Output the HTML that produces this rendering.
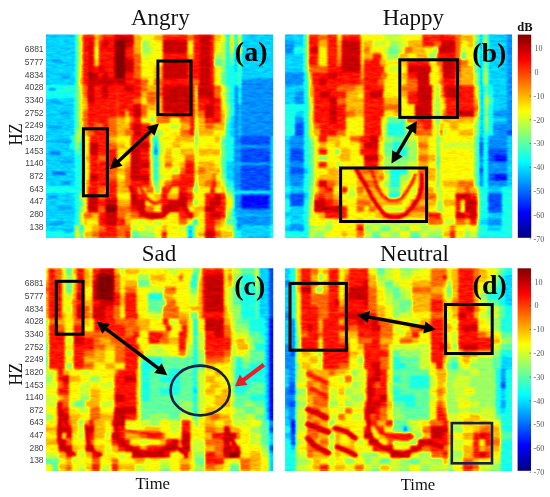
<!DOCTYPE html><html><head><meta charset="utf-8"><title>Spectrograms</title><style>
html,body{margin:0;padding:0;background:#fff;}
body{width:550px;height:497px;overflow:hidden;}
svg{display:block;}
.tt{font-family:"Liberation Serif",serif;font-size:23px;fill:#111;text-anchor:middle;}
.tm{font-family:"Liberation Serif",serif;font-size:16.6px;fill:#111;text-anchor:middle;}
.hz{font-family:"Liberation Serif",serif;font-size:19px;fill:#111;text-anchor:middle;}
.yl{font-family:"Liberation Sans",sans-serif;font-size:8.5px;fill:#444;text-anchor:end;}
.cl{font-family:"Liberation Serif",serif;font-size:8px;fill:#555;}
.db{font-family:"Liberation Serif",serif;font-size:12.5px;font-weight:bold;fill:#111;text-anchor:middle;}
.pl{font-family:"Liberation Serif",serif;font-size:28px;font-weight:bold;fill:#000;text-anchor:middle;}
</style></head><body><svg width="550" height="497" viewBox="0 0 550 497"><defs><filter id="jf" x="-2%" y="-2%" width="104%" height="104%" color-interpolation-filters="sRGB"><feGaussianBlur in="SourceGraphic" stdDeviation="1.0 0.8" result="b"/><feTurbulence type="fractalNoise" baseFrequency="0.14 0.42" numOctaves="2" seed="7" result="t"/><feColorMatrix in="t" type="matrix" values="1 0 0 0 0 1 0 0 0 0 1 0 0 0 0 0 0 0 0 1" result="n"/><feComposite in="b" in2="n" operator="arithmetic" k1="0" k2="1" k3="0.09" k4="-0.045" result="v"/><feComponentTransfer in="v"><feFuncR type="table" tableValues="0 0 0 0 0.5 1 1 1 0.5"/><feFuncG type="table" tableValues="0 0 0.5 1 1 1 0.5 0 0"/><feFuncB type="table" tableValues="0.5 1 1 1 0.5 0 0 0 0"/><feFuncA type="linear" slope="0" intercept="1"/></feComponentTransfer></filter><linearGradient id="jet" x1="0" y1="0" x2="0" y2="1"><stop offset="0.0000" stop-color="#800000"/><stop offset="0.0625" stop-color="#bf0000"/><stop offset="0.1250" stop-color="#ff0000"/><stop offset="0.1875" stop-color="#ff4000"/><stop offset="0.2500" stop-color="#ff8000"/><stop offset="0.3125" stop-color="#ffbf00"/><stop offset="0.3750" stop-color="#ffff00"/><stop offset="0.4375" stop-color="#bfff40"/><stop offset="0.5000" stop-color="#80ff80"/><stop offset="0.5625" stop-color="#40ffbf"/><stop offset="0.6250" stop-color="#00ffff"/><stop offset="0.6875" stop-color="#00bfff"/><stop offset="0.7500" stop-color="#0080ff"/><stop offset="0.8125" stop-color="#0040ff"/><stop offset="0.8750" stop-color="#0000ff"/><stop offset="0.9375" stop-color="#0000bf"/><stop offset="1.0000" stop-color="#000080"/></linearGradient></defs><rect width="550" height="497" fill="#fff"/><clipPath id="cpa"><rect x="46.0" y="34.5" width="227.2" height="203.5"/></clipPath><g clip-path="url(#cpa)"><g filter="url(#jf)"><rect x="44.0" y="34.2" width="32.2" height="6.96" fill="#555555"/><rect x="75.8" y="34.2" width="3.3" height="6.96" fill="#787878"/><rect x="78.7" y="34.2" width="4.1" height="6.96" fill="#a1a1a1"/><rect x="82.4" y="34.2" width="12.7" height="6.96" fill="#dbdbdb"/><rect x="94.7" y="34.2" width="4.1" height="6.96" fill="#b2b2b2"/><rect x="98.4" y="34.2" width="4.7" height="6.96" fill="#c6c6c6"/><rect x="102.7" y="34.2" width="12.1" height="6.96" fill="#dbdbdb"/><rect x="114.4" y="34.2" width="19.7" height="6.96" fill="#ededed"/><rect x="133.7" y="34.2" width="7.7" height="6.96" fill="#b2b2b2"/><rect x="141.0" y="34.2" width="13.4" height="6.96" fill="#a1a1a1"/><rect x="154.0" y="34.2" width="9.2" height="6.96" fill="#b2b2b2"/><rect x="162.8" y="34.2" width="25.1" height="6.96" fill="#dbdbdb"/><rect x="187.5" y="34.2" width="6.3" height="6.96" fill="#c6c6c6"/><rect x="193.4" y="34.2" width="6.2" height="6.96" fill="#dbdbdb"/><rect x="199.2" y="34.2" width="11.2" height="6.96" fill="#ededed"/><rect x="210.0" y="34.2" width="4.8" height="6.96" fill="#dbdbdb"/><rect x="214.4" y="34.2" width="7.3" height="6.96" fill="#b2b2b2"/><rect x="221.3" y="34.2" width="4.8" height="6.96" fill="#a1a1a1"/><rect x="225.7" y="34.2" width="4.8" height="6.96" fill="#666666"/><rect x="230.1" y="34.2" width="4.2" height="6.96" fill="#a1a1a1"/><rect x="233.9" y="34.2" width="4.8" height="6.96" fill="#666666"/><rect x="238.3" y="34.2" width="3.5" height="6.96" fill="#b2b2b2"/><rect x="241.4" y="34.2" width="34.2" height="6.96" fill="#555555"/><rect x="44.0" y="40.6" width="32.2" height="6.96" fill="#555555"/><rect x="75.8" y="40.6" width="3.3" height="6.96" fill="#787878"/><rect x="78.7" y="40.6" width="4.1" height="6.96" fill="#949494"/><rect x="82.4" y="40.6" width="6.2" height="6.96" fill="#dbdbdb"/><rect x="88.2" y="40.6" width="4.7" height="6.96" fill="#ededed"/><rect x="92.5" y="40.6" width="2.6" height="6.96" fill="#dbdbdb"/><rect x="94.7" y="40.6" width="4.1" height="6.96" fill="#a1a1a1"/><rect x="98.4" y="40.6" width="4.7" height="6.96" fill="#dbdbdb"/><rect x="102.7" y="40.6" width="6.2" height="6.96" fill="#ededed"/><rect x="108.5" y="40.6" width="6.3" height="6.96" fill="#dbdbdb"/><rect x="114.4" y="40.6" width="11.0" height="6.96" fill="#ffffff"/><rect x="125.0" y="40.6" width="9.1" height="6.96" fill="#ededed"/><rect x="133.7" y="40.6" width="7.7" height="6.96" fill="#b2b2b2"/><rect x="141.0" y="40.6" width="1.9" height="6.96" fill="#a1a1a1"/><rect x="142.5" y="40.6" width="7.6" height="6.96" fill="#878787"/><rect x="149.7" y="40.6" width="4.7" height="6.96" fill="#a1a1a1"/><rect x="154.0" y="40.6" width="9.2" height="6.96" fill="#a1a1a1"/><rect x="162.8" y="40.6" width="25.1" height="6.96" fill="#ededed"/><rect x="187.5" y="40.6" width="6.3" height="6.96" fill="#a1a1a1"/><rect x="193.4" y="40.6" width="6.2" height="6.96" fill="#dbdbdb"/><rect x="199.2" y="40.6" width="11.2" height="6.96" fill="#ededed"/><rect x="210.0" y="40.6" width="4.8" height="6.96" fill="#dbdbdb"/><rect x="214.4" y="40.6" width="7.3" height="6.96" fill="#a1a1a1"/><rect x="221.3" y="40.6" width="4.8" height="6.96" fill="#949494"/><rect x="225.7" y="40.6" width="4.8" height="6.96" fill="#666666"/><rect x="230.1" y="40.6" width="4.2" height="6.96" fill="#b2b2b2"/><rect x="233.9" y="40.6" width="4.8" height="6.96" fill="#666666"/><rect x="238.3" y="40.6" width="3.5" height="6.96" fill="#b2b2b2"/><rect x="241.4" y="40.6" width="34.2" height="6.96" fill="#555555"/><rect x="44.0" y="46.9" width="32.2" height="6.96" fill="#555555"/><rect x="75.8" y="46.9" width="3.3" height="6.96" fill="#787878"/><rect x="78.7" y="46.9" width="4.1" height="6.96" fill="#949494"/><rect x="82.4" y="46.9" width="6.2" height="6.96" fill="#dbdbdb"/><rect x="88.2" y="46.9" width="4.7" height="6.96" fill="#ededed"/><rect x="92.5" y="46.9" width="2.6" height="6.96" fill="#dbdbdb"/><rect x="94.7" y="46.9" width="4.1" height="6.96" fill="#949494"/><rect x="98.4" y="46.9" width="16.4" height="6.96" fill="#dbdbdb"/><rect x="114.4" y="46.9" width="11.0" height="6.96" fill="#ffffff"/><rect x="125.0" y="46.9" width="9.1" height="6.96" fill="#dbdbdb"/><rect x="133.7" y="46.9" width="7.7" height="6.96" fill="#b2b2b2"/><rect x="141.0" y="46.9" width="1.9" height="6.96" fill="#a1a1a1"/><rect x="142.5" y="46.9" width="7.6" height="6.96" fill="#878787"/><rect x="149.7" y="46.9" width="4.7" height="6.96" fill="#949494"/><rect x="154.0" y="46.9" width="9.2" height="6.96" fill="#a1a1a1"/><rect x="162.8" y="46.9" width="25.1" height="6.96" fill="#ededed"/><rect x="187.5" y="46.9" width="6.3" height="6.96" fill="#a1a1a1"/><rect x="193.4" y="46.9" width="6.2" height="6.96" fill="#dbdbdb"/><rect x="199.2" y="46.9" width="11.2" height="6.96" fill="#ededed"/><rect x="210.0" y="46.9" width="4.8" height="6.96" fill="#dbdbdb"/><rect x="214.4" y="46.9" width="7.3" height="6.96" fill="#a1a1a1"/><rect x="221.3" y="46.9" width="4.8" height="6.96" fill="#949494"/><rect x="225.7" y="46.9" width="4.8" height="6.96" fill="#666666"/><rect x="230.1" y="46.9" width="4.2" height="6.96" fill="#a1a1a1"/><rect x="233.9" y="46.9" width="4.8" height="6.96" fill="#555555"/><rect x="238.3" y="46.9" width="3.5" height="6.96" fill="#c6c6c6"/><rect x="241.4" y="46.9" width="34.2" height="6.96" fill="#555555"/><rect x="44.0" y="53.3" width="32.2" height="6.96" fill="#555555"/><rect x="75.8" y="53.3" width="3.3" height="6.96" fill="#787878"/><rect x="78.7" y="53.3" width="4.1" height="6.96" fill="#949494"/><rect x="82.4" y="53.3" width="6.2" height="6.96" fill="#dbdbdb"/><rect x="88.2" y="53.3" width="4.7" height="6.96" fill="#ededed"/><rect x="92.5" y="53.3" width="2.6" height="6.96" fill="#dbdbdb"/><rect x="94.7" y="53.3" width="4.1" height="6.96" fill="#949494"/><rect x="98.4" y="53.3" width="16.4" height="6.96" fill="#dbdbdb"/><rect x="114.4" y="53.3" width="11.0" height="6.96" fill="#ffffff"/><rect x="125.0" y="53.3" width="9.1" height="6.96" fill="#dbdbdb"/><rect x="133.7" y="53.3" width="7.7" height="6.96" fill="#c6c6c6"/><rect x="141.0" y="53.3" width="1.9" height="6.96" fill="#a1a1a1"/><rect x="142.5" y="53.3" width="7.6" height="6.96" fill="#949494"/><rect x="149.7" y="53.3" width="13.5" height="6.96" fill="#a1a1a1"/><rect x="162.8" y="53.3" width="25.1" height="6.96" fill="#dbdbdb"/><rect x="187.5" y="53.3" width="6.3" height="6.96" fill="#b2b2b2"/><rect x="193.4" y="53.3" width="6.2" height="6.96" fill="#dbdbdb"/><rect x="199.2" y="53.3" width="11.2" height="6.96" fill="#ededed"/><rect x="210.0" y="53.3" width="4.8" height="6.96" fill="#dbdbdb"/><rect x="214.4" y="53.3" width="7.3" height="6.96" fill="#878787"/><rect x="221.3" y="53.3" width="4.8" height="6.96" fill="#949494"/><rect x="225.7" y="53.3" width="4.8" height="6.96" fill="#666666"/><rect x="230.1" y="53.3" width="4.2" height="6.96" fill="#878787"/><rect x="233.9" y="53.3" width="4.8" height="6.96" fill="#555555"/><rect x="238.3" y="53.3" width="3.5" height="6.96" fill="#878787"/><rect x="241.4" y="53.3" width="34.2" height="6.96" fill="#555555"/><rect x="44.0" y="59.6" width="32.2" height="6.96" fill="#555555"/><rect x="75.8" y="59.6" width="3.3" height="6.96" fill="#787878"/><rect x="78.7" y="59.6" width="4.1" height="6.96" fill="#949494"/><rect x="82.4" y="59.6" width="6.2" height="6.96" fill="#dbdbdb"/><rect x="88.2" y="59.6" width="4.7" height="6.96" fill="#ededed"/><rect x="92.5" y="59.6" width="2.6" height="6.96" fill="#dbdbdb"/><rect x="94.7" y="59.6" width="4.1" height="6.96" fill="#a1a1a1"/><rect x="98.4" y="59.6" width="16.4" height="6.96" fill="#dbdbdb"/><rect x="114.4" y="59.6" width="11.0" height="6.96" fill="#ffffff"/><rect x="125.0" y="59.6" width="9.1" height="6.96" fill="#ededed"/><rect x="133.7" y="59.6" width="7.7" height="6.96" fill="#c6c6c6"/><rect x="141.0" y="59.6" width="22.2" height="6.96" fill="#a1a1a1"/><rect x="162.8" y="59.6" width="25.1" height="6.96" fill="#ededed"/><rect x="187.5" y="59.6" width="12.1" height="6.96" fill="#dbdbdb"/><rect x="199.2" y="59.6" width="11.2" height="6.96" fill="#ededed"/><rect x="210.0" y="59.6" width="4.8" height="6.96" fill="#dbdbdb"/><rect x="214.4" y="59.6" width="7.3" height="6.96" fill="#787878"/><rect x="221.3" y="59.6" width="4.8" height="6.96" fill="#878787"/><rect x="225.7" y="59.6" width="4.8" height="6.96" fill="#666666"/><rect x="230.1" y="59.6" width="4.2" height="6.96" fill="#787878"/><rect x="233.9" y="59.6" width="4.8" height="6.96" fill="#555555"/><rect x="238.3" y="59.6" width="3.5" height="6.96" fill="#878787"/><rect x="241.4" y="59.6" width="34.2" height="6.96" fill="#555555"/><rect x="44.0" y="66.0" width="32.2" height="6.96" fill="#555555"/><rect x="75.8" y="66.0" width="3.3" height="6.96" fill="#787878"/><rect x="78.7" y="66.0" width="4.1" height="6.96" fill="#a1a1a1"/><rect x="82.4" y="66.0" width="6.2" height="6.96" fill="#dbdbdb"/><rect x="88.2" y="66.0" width="4.7" height="6.96" fill="#ededed"/><rect x="92.5" y="66.0" width="6.3" height="6.96" fill="#dbdbdb"/><rect x="98.4" y="66.0" width="4.7" height="6.96" fill="#ededed"/><rect x="102.7" y="66.0" width="12.1" height="6.96" fill="#dbdbdb"/><rect x="114.4" y="66.0" width="11.0" height="6.96" fill="#ffffff"/><rect x="125.0" y="66.0" width="9.1" height="6.96" fill="#ededed"/><rect x="133.7" y="66.0" width="7.7" height="6.96" fill="#c6c6c6"/><rect x="141.0" y="66.0" width="13.4" height="6.96" fill="#a1a1a1"/><rect x="154.0" y="66.0" width="9.2" height="6.96" fill="#b2b2b2"/><rect x="162.8" y="66.0" width="25.1" height="6.96" fill="#ededed"/><rect x="187.5" y="66.0" width="12.1" height="6.96" fill="#dbdbdb"/><rect x="199.2" y="66.0" width="11.2" height="6.96" fill="#ededed"/><rect x="210.0" y="66.0" width="4.8" height="6.96" fill="#dbdbdb"/><rect x="214.4" y="66.0" width="7.3" height="6.96" fill="#a1a1a1"/><rect x="221.3" y="66.0" width="4.8" height="6.96" fill="#878787"/><rect x="225.7" y="66.0" width="8.6" height="6.96" fill="#666666"/><rect x="233.9" y="66.0" width="4.8" height="6.96" fill="#555555"/><rect x="238.3" y="66.0" width="3.5" height="6.96" fill="#787878"/><rect x="241.4" y="66.0" width="34.2" height="6.96" fill="#555555"/><rect x="44.0" y="72.4" width="32.2" height="6.96" fill="#555555"/><rect x="75.8" y="72.4" width="3.3" height="6.96" fill="#787878"/><rect x="78.7" y="72.4" width="4.1" height="6.96" fill="#a1a1a1"/><rect x="82.4" y="72.4" width="6.2" height="6.96" fill="#dbdbdb"/><rect x="88.2" y="72.4" width="4.7" height="6.96" fill="#ffffff"/><rect x="92.5" y="72.4" width="6.3" height="6.96" fill="#ededed"/><rect x="98.4" y="72.4" width="4.7" height="6.96" fill="#dbdbdb"/><rect x="102.7" y="72.4" width="6.2" height="6.96" fill="#ededed"/><rect x="108.5" y="72.4" width="6.3" height="6.96" fill="#dbdbdb"/><rect x="114.4" y="72.4" width="11.0" height="6.96" fill="#ffffff"/><rect x="125.0" y="72.4" width="9.1" height="6.96" fill="#dbdbdb"/><rect x="133.7" y="72.4" width="7.7" height="6.96" fill="#c6c6c6"/><rect x="141.0" y="72.4" width="13.4" height="6.96" fill="#a1a1a1"/><rect x="154.0" y="72.4" width="9.2" height="6.96" fill="#b2b2b2"/><rect x="162.8" y="72.4" width="25.1" height="6.96" fill="#ededed"/><rect x="187.5" y="72.4" width="12.1" height="6.96" fill="#dbdbdb"/><rect x="199.2" y="72.4" width="11.2" height="6.96" fill="#ededed"/><rect x="210.0" y="72.4" width="4.8" height="6.96" fill="#dbdbdb"/><rect x="214.4" y="72.4" width="7.3" height="6.96" fill="#a1a1a1"/><rect x="221.3" y="72.4" width="4.8" height="6.96" fill="#787878"/><rect x="225.7" y="72.4" width="8.6" height="6.96" fill="#666666"/><rect x="233.9" y="72.4" width="4.8" height="6.96" fill="#666666"/><rect x="238.3" y="72.4" width="3.5" height="6.96" fill="#787878"/><rect x="241.4" y="72.4" width="34.2" height="6.96" fill="#555555"/><rect x="44.0" y="78.7" width="32.2" height="6.96" fill="#555555"/><rect x="75.8" y="78.7" width="3.3" height="6.96" fill="#787878"/><rect x="78.7" y="78.7" width="4.1" height="6.96" fill="#b2b2b2"/><rect x="82.4" y="78.7" width="6.2" height="6.96" fill="#dbdbdb"/><rect x="88.2" y="78.7" width="26.6" height="6.96" fill="#ededed"/><rect x="114.4" y="78.7" width="11.0" height="6.96" fill="#ededed"/><rect x="125.0" y="78.7" width="9.1" height="6.96" fill="#dbdbdb"/><rect x="133.7" y="78.7" width="7.7" height="6.96" fill="#dbdbdb"/><rect x="141.0" y="78.7" width="7.4" height="6.96" fill="#c6c6c6"/><rect x="148.0" y="78.7" width="6.4" height="6.96" fill="#a1a1a1"/><rect x="154.0" y="78.7" width="9.2" height="6.96" fill="#c6c6c6"/><rect x="162.8" y="78.7" width="25.1" height="6.96" fill="#dbdbdb"/><rect x="187.5" y="78.7" width="6.3" height="6.96" fill="#dbdbdb"/><rect x="193.4" y="78.7" width="6.2" height="6.96" fill="#c6c6c6"/><rect x="199.2" y="78.7" width="11.2" height="6.96" fill="#ededed"/><rect x="210.0" y="78.7" width="4.8" height="6.96" fill="#dbdbdb"/><rect x="214.4" y="78.7" width="7.3" height="6.96" fill="#a1a1a1"/><rect x="221.3" y="78.7" width="4.8" height="6.96" fill="#787878"/><rect x="225.7" y="78.7" width="8.6" height="6.96" fill="#666666"/><rect x="233.9" y="78.7" width="4.8" height="6.96" fill="#666666"/><rect x="238.3" y="78.7" width="3.5" height="6.96" fill="#787878"/><rect x="241.4" y="78.7" width="34.2" height="6.96" fill="#444444"/><rect x="44.0" y="85.1" width="31.4" height="6.96" fill="#666666"/><rect x="75.0" y="85.1" width="4.9" height="6.96" fill="#787878"/><rect x="79.5" y="85.1" width="3.9" height="6.96" fill="#a1a1a1"/><rect x="83.0" y="85.1" width="4.9" height="6.96" fill="#c6c6c6"/><rect x="87.5" y="85.1" width="6.9" height="6.96" fill="#ededed"/><rect x="94.0" y="85.1" width="9.1" height="6.96" fill="#dbdbdb"/><rect x="102.7" y="85.1" width="6.2" height="6.96" fill="#ededed"/><rect x="108.5" y="85.1" width="16.9" height="6.96" fill="#dbdbdb"/><rect x="125.0" y="85.1" width="9.1" height="6.96" fill="#ededed"/><rect x="133.7" y="85.1" width="7.7" height="6.96" fill="#dbdbdb"/><rect x="141.0" y="85.1" width="6.2" height="6.96" fill="#c6c6c6"/><rect x="146.8" y="85.1" width="9.9" height="6.96" fill="#b2b2b2"/><rect x="156.3" y="85.1" width="6.9" height="6.96" fill="#c6c6c6"/><rect x="162.8" y="85.1" width="27.3" height="6.96" fill="#ededed"/><rect x="189.7" y="85.1" width="5.5" height="6.96" fill="#dbdbdb"/><rect x="194.8" y="85.1" width="3.3" height="6.96" fill="#a1a1a1"/><rect x="197.7" y="85.1" width="16.5" height="6.96" fill="#ededed"/><rect x="213.8" y="85.1" width="7.9" height="6.96" fill="#c6c6c6"/><rect x="221.3" y="85.1" width="4.8" height="6.96" fill="#a1a1a1"/><rect x="225.7" y="85.1" width="4.8" height="6.96" fill="#787878"/><rect x="230.1" y="85.1" width="4.8" height="6.96" fill="#666666"/><rect x="234.5" y="85.1" width="4.2" height="6.96" fill="#444444"/><rect x="238.3" y="85.1" width="3.5" height="6.96" fill="#666666"/><rect x="241.4" y="85.1" width="34.2" height="6.96" fill="#444444"/><rect x="44.0" y="91.4" width="31.4" height="6.96" fill="#666666"/><rect x="75.0" y="91.4" width="4.9" height="6.96" fill="#787878"/><rect x="79.5" y="91.4" width="3.9" height="6.96" fill="#a1a1a1"/><rect x="83.0" y="91.4" width="4.9" height="6.96" fill="#c6c6c6"/><rect x="87.5" y="91.4" width="6.9" height="6.96" fill="#ededed"/><rect x="94.0" y="91.4" width="9.1" height="6.96" fill="#dbdbdb"/><rect x="102.7" y="91.4" width="6.2" height="6.96" fill="#ededed"/><rect x="108.5" y="91.4" width="9.2" height="6.96" fill="#dbdbdb"/><rect x="117.3" y="91.4" width="8.1" height="6.96" fill="#dbdbdb"/><rect x="125.0" y="91.4" width="16.4" height="6.96" fill="#dbdbdb"/><rect x="141.0" y="91.4" width="6.2" height="6.96" fill="#b2b2b2"/><rect x="146.8" y="91.4" width="16.4" height="6.96" fill="#c6c6c6"/><rect x="162.8" y="91.4" width="27.3" height="6.96" fill="#ededed"/><rect x="189.7" y="91.4" width="5.5" height="6.96" fill="#dbdbdb"/><rect x="194.8" y="91.4" width="3.3" height="6.96" fill="#949494"/><rect x="197.7" y="91.4" width="16.5" height="6.96" fill="#ededed"/><rect x="213.8" y="91.4" width="7.9" height="6.96" fill="#c6c6c6"/><rect x="221.3" y="91.4" width="4.8" height="6.96" fill="#949494"/><rect x="225.7" y="91.4" width="4.8" height="6.96" fill="#787878"/><rect x="230.1" y="91.4" width="4.8" height="6.96" fill="#666666"/><rect x="234.5" y="91.4" width="4.2" height="6.96" fill="#444444"/><rect x="238.3" y="91.4" width="3.5" height="6.96" fill="#666666"/><rect x="241.4" y="91.4" width="34.2" height="6.96" fill="#444444"/><rect x="44.0" y="97.8" width="31.4" height="6.96" fill="#555555"/><rect x="75.0" y="97.8" width="4.9" height="6.96" fill="#787878"/><rect x="79.5" y="97.8" width="3.9" height="6.96" fill="#a1a1a1"/><rect x="83.0" y="97.8" width="4.9" height="6.96" fill="#b2b2b2"/><rect x="87.5" y="97.8" width="6.9" height="6.96" fill="#ededed"/><rect x="94.0" y="97.8" width="23.7" height="6.96" fill="#dbdbdb"/><rect x="117.3" y="97.8" width="8.1" height="6.96" fill="#dbdbdb"/><rect x="125.0" y="97.8" width="9.1" height="6.96" fill="#dbdbdb"/><rect x="133.7" y="97.8" width="7.7" height="6.96" fill="#c6c6c6"/><rect x="141.0" y="97.8" width="6.2" height="6.96" fill="#a1a1a1"/><rect x="146.8" y="97.8" width="9.6" height="6.96" fill="#c6c6c6"/><rect x="156.0" y="97.8" width="7.2" height="6.96" fill="#b2b2b2"/><rect x="162.8" y="97.8" width="27.3" height="6.96" fill="#ededed"/><rect x="189.7" y="97.8" width="5.5" height="6.96" fill="#dbdbdb"/><rect x="194.8" y="97.8" width="3.3" height="6.96" fill="#a1a1a1"/><rect x="197.7" y="97.8" width="12.7" height="6.96" fill="#dbdbdb"/><rect x="210.0" y="97.8" width="4.2" height="6.96" fill="#ededed"/><rect x="213.8" y="97.8" width="7.9" height="6.96" fill="#dbdbdb"/><rect x="221.3" y="97.8" width="4.8" height="6.96" fill="#a1a1a1"/><rect x="225.7" y="97.8" width="4.8" height="6.96" fill="#787878"/><rect x="230.1" y="97.8" width="4.8" height="6.96" fill="#666666"/><rect x="234.5" y="97.8" width="4.2" height="6.96" fill="#444444"/><rect x="238.3" y="97.8" width="3.5" height="6.96" fill="#666666"/><rect x="241.4" y="97.8" width="34.2" height="6.96" fill="#444444"/><rect x="44.0" y="104.2" width="31.4" height="6.96" fill="#555555"/><rect x="75.0" y="104.2" width="4.9" height="6.96" fill="#787878"/><rect x="79.5" y="104.2" width="3.9" height="6.96" fill="#a1a1a1"/><rect x="83.0" y="104.2" width="4.9" height="6.96" fill="#b2b2b2"/><rect x="87.5" y="104.2" width="21.4" height="6.96" fill="#dbdbdb"/><rect x="108.5" y="104.2" width="9.2" height="6.96" fill="#dbdbdb"/><rect x="117.3" y="104.2" width="8.1" height="6.96" fill="#dbdbdb"/><rect x="125.0" y="104.2" width="9.1" height="6.96" fill="#dbdbdb"/><rect x="133.7" y="104.2" width="7.7" height="6.96" fill="#ededed"/><rect x="141.0" y="104.2" width="6.2" height="6.96" fill="#c6c6c6"/><rect x="146.8" y="104.2" width="16.4" height="6.96" fill="#b2b2b2"/><rect x="162.8" y="104.2" width="27.3" height="6.96" fill="#ededed"/><rect x="189.7" y="104.2" width="5.5" height="6.96" fill="#dbdbdb"/><rect x="194.8" y="104.2" width="3.3" height="6.96" fill="#a1a1a1"/><rect x="197.7" y="104.2" width="7.7" height="6.96" fill="#dbdbdb"/><rect x="205.0" y="104.2" width="9.2" height="6.96" fill="#ededed"/><rect x="213.8" y="104.2" width="7.9" height="6.96" fill="#dbdbdb"/><rect x="221.3" y="104.2" width="4.8" height="6.96" fill="#a1a1a1"/><rect x="225.7" y="104.2" width="4.8" height="6.96" fill="#878787"/><rect x="230.1" y="104.2" width="4.8" height="6.96" fill="#666666"/><rect x="234.5" y="104.2" width="4.2" height="6.96" fill="#444444"/><rect x="238.3" y="104.2" width="3.5" height="6.96" fill="#555555"/><rect x="241.4" y="104.2" width="34.2" height="6.96" fill="#444444"/><rect x="44.0" y="110.5" width="31.4" height="6.96" fill="#555555"/><rect x="75.0" y="110.5" width="4.9" height="6.96" fill="#787878"/><rect x="79.5" y="110.5" width="3.9" height="6.96" fill="#a1a1a1"/><rect x="83.0" y="110.5" width="4.9" height="6.96" fill="#c6c6c6"/><rect x="87.5" y="110.5" width="21.4" height="6.96" fill="#dbdbdb"/><rect x="108.5" y="110.5" width="9.2" height="6.96" fill="#dbdbdb"/><rect x="117.3" y="110.5" width="8.1" height="6.96" fill="#dbdbdb"/><rect x="125.0" y="110.5" width="4.4" height="6.96" fill="#b2b2b2"/><rect x="129.0" y="110.5" width="5.1" height="6.96" fill="#dbdbdb"/><rect x="133.7" y="110.5" width="7.7" height="6.96" fill="#ededed"/><rect x="141.0" y="110.5" width="6.2" height="6.96" fill="#c6c6c6"/><rect x="146.8" y="110.5" width="9.6" height="6.96" fill="#a1a1a1"/><rect x="156.0" y="110.5" width="7.2" height="6.96" fill="#b2b2b2"/><rect x="162.8" y="110.5" width="9.6" height="6.96" fill="#dbdbdb"/><rect x="172.0" y="110.5" width="13.4" height="6.96" fill="#ededed"/><rect x="185.0" y="110.5" width="10.2" height="6.96" fill="#dbdbdb"/><rect x="194.8" y="110.5" width="3.3" height="6.96" fill="#a1a1a1"/><rect x="197.7" y="110.5" width="7.7" height="6.96" fill="#c6c6c6"/><rect x="205.0" y="110.5" width="9.2" height="6.96" fill="#ededed"/><rect x="213.8" y="110.5" width="7.9" height="6.96" fill="#dbdbdb"/><rect x="221.3" y="110.5" width="4.8" height="6.96" fill="#b2b2b2"/><rect x="225.7" y="110.5" width="4.8" height="6.96" fill="#878787"/><rect x="230.1" y="110.5" width="4.8" height="6.96" fill="#666666"/><rect x="234.5" y="110.5" width="4.2" height="6.96" fill="#444444"/><rect x="238.3" y="110.5" width="3.5" height="6.96" fill="#555555"/><rect x="241.4" y="110.5" width="34.2" height="6.96" fill="#444444"/><rect x="44.0" y="116.9" width="31.4" height="6.96" fill="#555555"/><rect x="75.0" y="116.9" width="4.9" height="6.96" fill="#787878"/><rect x="79.5" y="116.9" width="3.9" height="6.96" fill="#a1a1a1"/><rect x="83.0" y="116.9" width="4.9" height="6.96" fill="#c6c6c6"/><rect x="87.5" y="116.9" width="21.4" height="6.96" fill="#dbdbdb"/><rect x="108.5" y="116.9" width="9.2" height="6.96" fill="#c6c6c6"/><rect x="117.3" y="116.9" width="8.1" height="6.96" fill="#b2b2b2"/><rect x="125.0" y="116.9" width="5.4" height="6.96" fill="#a1a1a1"/><rect x="130.0" y="116.9" width="4.1" height="6.96" fill="#c6c6c6"/><rect x="133.7" y="116.9" width="7.7" height="6.96" fill="#dbdbdb"/><rect x="141.0" y="116.9" width="9.4" height="6.96" fill="#a1a1a1"/><rect x="150.0" y="116.9" width="6.4" height="6.96" fill="#878787"/><rect x="156.0" y="116.9" width="7.2" height="6.96" fill="#c6c6c6"/><rect x="162.8" y="116.9" width="7.6" height="6.96" fill="#c6c6c6"/><rect x="170.0" y="116.9" width="10.4" height="6.96" fill="#a1a1a1"/><rect x="180.0" y="116.9" width="10.4" height="6.96" fill="#c6c6c6"/><rect x="190.0" y="116.9" width="5.2" height="6.96" fill="#dbdbdb"/><rect x="194.8" y="116.9" width="3.3" height="6.96" fill="#878787"/><rect x="197.7" y="116.9" width="7.7" height="6.96" fill="#b2b2b2"/><rect x="205.0" y="116.9" width="16.7" height="6.96" fill="#dbdbdb"/><rect x="221.3" y="116.9" width="4.8" height="6.96" fill="#b2b2b2"/><rect x="225.7" y="116.9" width="4.8" height="6.96" fill="#787878"/><rect x="230.1" y="116.9" width="4.8" height="6.96" fill="#555555"/><rect x="234.5" y="116.9" width="4.2" height="6.96" fill="#444444"/><rect x="238.3" y="116.9" width="3.5" height="6.96" fill="#555555"/><rect x="241.4" y="116.9" width="34.2" height="6.96" fill="#444444"/><rect x="44.0" y="123.2" width="31.4" height="6.96" fill="#555555"/><rect x="75.0" y="123.2" width="4.9" height="6.96" fill="#787878"/><rect x="79.5" y="123.2" width="3.9" height="6.96" fill="#949494"/><rect x="83.0" y="123.2" width="4.9" height="6.96" fill="#c6c6c6"/><rect x="87.5" y="123.2" width="6.9" height="6.96" fill="#dbdbdb"/><rect x="94.0" y="123.2" width="9.1" height="6.96" fill="#c6c6c6"/><rect x="102.7" y="123.2" width="6.2" height="6.96" fill="#dbdbdb"/><rect x="108.5" y="123.2" width="9.2" height="6.96" fill="#c6c6c6"/><rect x="117.3" y="123.2" width="8.1" height="6.96" fill="#b2b2b2"/><rect x="125.0" y="123.2" width="5.4" height="6.96" fill="#b2b2b2"/><rect x="130.0" y="123.2" width="4.1" height="6.96" fill="#dbdbdb"/><rect x="133.7" y="123.2" width="7.7" height="6.96" fill="#ededed"/><rect x="141.0" y="123.2" width="9.4" height="6.96" fill="#dbdbdb"/><rect x="150.0" y="123.2" width="6.4" height="6.96" fill="#b2b2b2"/><rect x="156.0" y="123.2" width="7.2" height="6.96" fill="#a1a1a1"/><rect x="162.8" y="123.2" width="7.6" height="6.96" fill="#a1a1a1"/><rect x="170.0" y="123.2" width="10.4" height="6.96" fill="#949494"/><rect x="180.0" y="123.2" width="10.4" height="6.96" fill="#b2b2b2"/><rect x="190.0" y="123.2" width="5.2" height="6.96" fill="#dbdbdb"/><rect x="194.8" y="123.2" width="3.3" height="6.96" fill="#878787"/><rect x="197.7" y="123.2" width="7.7" height="6.96" fill="#b2b2b2"/><rect x="205.0" y="123.2" width="9.2" height="6.96" fill="#c6c6c6"/><rect x="213.8" y="123.2" width="12.3" height="6.96" fill="#b2b2b2"/><rect x="225.7" y="123.2" width="4.8" height="6.96" fill="#666666"/><rect x="230.1" y="123.2" width="4.8" height="6.96" fill="#555555"/><rect x="234.5" y="123.2" width="4.2" height="6.96" fill="#444444"/><rect x="238.3" y="123.2" width="3.5" height="6.96" fill="#555555"/><rect x="241.4" y="123.2" width="34.2" height="6.96" fill="#444444"/><rect x="44.0" y="129.6" width="31.4" height="6.96" fill="#555555"/><rect x="75.0" y="129.6" width="4.9" height="6.96" fill="#878787"/><rect x="79.5" y="129.6" width="3.9" height="6.96" fill="#949494"/><rect x="83.0" y="129.6" width="4.9" height="6.96" fill="#b2b2b2"/><rect x="87.5" y="129.6" width="6.9" height="6.96" fill="#c6c6c6"/><rect x="94.0" y="129.6" width="14.9" height="6.96" fill="#dbdbdb"/><rect x="108.5" y="129.6" width="9.2" height="6.96" fill="#c6c6c6"/><rect x="117.3" y="129.6" width="8.1" height="6.96" fill="#b2b2b2"/><rect x="125.0" y="129.6" width="9.1" height="6.96" fill="#c6c6c6"/><rect x="133.7" y="129.6" width="7.7" height="6.96" fill="#ededed"/><rect x="141.0" y="129.6" width="9.4" height="6.96" fill="#dbdbdb"/><rect x="150.0" y="129.6" width="6.4" height="6.96" fill="#b2b2b2"/><rect x="156.0" y="129.6" width="7.2" height="6.96" fill="#878787"/><rect x="162.8" y="129.6" width="17.6" height="6.96" fill="#a1a1a1"/><rect x="180.0" y="129.6" width="10.4" height="6.96" fill="#c6c6c6"/><rect x="190.0" y="129.6" width="5.2" height="6.96" fill="#dbdbdb"/><rect x="194.8" y="129.6" width="3.3" height="6.96" fill="#787878"/><rect x="197.7" y="129.6" width="7.7" height="6.96" fill="#b2b2b2"/><rect x="205.0" y="129.6" width="9.2" height="6.96" fill="#b2b2b2"/><rect x="213.8" y="129.6" width="12.3" height="6.96" fill="#a1a1a1"/><rect x="225.7" y="129.6" width="4.8" height="6.96" fill="#666666"/><rect x="230.1" y="129.6" width="4.8" height="6.96" fill="#555555"/><rect x="234.5" y="129.6" width="4.2" height="6.96" fill="#444444"/><rect x="238.3" y="129.6" width="3.5" height="6.96" fill="#555555"/><rect x="241.4" y="129.6" width="34.2" height="6.96" fill="#444444"/><rect x="44.0" y="135.9" width="26.4" height="6.96" fill="#555555"/><rect x="70.0" y="135.9" width="5.4" height="6.96" fill="#666666"/><rect x="75.0" y="135.9" width="4.9" height="6.96" fill="#949494"/><rect x="79.5" y="135.9" width="5.4" height="6.96" fill="#787878"/><rect x="84.5" y="135.9" width="5.5" height="6.96" fill="#a1a1a1"/><rect x="89.6" y="135.9" width="9.2" height="6.96" fill="#dbdbdb"/><rect x="98.4" y="135.9" width="10.5" height="6.96" fill="#dbdbdb"/><rect x="108.5" y="135.9" width="8.9" height="6.96" fill="#b2b2b2"/><rect x="117.0" y="135.9" width="14.2" height="6.96" fill="#a1a1a1"/><rect x="130.8" y="135.9" width="19.3" height="6.96" fill="#dbdbdb"/><rect x="149.7" y="135.9" width="4.1" height="6.96" fill="#949494"/><rect x="153.4" y="135.9" width="5.5" height="6.96" fill="#666666"/><rect x="158.5" y="135.9" width="16.9" height="6.96" fill="#a1a1a1"/><rect x="175.0" y="135.9" width="20.2" height="6.96" fill="#b2b2b2"/><rect x="194.8" y="135.9" width="3.3" height="6.96" fill="#787878"/><rect x="197.7" y="135.9" width="17.7" height="6.96" fill="#a1a1a1"/><rect x="215.0" y="135.9" width="6.7" height="6.96" fill="#b2b2b2"/><rect x="221.3" y="135.9" width="4.8" height="6.96" fill="#787878"/><rect x="225.7" y="135.9" width="8.6" height="6.96" fill="#666666"/><rect x="233.9" y="135.9" width="7.9" height="6.96" fill="#444444"/><rect x="241.4" y="135.9" width="29.2" height="6.96" fill="#333333"/><rect x="270.2" y="135.9" width="5.4" height="6.96" fill="#555555"/><rect x="44.0" y="142.3" width="26.4" height="6.96" fill="#555555"/><rect x="70.0" y="142.3" width="5.4" height="6.96" fill="#666666"/><rect x="75.0" y="142.3" width="4.9" height="6.96" fill="#878787"/><rect x="79.5" y="142.3" width="5.4" height="6.96" fill="#666666"/><rect x="84.5" y="142.3" width="5.5" height="6.96" fill="#a1a1a1"/><rect x="89.6" y="142.3" width="9.2" height="6.96" fill="#ededed"/><rect x="98.4" y="142.3" width="10.5" height="6.96" fill="#dbdbdb"/><rect x="108.5" y="142.3" width="8.9" height="6.96" fill="#c6c6c6"/><rect x="117.0" y="142.3" width="8.4" height="6.96" fill="#b2b2b2"/><rect x="125.0" y="142.3" width="6.2" height="6.96" fill="#a1a1a1"/><rect x="130.8" y="142.3" width="6.6" height="6.96" fill="#dbdbdb"/><rect x="137.0" y="142.3" width="13.1" height="6.96" fill="#ededed"/><rect x="149.7" y="142.3" width="4.1" height="6.96" fill="#a1a1a1"/><rect x="153.4" y="142.3" width="5.5" height="6.96" fill="#555555"/><rect x="158.5" y="142.3" width="6.2" height="6.96" fill="#949494"/><rect x="164.3" y="142.3" width="8.1" height="6.96" fill="#a1a1a1"/><rect x="172.0" y="142.3" width="8.4" height="6.96" fill="#b2b2b2"/><rect x="180.0" y="142.3" width="15.2" height="6.96" fill="#a1a1a1"/><rect x="194.8" y="142.3" width="3.3" height="6.96" fill="#878787"/><rect x="197.7" y="142.3" width="24.0" height="6.96" fill="#a1a1a1"/><rect x="221.3" y="142.3" width="4.8" height="6.96" fill="#787878"/><rect x="225.7" y="142.3" width="8.6" height="6.96" fill="#666666"/><rect x="233.9" y="142.3" width="7.9" height="6.96" fill="#444444"/><rect x="241.4" y="142.3" width="29.2" height="6.96" fill="#333333"/><rect x="270.2" y="142.3" width="5.4" height="6.96" fill="#555555"/><rect x="44.0" y="148.7" width="26.4" height="6.96" fill="#555555"/><rect x="70.0" y="148.7" width="5.4" height="6.96" fill="#555555"/><rect x="75.0" y="148.7" width="4.9" height="6.96" fill="#787878"/><rect x="79.5" y="148.7" width="5.4" height="6.96" fill="#666666"/><rect x="84.5" y="148.7" width="5.5" height="6.96" fill="#a1a1a1"/><rect x="89.6" y="148.7" width="9.2" height="6.96" fill="#ededed"/><rect x="98.4" y="148.7" width="10.5" height="6.96" fill="#dbdbdb"/><rect x="108.5" y="148.7" width="8.9" height="6.96" fill="#dbdbdb"/><rect x="117.0" y="148.7" width="8.4" height="6.96" fill="#a1a1a1"/><rect x="125.0" y="148.7" width="6.2" height="6.96" fill="#b2b2b2"/><rect x="130.8" y="148.7" width="9.6" height="6.96" fill="#ededed"/><rect x="140.0" y="148.7" width="10.1" height="6.96" fill="#dbdbdb"/><rect x="149.7" y="148.7" width="4.1" height="6.96" fill="#949494"/><rect x="153.4" y="148.7" width="5.5" height="6.96" fill="#444444"/><rect x="158.5" y="148.7" width="6.2" height="6.96" fill="#949494"/><rect x="164.3" y="148.7" width="8.1" height="6.96" fill="#b2b2b2"/><rect x="172.0" y="148.7" width="8.4" height="6.96" fill="#949494"/><rect x="180.0" y="148.7" width="15.2" height="6.96" fill="#b2b2b2"/><rect x="194.8" y="148.7" width="3.3" height="6.96" fill="#878787"/><rect x="197.7" y="148.7" width="24.0" height="6.96" fill="#b2b2b2"/><rect x="221.3" y="148.7" width="4.8" height="6.96" fill="#787878"/><rect x="225.7" y="148.7" width="8.6" height="6.96" fill="#666666"/><rect x="233.9" y="148.7" width="7.9" height="6.96" fill="#444444"/><rect x="241.4" y="148.7" width="29.2" height="6.96" fill="#333333"/><rect x="270.2" y="148.7" width="5.4" height="6.96" fill="#555555"/><rect x="44.0" y="155.0" width="26.4" height="6.96" fill="#555555"/><rect x="70.0" y="155.0" width="5.4" height="6.96" fill="#555555"/><rect x="75.0" y="155.0" width="9.9" height="6.96" fill="#666666"/><rect x="84.5" y="155.0" width="5.5" height="6.96" fill="#b2b2b2"/><rect x="89.6" y="155.0" width="9.2" height="6.96" fill="#dbdbdb"/><rect x="98.4" y="155.0" width="10.5" height="6.96" fill="#c6c6c6"/><rect x="108.5" y="155.0" width="8.9" height="6.96" fill="#dbdbdb"/><rect x="117.0" y="155.0" width="14.2" height="6.96" fill="#a1a1a1"/><rect x="130.8" y="155.0" width="9.6" height="6.96" fill="#ededed"/><rect x="140.0" y="155.0" width="10.1" height="6.96" fill="#dbdbdb"/><rect x="149.7" y="155.0" width="4.1" height="6.96" fill="#949494"/><rect x="153.4" y="155.0" width="5.5" height="6.96" fill="#666666"/><rect x="158.5" y="155.0" width="6.2" height="6.96" fill="#a1a1a1"/><rect x="164.3" y="155.0" width="8.1" height="6.96" fill="#b2b2b2"/><rect x="172.0" y="155.0" width="13.4" height="6.96" fill="#a1a1a1"/><rect x="185.0" y="155.0" width="10.2" height="6.96" fill="#c6c6c6"/><rect x="194.8" y="155.0" width="3.3" height="6.96" fill="#949494"/><rect x="197.7" y="155.0" width="24.0" height="6.96" fill="#a1a1a1"/><rect x="221.3" y="155.0" width="4.8" height="6.96" fill="#787878"/><rect x="225.7" y="155.0" width="8.6" height="6.96" fill="#666666"/><rect x="233.9" y="155.0" width="7.9" height="6.96" fill="#444444"/><rect x="241.4" y="155.0" width="29.2" height="6.96" fill="#333333"/><rect x="270.2" y="155.0" width="5.4" height="6.96" fill="#555555"/><rect x="44.0" y="161.4" width="26.4" height="6.96" fill="#555555"/><rect x="70.0" y="161.4" width="5.4" height="6.96" fill="#555555"/><rect x="75.0" y="161.4" width="9.9" height="6.96" fill="#666666"/><rect x="84.5" y="161.4" width="5.5" height="6.96" fill="#a1a1a1"/><rect x="89.6" y="161.4" width="9.2" height="6.96" fill="#dbdbdb"/><rect x="98.4" y="161.4" width="10.5" height="6.96" fill="#dbdbdb"/><rect x="108.5" y="161.4" width="8.9" height="6.96" fill="#dbdbdb"/><rect x="117.0" y="161.4" width="8.4" height="6.96" fill="#a1a1a1"/><rect x="125.0" y="161.4" width="6.2" height="6.96" fill="#b2b2b2"/><rect x="130.8" y="161.4" width="19.3" height="6.96" fill="#ededed"/><rect x="149.7" y="161.4" width="4.1" height="6.96" fill="#a1a1a1"/><rect x="153.4" y="161.4" width="5.5" height="6.96" fill="#666666"/><rect x="158.5" y="161.4" width="6.2" height="6.96" fill="#949494"/><rect x="164.3" y="161.4" width="8.1" height="6.96" fill="#c6c6c6"/><rect x="172.0" y="161.4" width="8.4" height="6.96" fill="#a1a1a1"/><rect x="180.0" y="161.4" width="5.4" height="6.96" fill="#b2b2b2"/><rect x="185.0" y="161.4" width="10.2" height="6.96" fill="#dbdbdb"/><rect x="194.8" y="161.4" width="3.3" height="6.96" fill="#949494"/><rect x="197.7" y="161.4" width="17.7" height="6.96" fill="#b2b2b2"/><rect x="215.0" y="161.4" width="6.7" height="6.96" fill="#a1a1a1"/><rect x="221.3" y="161.4" width="4.8" height="6.96" fill="#787878"/><rect x="225.7" y="161.4" width="8.6" height="6.96" fill="#555555"/><rect x="233.9" y="161.4" width="7.9" height="6.96" fill="#444444"/><rect x="241.4" y="161.4" width="29.2" height="6.96" fill="#333333"/><rect x="270.2" y="161.4" width="5.4" height="6.96" fill="#555555"/><rect x="44.0" y="167.7" width="26.4" height="6.96" fill="#555555"/><rect x="70.0" y="167.7" width="5.4" height="6.96" fill="#555555"/><rect x="75.0" y="167.7" width="9.9" height="6.96" fill="#666666"/><rect x="84.5" y="167.7" width="5.5" height="6.96" fill="#a1a1a1"/><rect x="89.6" y="167.7" width="9.2" height="6.96" fill="#dbdbdb"/><rect x="98.4" y="167.7" width="10.5" height="6.96" fill="#dbdbdb"/><rect x="108.5" y="167.7" width="8.9" height="6.96" fill="#c6c6c6"/><rect x="117.0" y="167.7" width="8.4" height="6.96" fill="#b2b2b2"/><rect x="125.0" y="167.7" width="6.2" height="6.96" fill="#c6c6c6"/><rect x="130.8" y="167.7" width="9.6" height="6.96" fill="#ededed"/><rect x="140.0" y="167.7" width="10.1" height="6.96" fill="#dbdbdb"/><rect x="149.7" y="167.7" width="4.1" height="6.96" fill="#a1a1a1"/><rect x="153.4" y="167.7" width="5.5" height="6.96" fill="#666666"/><rect x="158.5" y="167.7" width="13.9" height="6.96" fill="#a1a1a1"/><rect x="172.0" y="167.7" width="8.4" height="6.96" fill="#949494"/><rect x="180.0" y="167.7" width="5.4" height="6.96" fill="#c6c6c6"/><rect x="185.0" y="167.7" width="10.2" height="6.96" fill="#dbdbdb"/><rect x="194.8" y="167.7" width="3.3" height="6.96" fill="#a1a1a1"/><rect x="197.7" y="167.7" width="7.7" height="6.96" fill="#c6c6c6"/><rect x="205.0" y="167.7" width="16.7" height="6.96" fill="#b2b2b2"/><rect x="221.3" y="167.7" width="4.8" height="6.96" fill="#787878"/><rect x="225.7" y="167.7" width="8.6" height="6.96" fill="#555555"/><rect x="233.9" y="167.7" width="7.9" height="6.96" fill="#444444"/><rect x="241.4" y="167.7" width="29.2" height="6.96" fill="#333333"/><rect x="270.2" y="167.7" width="5.4" height="6.96" fill="#555555"/><rect x="44.0" y="174.1" width="26.4" height="6.96" fill="#555555"/><rect x="70.0" y="174.1" width="5.4" height="6.96" fill="#555555"/><rect x="75.0" y="174.1" width="9.9" height="6.96" fill="#666666"/><rect x="84.5" y="174.1" width="5.5" height="6.96" fill="#a1a1a1"/><rect x="89.6" y="174.1" width="9.2" height="6.96" fill="#ededed"/><rect x="98.4" y="174.1" width="10.5" height="6.96" fill="#dbdbdb"/><rect x="108.5" y="174.1" width="8.9" height="6.96" fill="#c6c6c6"/><rect x="117.0" y="174.1" width="8.4" height="6.96" fill="#a1a1a1"/><rect x="125.0" y="174.1" width="6.2" height="6.96" fill="#c6c6c6"/><rect x="130.8" y="174.1" width="19.3" height="6.96" fill="#ededed"/><rect x="149.7" y="174.1" width="4.1" height="6.96" fill="#a1a1a1"/><rect x="153.4" y="174.1" width="5.5" height="6.96" fill="#666666"/><rect x="158.5" y="174.1" width="6.2" height="6.96" fill="#949494"/><rect x="164.3" y="174.1" width="8.1" height="6.96" fill="#a1a1a1"/><rect x="172.0" y="174.1" width="8.4" height="6.96" fill="#c6c6c6"/><rect x="180.0" y="174.1" width="15.2" height="6.96" fill="#dbdbdb"/><rect x="194.8" y="174.1" width="3.3" height="6.96" fill="#949494"/><rect x="197.7" y="174.1" width="14.7" height="6.96" fill="#b2b2b2"/><rect x="212.0" y="174.1" width="4.4" height="6.96" fill="#c6c6c6"/><rect x="216.0" y="174.1" width="5.7" height="6.96" fill="#a1a1a1"/><rect x="221.3" y="174.1" width="4.8" height="6.96" fill="#878787"/><rect x="225.7" y="174.1" width="8.6" height="6.96" fill="#555555"/><rect x="233.9" y="174.1" width="7.9" height="6.96" fill="#444444"/><rect x="241.4" y="174.1" width="29.2" height="6.96" fill="#333333"/><rect x="270.2" y="174.1" width="5.4" height="6.96" fill="#555555"/><rect x="44.0" y="180.5" width="26.4" height="6.96" fill="#555555"/><rect x="70.0" y="180.5" width="5.4" height="6.96" fill="#555555"/><rect x="75.0" y="180.5" width="9.9" height="6.96" fill="#666666"/><rect x="84.5" y="180.5" width="5.5" height="6.96" fill="#b2b2b2"/><rect x="89.6" y="180.5" width="9.2" height="6.96" fill="#dbdbdb"/><rect x="98.4" y="180.5" width="10.5" height="6.96" fill="#dbdbdb"/><rect x="108.5" y="180.5" width="8.9" height="6.96" fill="#dbdbdb"/><rect x="117.0" y="180.5" width="8.4" height="6.96" fill="#b2b2b2"/><rect x="125.0" y="180.5" width="6.2" height="6.96" fill="#c6c6c6"/><rect x="130.8" y="180.5" width="19.3" height="6.96" fill="#dbdbdb"/><rect x="149.7" y="180.5" width="4.1" height="6.96" fill="#b2b2b2"/><rect x="153.4" y="180.5" width="5.5" height="6.96" fill="#787878"/><rect x="158.5" y="180.5" width="6.2" height="6.96" fill="#a1a1a1"/><rect x="164.3" y="180.5" width="8.1" height="6.96" fill="#c6c6c6"/><rect x="172.0" y="180.5" width="23.2" height="6.96" fill="#dbdbdb"/><rect x="194.8" y="180.5" width="3.3" height="6.96" fill="#787878"/><rect x="197.7" y="180.5" width="7.7" height="6.96" fill="#b2b2b2"/><rect x="205.0" y="180.5" width="7.4" height="6.96" fill="#c6c6c6"/><rect x="212.0" y="180.5" width="4.4" height="6.96" fill="#dbdbdb"/><rect x="216.0" y="180.5" width="5.7" height="6.96" fill="#b2b2b2"/><rect x="221.3" y="180.5" width="4.8" height="6.96" fill="#949494"/><rect x="225.7" y="180.5" width="8.6" height="6.96" fill="#666666"/><rect x="233.9" y="180.5" width="7.9" height="6.96" fill="#444444"/><rect x="241.4" y="180.5" width="29.2" height="6.96" fill="#333333"/><rect x="270.2" y="180.5" width="5.4" height="6.96" fill="#555555"/><rect x="44.0" y="186.8" width="40.2" height="6.96" fill="#666666"/><rect x="83.8" y="186.8" width="4.1" height="6.96" fill="#a1a1a1"/><rect x="87.5" y="186.8" width="11.3" height="6.96" fill="#dbdbdb"/><rect x="98.4" y="186.8" width="7.6" height="6.96" fill="#c6c6c6"/><rect x="105.6" y="186.8" width="3.3" height="6.96" fill="#b2b2b2"/><rect x="108.5" y="186.8" width="9.2" height="6.96" fill="#dbdbdb"/><rect x="117.3" y="186.8" width="8.1" height="6.96" fill="#b2b2b2"/><rect x="125.0" y="186.8" width="6.2" height="6.96" fill="#b2b2b2"/><rect x="130.8" y="186.8" width="7.7" height="6.96" fill="#dbdbdb"/><rect x="138.1" y="186.8" width="7.7" height="6.96" fill="#a1a1a1"/><rect x="145.4" y="186.8" width="9.1" height="6.96" fill="#c6c6c6"/><rect x="154.1" y="186.8" width="7.7" height="6.96" fill="#878787"/><rect x="161.4" y="186.8" width="6.2" height="6.96" fill="#dbdbdb"/><rect x="167.2" y="186.8" width="12.0" height="6.96" fill="#a1a1a1"/><rect x="178.8" y="186.8" width="9.1" height="6.96" fill="#dbdbdb"/><rect x="187.5" y="186.8" width="6.3" height="6.96" fill="#c6c6c6"/><rect x="193.4" y="186.8" width="4.7" height="6.96" fill="#878787"/><rect x="197.7" y="186.8" width="7.7" height="6.96" fill="#a1a1a1"/><rect x="205.0" y="186.8" width="5.4" height="6.96" fill="#a1a1a1"/><rect x="210.0" y="186.8" width="5.4" height="6.96" fill="#dbdbdb"/><rect x="215.0" y="186.8" width="6.7" height="6.96" fill="#a1a1a1"/><rect x="221.3" y="186.8" width="4.8" height="6.96" fill="#b2b2b2"/><rect x="225.7" y="186.8" width="8.6" height="6.96" fill="#787878"/><rect x="233.9" y="186.8" width="7.9" height="6.96" fill="#444444"/><rect x="241.4" y="186.8" width="29.2" height="6.96" fill="#333333"/><rect x="270.2" y="186.8" width="5.4" height="6.96" fill="#555555"/><rect x="44.0" y="193.2" width="31.4" height="6.96" fill="#555555"/><rect x="75.0" y="193.2" width="4.9" height="6.96" fill="#666666"/><rect x="79.5" y="193.2" width="4.7" height="6.96" fill="#949494"/><rect x="83.8" y="193.2" width="4.1" height="6.96" fill="#a1a1a1"/><rect x="87.5" y="193.2" width="11.3" height="6.96" fill="#ededed"/><rect x="98.4" y="193.2" width="7.6" height="6.96" fill="#c6c6c6"/><rect x="105.6" y="193.2" width="12.1" height="6.96" fill="#dbdbdb"/><rect x="117.3" y="193.2" width="13.9" height="6.96" fill="#a1a1a1"/><rect x="130.8" y="193.2" width="7.7" height="6.96" fill="#ededed"/><rect x="138.1" y="193.2" width="7.7" height="6.96" fill="#dbdbdb"/><rect x="145.4" y="193.2" width="9.1" height="6.96" fill="#a1a1a1"/><rect x="154.1" y="193.2" width="7.7" height="6.96" fill="#b2b2b2"/><rect x="161.4" y="193.2" width="6.2" height="6.96" fill="#ededed"/><rect x="167.2" y="193.2" width="12.0" height="6.96" fill="#b2b2b2"/><rect x="178.8" y="193.2" width="9.1" height="6.96" fill="#ededed"/><rect x="187.5" y="193.2" width="6.3" height="6.96" fill="#dbdbdb"/><rect x="193.4" y="193.2" width="12.0" height="6.96" fill="#a1a1a1"/><rect x="205.0" y="193.2" width="10.4" height="6.96" fill="#dbdbdb"/><rect x="215.0" y="193.2" width="6.7" height="6.96" fill="#ededed"/><rect x="221.3" y="193.2" width="4.8" height="6.96" fill="#dbdbdb"/><rect x="225.7" y="193.2" width="8.6" height="6.96" fill="#949494"/><rect x="233.9" y="193.2" width="7.9" height="6.96" fill="#444444"/><rect x="241.4" y="193.2" width="29.2" height="6.96" fill="#333333"/><rect x="270.2" y="193.2" width="5.4" height="6.96" fill="#555555"/><rect x="44.0" y="199.5" width="31.4" height="6.96" fill="#555555"/><rect x="75.0" y="199.5" width="4.9" height="6.96" fill="#666666"/><rect x="79.5" y="199.5" width="4.7" height="6.96" fill="#787878"/><rect x="83.8" y="199.5" width="4.1" height="6.96" fill="#a1a1a1"/><rect x="87.5" y="199.5" width="11.3" height="6.96" fill="#ededed"/><rect x="98.4" y="199.5" width="7.6" height="6.96" fill="#dbdbdb"/><rect x="105.6" y="199.5" width="12.1" height="6.96" fill="#ededed"/><rect x="117.3" y="199.5" width="13.9" height="6.96" fill="#b2b2b2"/><rect x="130.8" y="199.5" width="15.0" height="6.96" fill="#ededed"/><rect x="145.4" y="199.5" width="16.4" height="6.96" fill="#a1a1a1"/><rect x="161.4" y="199.5" width="6.2" height="6.96" fill="#dbdbdb"/><rect x="167.2" y="199.5" width="20.7" height="6.96" fill="#ededed"/><rect x="187.5" y="199.5" width="6.3" height="6.96" fill="#c6c6c6"/><rect x="193.4" y="199.5" width="4.7" height="6.96" fill="#878787"/><rect x="197.7" y="199.5" width="7.7" height="6.96" fill="#a1a1a1"/><rect x="205.0" y="199.5" width="5.4" height="6.96" fill="#dbdbdb"/><rect x="210.0" y="199.5" width="11.7" height="6.96" fill="#ededed"/><rect x="221.3" y="199.5" width="4.8" height="6.96" fill="#dbdbdb"/><rect x="225.7" y="199.5" width="8.6" height="6.96" fill="#a1a1a1"/><rect x="233.9" y="199.5" width="7.9" height="6.96" fill="#444444"/><rect x="241.4" y="199.5" width="19.0" height="6.96" fill="#222222"/><rect x="260.0" y="199.5" width="10.6" height="6.96" fill="#333333"/><rect x="270.2" y="199.5" width="5.4" height="6.96" fill="#555555"/><rect x="44.0" y="205.9" width="31.4" height="6.96" fill="#555555"/><rect x="75.0" y="205.9" width="4.9" height="6.96" fill="#666666"/><rect x="79.5" y="205.9" width="4.7" height="6.96" fill="#878787"/><rect x="83.8" y="205.9" width="4.1" height="6.96" fill="#a1a1a1"/><rect x="87.5" y="205.9" width="11.3" height="6.96" fill="#ededed"/><rect x="98.4" y="205.9" width="7.6" height="6.96" fill="#c6c6c6"/><rect x="105.6" y="205.9" width="12.1" height="6.96" fill="#ffffff"/><rect x="117.3" y="205.9" width="13.9" height="6.96" fill="#c6c6c6"/><rect x="130.8" y="205.9" width="7.7" height="6.96" fill="#dbdbdb"/><rect x="138.1" y="205.9" width="7.7" height="6.96" fill="#ededed"/><rect x="145.4" y="205.9" width="9.1" height="6.96" fill="#c6c6c6"/><rect x="154.1" y="205.9" width="7.7" height="6.96" fill="#a1a1a1"/><rect x="161.4" y="205.9" width="17.8" height="6.96" fill="#ededed"/><rect x="178.8" y="205.9" width="9.1" height="6.96" fill="#dbdbdb"/><rect x="187.5" y="205.9" width="6.3" height="6.96" fill="#a1a1a1"/><rect x="193.4" y="205.9" width="12.0" height="6.96" fill="#b2b2b2"/><rect x="205.0" y="205.9" width="10.4" height="6.96" fill="#ededed"/><rect x="215.0" y="205.9" width="11.1" height="6.96" fill="#dbdbdb"/><rect x="225.7" y="205.9" width="8.6" height="6.96" fill="#949494"/><rect x="233.9" y="205.9" width="7.9" height="6.96" fill="#444444"/><rect x="241.4" y="205.9" width="29.2" height="6.96" fill="#333333"/><rect x="270.2" y="205.9" width="5.4" height="6.96" fill="#555555"/><rect x="44.0" y="212.3" width="31.4" height="6.96" fill="#555555"/><rect x="75.0" y="212.3" width="4.9" height="6.96" fill="#666666"/><rect x="79.5" y="212.3" width="4.7" height="6.96" fill="#949494"/><rect x="83.8" y="212.3" width="8.6" height="6.96" fill="#c6c6c6"/><rect x="92.0" y="212.3" width="6.8" height="6.96" fill="#b2b2b2"/><rect x="98.4" y="212.3" width="7.6" height="6.96" fill="#dbdbdb"/><rect x="105.6" y="212.3" width="12.1" height="6.96" fill="#ededed"/><rect x="117.3" y="212.3" width="8.1" height="6.96" fill="#c6c6c6"/><rect x="125.0" y="212.3" width="6.2" height="6.96" fill="#b2b2b2"/><rect x="130.8" y="212.3" width="7.7" height="6.96" fill="#c6c6c6"/><rect x="138.1" y="212.3" width="7.7" height="6.96" fill="#dbdbdb"/><rect x="145.4" y="212.3" width="16.4" height="6.96" fill="#ededed"/><rect x="161.4" y="212.3" width="6.2" height="6.96" fill="#c6c6c6"/><rect x="167.2" y="212.3" width="12.0" height="6.96" fill="#a1a1a1"/><rect x="178.8" y="212.3" width="9.1" height="6.96" fill="#dbdbdb"/><rect x="187.5" y="212.3" width="6.3" height="6.96" fill="#ededed"/><rect x="193.4" y="212.3" width="4.7" height="6.96" fill="#b2b2b2"/><rect x="197.7" y="212.3" width="7.7" height="6.96" fill="#a1a1a1"/><rect x="205.0" y="212.3" width="5.4" height="6.96" fill="#dbdbdb"/><rect x="210.0" y="212.3" width="11.7" height="6.96" fill="#ededed"/><rect x="221.3" y="212.3" width="4.8" height="6.96" fill="#dbdbdb"/><rect x="225.7" y="212.3" width="8.6" height="6.96" fill="#878787"/><rect x="233.9" y="212.3" width="7.9" height="6.96" fill="#555555"/><rect x="241.4" y="212.3" width="29.2" height="6.96" fill="#444444"/><rect x="270.2" y="212.3" width="5.4" height="6.96" fill="#555555"/><rect x="44.0" y="218.6" width="31.4" height="6.96" fill="#555555"/><rect x="75.0" y="218.6" width="4.9" height="6.96" fill="#666666"/><rect x="79.5" y="218.6" width="4.7" height="6.96" fill="#949494"/><rect x="83.8" y="218.6" width="4.1" height="6.96" fill="#b2b2b2"/><rect x="87.5" y="218.6" width="11.3" height="6.96" fill="#a1a1a1"/><rect x="98.4" y="218.6" width="7.6" height="6.96" fill="#dbdbdb"/><rect x="105.6" y="218.6" width="12.1" height="6.96" fill="#ededed"/><rect x="117.3" y="218.6" width="8.1" height="6.96" fill="#dbdbdb"/><rect x="125.0" y="218.6" width="6.2" height="6.96" fill="#b2b2b2"/><rect x="130.8" y="218.6" width="7.7" height="6.96" fill="#a1a1a1"/><rect x="138.1" y="218.6" width="7.7" height="6.96" fill="#949494"/><rect x="145.4" y="218.6" width="9.1" height="6.96" fill="#a1a1a1"/><rect x="154.1" y="218.6" width="7.7" height="6.96" fill="#949494"/><rect x="161.4" y="218.6" width="17.8" height="6.96" fill="#a1a1a1"/><rect x="178.8" y="218.6" width="9.1" height="6.96" fill="#c6c6c6"/><rect x="187.5" y="218.6" width="6.3" height="6.96" fill="#a1a1a1"/><rect x="193.4" y="218.6" width="4.7" height="6.96" fill="#666666"/><rect x="197.7" y="218.6" width="7.7" height="6.96" fill="#a1a1a1"/><rect x="205.0" y="218.6" width="10.4" height="6.96" fill="#dbdbdb"/><rect x="215.0" y="218.6" width="6.7" height="6.96" fill="#c6c6c6"/><rect x="221.3" y="218.6" width="4.8" height="6.96" fill="#b2b2b2"/><rect x="225.7" y="218.6" width="8.6" height="6.96" fill="#787878"/><rect x="233.9" y="218.6" width="7.9" height="6.96" fill="#666666"/><rect x="241.4" y="218.6" width="29.2" height="6.96" fill="#444444"/><rect x="270.2" y="218.6" width="5.4" height="6.96" fill="#555555"/><rect x="44.0" y="225.0" width="31.4" height="6.96" fill="#555555"/><rect x="75.0" y="225.0" width="4.9" height="6.96" fill="#949494"/><rect x="79.5" y="225.0" width="4.7" height="6.96" fill="#666666"/><rect x="83.8" y="225.0" width="8.6" height="6.96" fill="#a1a1a1"/><rect x="92.0" y="225.0" width="6.8" height="6.96" fill="#b2b2b2"/><rect x="98.4" y="225.0" width="7.6" height="6.96" fill="#c6c6c6"/><rect x="105.6" y="225.0" width="12.1" height="6.96" fill="#dbdbdb"/><rect x="117.3" y="225.0" width="13.9" height="6.96" fill="#c6c6c6"/><rect x="130.8" y="225.0" width="7.7" height="6.96" fill="#949494"/><rect x="138.1" y="225.0" width="7.7" height="6.96" fill="#a1a1a1"/><rect x="145.4" y="225.0" width="9.1" height="6.96" fill="#949494"/><rect x="154.1" y="225.0" width="7.7" height="6.96" fill="#a1a1a1"/><rect x="161.4" y="225.0" width="6.2" height="6.96" fill="#b2b2b2"/><rect x="167.2" y="225.0" width="12.0" height="6.96" fill="#a1a1a1"/><rect x="178.8" y="225.0" width="9.1" height="6.96" fill="#949494"/><rect x="187.5" y="225.0" width="6.3" height="6.96" fill="#555555"/><rect x="193.4" y="225.0" width="4.7" height="6.96" fill="#949494"/><rect x="197.7" y="225.0" width="7.7" height="6.96" fill="#a1a1a1"/><rect x="205.0" y="225.0" width="10.4" height="6.96" fill="#dbdbdb"/><rect x="215.0" y="225.0" width="6.7" height="6.96" fill="#b2b2b2"/><rect x="221.3" y="225.0" width="4.8" height="6.96" fill="#a1a1a1"/><rect x="225.7" y="225.0" width="8.6" height="6.96" fill="#949494"/><rect x="233.9" y="225.0" width="7.9" height="6.96" fill="#666666"/><rect x="241.4" y="225.0" width="29.2" height="6.96" fill="#555555"/><rect x="270.2" y="225.0" width="5.4" height="6.96" fill="#666666"/><rect x="44.0" y="231.3" width="31.4" height="6.96" fill="#666666"/><rect x="75.0" y="231.3" width="4.9" height="6.96" fill="#a1a1a1"/><rect x="79.5" y="231.3" width="4.7" height="6.96" fill="#787878"/><rect x="83.8" y="231.3" width="8.6" height="6.96" fill="#b2b2b2"/><rect x="92.0" y="231.3" width="6.8" height="6.96" fill="#c6c6c6"/><rect x="98.4" y="231.3" width="19.3" height="6.96" fill="#dbdbdb"/><rect x="117.3" y="231.3" width="8.1" height="6.96" fill="#c6c6c6"/><rect x="125.0" y="231.3" width="6.2" height="6.96" fill="#dbdbdb"/><rect x="130.8" y="231.3" width="7.7" height="6.96" fill="#787878"/><rect x="138.1" y="231.3" width="16.4" height="6.96" fill="#878787"/><rect x="154.1" y="231.3" width="7.7" height="6.96" fill="#a1a1a1"/><rect x="161.4" y="231.3" width="6.2" height="6.96" fill="#dbdbdb"/><rect x="167.2" y="231.3" width="20.7" height="6.96" fill="#a1a1a1"/><rect x="187.5" y="231.3" width="6.3" height="6.96" fill="#555555"/><rect x="193.4" y="231.3" width="4.7" height="6.96" fill="#949494"/><rect x="197.7" y="231.3" width="7.7" height="6.96" fill="#b2b2b2"/><rect x="205.0" y="231.3" width="10.4" height="6.96" fill="#ededed"/><rect x="215.0" y="231.3" width="6.7" height="6.96" fill="#c6c6c6"/><rect x="221.3" y="231.3" width="4.8" height="6.96" fill="#b2b2b2"/><rect x="225.7" y="231.3" width="8.6" height="6.96" fill="#b2b2b2"/><rect x="233.9" y="231.3" width="7.9" height="6.96" fill="#666666"/><rect x="241.4" y="231.3" width="29.2" height="6.96" fill="#555555"/><rect x="270.2" y="231.3" width="5.4" height="6.96" fill="#666666"/><rect x="48" y="126" width="14.0" height="2.5" fill="#444444"/><rect x="56" y="140" width="16.0" height="2.5" fill="#444444"/><rect x="50" y="152" width="10.0" height="2.5" fill="#333333"/><rect x="62" y="160" width="12.0" height="2.5" fill="#444444"/><rect x="52" y="172" width="14.0" height="2.5" fill="#333333"/><rect x="60" y="182" width="10.0" height="2.5" fill="#444444"/><rect x="48" y="196" width="10.0" height="2.5" fill="#444444"/><rect x="58" y="207" width="14.0" height="2.5" fill="#444444"/><rect x="50" y="222" width="14.0" height="2.5" fill="#444444"/><rect x="64" y="230" width="10.0" height="2.5" fill="#444444"/><rect x="50" y="100" width="10.0" height="2.5" fill="#444444"/><rect x="60" y="112" width="10.0" height="2.5" fill="#444444"/><rect x="52" y="60" width="10.0" height="2.5" fill="#444444"/><rect x="62" y="76" width="8.0" height="2.5" fill="#444444"/><rect x="48" y="88" width="8.0" height="2.5" fill="#444444"/><rect x="236.8" y="136" width="4.2" height="94.0" fill="#444444"/><rect x="231.6" y="145.5" width="38.4" height="2.0" fill="#555555"/><rect x="231.6" y="163" width="38.4" height="2.0" fill="#555555"/><rect x="231.6" y="190.8" width="38.4" height="3.0" fill="#666666"/><rect x="231.6" y="209.5" width="38.4" height="2.0" fill="#555555"/><rect x="231.6" y="214" width="38.4" height="2.0" fill="#555555"/><rect x="242" y="195" width="26.0" height="13.5" fill="#222222"/><path d="M130.7,187.1 L135.5,201.3 L142.6,213.1 L152.0,217.8 L161.5,216.6 L168.6,210.7 L170.9,203.6 L175.7,202.5 L182.7,206.0 L187.5,210.7" fill="none" stroke="#ededed" stroke-width="4" stroke-linecap="round" stroke-linejoin="round"/><path d="M137.8,181.0 L141.4,189.5 L147.3,198.9 L154.4,203.6 L161.5,201.3 L166.2,194.2 L170.9,186.0" fill="none" stroke="#dbdbdb" stroke-width="3.5" stroke-linecap="round" stroke-linejoin="round"/></g></g><clipPath id="cpb"><rect x="285.1" y="34.5" width="226.9" height="203.5"/></clipPath><g clip-path="url(#cpb)"><g filter="url(#jf)"><rect x="283.1" y="34.2" width="21.2" height="6.96" fill="#555555"/><rect x="303.9" y="34.2" width="4.8" height="6.96" fill="#787878"/><rect x="308.3" y="34.2" width="10.6" height="6.96" fill="#dbdbdb"/><rect x="318.5" y="34.2" width="9.1" height="6.96" fill="#c6c6c6"/><rect x="327.2" y="34.2" width="10.6" height="6.96" fill="#dbdbdb"/><rect x="337.4" y="34.2" width="4.7" height="6.96" fill="#a1a1a1"/><rect x="341.7" y="34.2" width="19.3" height="6.96" fill="#dbdbdb"/><rect x="360.6" y="34.2" width="24.2" height="6.96" fill="#a1a1a1"/><rect x="384.4" y="34.2" width="17.8" height="6.96" fill="#949494"/><rect x="401.8" y="34.2" width="20.8" height="6.96" fill="#a1a1a1"/><rect x="422.2" y="34.2" width="19.3" height="6.96" fill="#dbdbdb"/><rect x="441.1" y="34.2" width="2.3" height="6.96" fill="#ededed"/><rect x="443.0" y="34.2" width="12.9" height="6.96" fill="#dbdbdb"/><rect x="455.5" y="34.2" width="5.5" height="6.96" fill="#c6c6c6"/><rect x="460.6" y="34.2" width="14.2" height="6.96" fill="#b2b2b2"/><rect x="474.4" y="34.2" width="5.4" height="6.96" fill="#878787"/><rect x="479.4" y="34.2" width="4.2" height="6.96" fill="#555555"/><rect x="483.2" y="34.2" width="5.4" height="6.96" fill="#878787"/><rect x="488.2" y="34.2" width="19.2" height="6.96" fill="#555555"/><rect x="507.0" y="34.2" width="7.4" height="6.96" fill="#444444"/><rect x="283.1" y="40.6" width="11.3" height="6.96" fill="#444444"/><rect x="294.0" y="40.6" width="10.3" height="6.96" fill="#555555"/><rect x="303.9" y="40.6" width="4.8" height="6.96" fill="#787878"/><rect x="308.3" y="40.6" width="10.6" height="6.96" fill="#dbdbdb"/><rect x="318.5" y="40.6" width="9.1" height="6.96" fill="#b2b2b2"/><rect x="327.2" y="40.6" width="10.6" height="6.96" fill="#dbdbdb"/><rect x="337.4" y="40.6" width="4.7" height="6.96" fill="#b2b2b2"/><rect x="341.7" y="40.6" width="19.3" height="6.96" fill="#ededed"/><rect x="360.6" y="40.6" width="3.8" height="6.96" fill="#a1a1a1"/><rect x="364.0" y="40.6" width="9.1" height="6.96" fill="#b2b2b2"/><rect x="372.7" y="40.6" width="12.1" height="6.96" fill="#949494"/><rect x="384.4" y="40.6" width="6.2" height="6.96" fill="#a1a1a1"/><rect x="390.2" y="40.6" width="9.1" height="6.96" fill="#878787"/><rect x="398.9" y="40.6" width="9.1" height="6.96" fill="#949494"/><rect x="407.6" y="40.6" width="15.0" height="6.96" fill="#b2b2b2"/><rect x="422.2" y="40.6" width="12.0" height="6.96" fill="#dbdbdb"/><rect x="433.8" y="40.6" width="7.7" height="6.96" fill="#c6c6c6"/><rect x="441.1" y="40.6" width="14.8" height="6.96" fill="#ededed"/><rect x="455.5" y="40.6" width="5.5" height="6.96" fill="#c6c6c6"/><rect x="460.6" y="40.6" width="7.8" height="6.96" fill="#a1a1a1"/><rect x="468.0" y="40.6" width="6.8" height="6.96" fill="#b2b2b2"/><rect x="474.4" y="40.6" width="5.4" height="6.96" fill="#787878"/><rect x="479.4" y="40.6" width="4.2" height="6.96" fill="#555555"/><rect x="483.2" y="40.6" width="5.4" height="6.96" fill="#949494"/><rect x="488.2" y="40.6" width="19.2" height="6.96" fill="#555555"/><rect x="507.0" y="40.6" width="7.4" height="6.96" fill="#444444"/><rect x="283.1" y="46.9" width="11.3" height="6.96" fill="#444444"/><rect x="294.0" y="46.9" width="10.3" height="6.96" fill="#666666"/><rect x="303.9" y="46.9" width="4.8" height="6.96" fill="#787878"/><rect x="308.3" y="46.9" width="4.1" height="6.96" fill="#dbdbdb"/><rect x="312.0" y="46.9" width="6.9" height="6.96" fill="#ededed"/><rect x="318.5" y="46.9" width="9.1" height="6.96" fill="#a1a1a1"/><rect x="327.2" y="46.9" width="10.6" height="6.96" fill="#dbdbdb"/><rect x="337.4" y="46.9" width="4.7" height="6.96" fill="#b2b2b2"/><rect x="341.7" y="46.9" width="19.3" height="6.96" fill="#ededed"/><rect x="360.6" y="46.9" width="3.8" height="6.96" fill="#a1a1a1"/><rect x="364.0" y="46.9" width="6.2" height="6.96" fill="#c6c6c6"/><rect x="369.8" y="46.9" width="15.0" height="6.96" fill="#a1a1a1"/><rect x="384.4" y="46.9" width="4.7" height="6.96" fill="#949494"/><rect x="388.7" y="46.9" width="10.6" height="6.96" fill="#787878"/><rect x="398.9" y="46.9" width="6.2" height="6.96" fill="#949494"/><rect x="404.7" y="46.9" width="7.7" height="6.96" fill="#c6c6c6"/><rect x="412.0" y="46.9" width="13.5" height="6.96" fill="#b2b2b2"/><rect x="425.1" y="46.9" width="9.1" height="6.96" fill="#a1a1a1"/><rect x="433.8" y="46.9" width="4.8" height="6.96" fill="#878787"/><rect x="438.2" y="46.9" width="17.7" height="6.96" fill="#ededed"/><rect x="455.5" y="46.9" width="5.5" height="6.96" fill="#c6c6c6"/><rect x="460.6" y="46.9" width="7.8" height="6.96" fill="#949494"/><rect x="468.0" y="46.9" width="6.8" height="6.96" fill="#a1a1a1"/><rect x="474.4" y="46.9" width="5.4" height="6.96" fill="#787878"/><rect x="479.4" y="46.9" width="4.2" height="6.96" fill="#555555"/><rect x="483.2" y="46.9" width="5.4" height="6.96" fill="#878787"/><rect x="488.2" y="46.9" width="19.2" height="6.96" fill="#555555"/><rect x="507.0" y="46.9" width="7.4" height="6.96" fill="#444444"/><rect x="283.1" y="53.3" width="21.2" height="6.96" fill="#555555"/><rect x="303.9" y="53.3" width="4.8" height="6.96" fill="#787878"/><rect x="308.3" y="53.3" width="10.6" height="6.96" fill="#dbdbdb"/><rect x="318.5" y="53.3" width="9.1" height="6.96" fill="#a1a1a1"/><rect x="327.2" y="53.3" width="10.6" height="6.96" fill="#dbdbdb"/><rect x="337.4" y="53.3" width="4.7" height="6.96" fill="#b2b2b2"/><rect x="341.7" y="53.3" width="19.3" height="6.96" fill="#ededed"/><rect x="360.6" y="53.3" width="3.8" height="6.96" fill="#a1a1a1"/><rect x="364.0" y="53.3" width="9.1" height="6.96" fill="#b2b2b2"/><rect x="372.7" y="53.3" width="9.2" height="6.96" fill="#dbdbdb"/><rect x="381.5" y="53.3" width="6.2" height="6.96" fill="#a1a1a1"/><rect x="387.3" y="53.3" width="12.0" height="6.96" fill="#878787"/><rect x="398.9" y="53.3" width="9.1" height="6.96" fill="#b2b2b2"/><rect x="407.6" y="53.3" width="9.2" height="6.96" fill="#a1a1a1"/><rect x="416.4" y="53.3" width="12.0" height="6.96" fill="#b2b2b2"/><rect x="428.0" y="53.3" width="9.1" height="6.96" fill="#878787"/><rect x="436.7" y="53.3" width="19.2" height="6.96" fill="#dbdbdb"/><rect x="455.5" y="53.3" width="5.5" height="6.96" fill="#c6c6c6"/><rect x="460.6" y="53.3" width="5.8" height="6.96" fill="#787878"/><rect x="466.0" y="53.3" width="8.8" height="6.96" fill="#a1a1a1"/><rect x="474.4" y="53.3" width="5.4" height="6.96" fill="#787878"/><rect x="479.4" y="53.3" width="4.2" height="6.96" fill="#555555"/><rect x="483.2" y="53.3" width="5.4" height="6.96" fill="#787878"/><rect x="488.2" y="53.3" width="19.2" height="6.96" fill="#555555"/><rect x="507.0" y="53.3" width="7.4" height="6.96" fill="#444444"/><rect x="283.1" y="59.6" width="21.2" height="6.96" fill="#555555"/><rect x="303.9" y="59.6" width="4.8" height="6.96" fill="#787878"/><rect x="308.3" y="59.6" width="10.6" height="6.96" fill="#dbdbdb"/><rect x="318.5" y="59.6" width="9.1" height="6.96" fill="#a1a1a1"/><rect x="327.2" y="59.6" width="10.6" height="6.96" fill="#dbdbdb"/><rect x="337.4" y="59.6" width="4.7" height="6.96" fill="#c6c6c6"/><rect x="341.7" y="59.6" width="19.3" height="6.96" fill="#ededed"/><rect x="360.6" y="59.6" width="3.8" height="6.96" fill="#a1a1a1"/><rect x="364.0" y="59.6" width="16.4" height="6.96" fill="#dbdbdb"/><rect x="380.0" y="59.6" width="6.2" height="6.96" fill="#b2b2b2"/><rect x="385.8" y="59.6" width="15.7" height="6.96" fill="#a1a1a1"/><rect x="401.1" y="59.6" width="6.9" height="6.96" fill="#b2b2b2"/><rect x="407.6" y="59.6" width="22.3" height="6.96" fill="#dbdbdb"/><rect x="429.5" y="59.6" width="7.6" height="6.96" fill="#a1a1a1"/><rect x="436.7" y="59.6" width="6.7" height="6.96" fill="#c6c6c6"/><rect x="443.0" y="59.6" width="12.9" height="6.96" fill="#ededed"/><rect x="455.5" y="59.6" width="5.5" height="6.96" fill="#dbdbdb"/><rect x="460.6" y="59.6" width="7.8" height="6.96" fill="#c6c6c6"/><rect x="468.0" y="59.6" width="6.8" height="6.96" fill="#a1a1a1"/><rect x="474.4" y="59.6" width="5.4" height="6.96" fill="#787878"/><rect x="479.4" y="59.6" width="4.2" height="6.96" fill="#555555"/><rect x="483.2" y="59.6" width="5.4" height="6.96" fill="#787878"/><rect x="488.2" y="59.6" width="19.2" height="6.96" fill="#555555"/><rect x="507.0" y="59.6" width="7.4" height="6.96" fill="#444444"/><rect x="283.1" y="66.0" width="21.2" height="6.96" fill="#555555"/><rect x="303.9" y="66.0" width="4.8" height="6.96" fill="#787878"/><rect x="308.3" y="66.0" width="10.6" height="6.96" fill="#c6c6c6"/><rect x="318.5" y="66.0" width="9.1" height="6.96" fill="#c6c6c6"/><rect x="327.2" y="66.0" width="14.9" height="6.96" fill="#dbdbdb"/><rect x="341.7" y="66.0" width="19.3" height="6.96" fill="#ededed"/><rect x="360.6" y="66.0" width="3.8" height="6.96" fill="#b2b2b2"/><rect x="364.0" y="66.0" width="20.8" height="6.96" fill="#dbdbdb"/><rect x="384.4" y="66.0" width="6.2" height="6.96" fill="#a1a1a1"/><rect x="390.2" y="66.0" width="11.3" height="6.96" fill="#949494"/><rect x="401.1" y="66.0" width="6.9" height="6.96" fill="#a1a1a1"/><rect x="407.6" y="66.0" width="23.7" height="6.96" fill="#ededed"/><rect x="430.9" y="66.0" width="9.1" height="6.96" fill="#a1a1a1"/><rect x="439.6" y="66.0" width="3.8" height="6.96" fill="#c6c6c6"/><rect x="443.0" y="66.0" width="12.9" height="6.96" fill="#ededed"/><rect x="455.5" y="66.0" width="5.5" height="6.96" fill="#dbdbdb"/><rect x="460.6" y="66.0" width="14.2" height="6.96" fill="#b2b2b2"/><rect x="474.4" y="66.0" width="5.4" height="6.96" fill="#787878"/><rect x="479.4" y="66.0" width="4.2" height="6.96" fill="#555555"/><rect x="483.2" y="66.0" width="5.4" height="6.96" fill="#878787"/><rect x="488.2" y="66.0" width="19.2" height="6.96" fill="#555555"/><rect x="507.0" y="66.0" width="7.4" height="6.96" fill="#444444"/><rect x="283.1" y="72.4" width="21.2" height="6.96" fill="#444444"/><rect x="303.9" y="72.4" width="4.8" height="6.96" fill="#666666"/><rect x="308.3" y="72.4" width="4.1" height="6.96" fill="#b2b2b2"/><rect x="312.0" y="72.4" width="15.6" height="6.96" fill="#dbdbdb"/><rect x="327.2" y="72.4" width="10.6" height="6.96" fill="#ededed"/><rect x="337.4" y="72.4" width="23.6" height="6.96" fill="#dbdbdb"/><rect x="360.6" y="72.4" width="3.8" height="6.96" fill="#b2b2b2"/><rect x="364.0" y="72.4" width="17.9" height="6.96" fill="#dbdbdb"/><rect x="381.5" y="72.4" width="6.2" height="6.96" fill="#c6c6c6"/><rect x="387.3" y="72.4" width="14.2" height="6.96" fill="#a1a1a1"/><rect x="401.1" y="72.4" width="6.9" height="6.96" fill="#b2b2b2"/><rect x="407.6" y="72.4" width="9.2" height="6.96" fill="#dbdbdb"/><rect x="416.4" y="72.4" width="13.5" height="6.96" fill="#ededed"/><rect x="429.5" y="72.4" width="10.5" height="6.96" fill="#a1a1a1"/><rect x="439.6" y="72.4" width="3.8" height="6.96" fill="#b2b2b2"/><rect x="443.0" y="72.4" width="12.9" height="6.96" fill="#ededed"/><rect x="455.5" y="72.4" width="5.5" height="6.96" fill="#c6c6c6"/><rect x="460.6" y="72.4" width="14.2" height="6.96" fill="#b2b2b2"/><rect x="474.4" y="72.4" width="5.4" height="6.96" fill="#878787"/><rect x="479.4" y="72.4" width="4.2" height="6.96" fill="#555555"/><rect x="483.2" y="72.4" width="5.4" height="6.96" fill="#949494"/><rect x="488.2" y="72.4" width="19.2" height="6.96" fill="#555555"/><rect x="507.0" y="72.4" width="7.4" height="6.96" fill="#444444"/><rect x="283.1" y="78.7" width="21.2" height="6.96" fill="#444444"/><rect x="303.9" y="78.7" width="4.8" height="6.96" fill="#666666"/><rect x="308.3" y="78.7" width="4.1" height="6.96" fill="#a1a1a1"/><rect x="312.0" y="78.7" width="6.9" height="6.96" fill="#dbdbdb"/><rect x="318.5" y="78.7" width="9.1" height="6.96" fill="#ededed"/><rect x="327.2" y="78.7" width="33.8" height="6.96" fill="#dbdbdb"/><rect x="360.6" y="78.7" width="3.8" height="6.96" fill="#c6c6c6"/><rect x="364.0" y="78.7" width="14.9" height="6.96" fill="#dbdbdb"/><rect x="378.5" y="78.7" width="6.3" height="6.96" fill="#c6c6c6"/><rect x="384.4" y="78.7" width="22.2" height="6.96" fill="#a1a1a1"/><rect x="406.2" y="78.7" width="12.0" height="6.96" fill="#c6c6c6"/><rect x="417.8" y="78.7" width="12.1" height="6.96" fill="#ededed"/><rect x="429.5" y="78.7" width="10.5" height="6.96" fill="#a1a1a1"/><rect x="439.6" y="78.7" width="3.8" height="6.96" fill="#c6c6c6"/><rect x="443.0" y="78.7" width="12.9" height="6.96" fill="#dbdbdb"/><rect x="455.5" y="78.7" width="5.5" height="6.96" fill="#c6c6c6"/><rect x="460.6" y="78.7" width="14.2" height="6.96" fill="#b2b2b2"/><rect x="474.4" y="78.7" width="5.4" height="6.96" fill="#878787"/><rect x="479.4" y="78.7" width="4.2" height="6.96" fill="#555555"/><rect x="483.2" y="78.7" width="5.4" height="6.96" fill="#949494"/><rect x="488.2" y="78.7" width="19.2" height="6.96" fill="#555555"/><rect x="507.0" y="78.7" width="7.4" height="6.96" fill="#444444"/><rect x="283.1" y="85.1" width="21.2" height="6.96" fill="#555555"/><rect x="303.9" y="85.1" width="5.5" height="6.96" fill="#666666"/><rect x="309.0" y="85.1" width="4.8" height="6.96" fill="#b2b2b2"/><rect x="313.4" y="85.1" width="24.4" height="6.96" fill="#dbdbdb"/><rect x="337.4" y="85.1" width="18.0" height="6.96" fill="#c6c6c6"/><rect x="355.0" y="85.1" width="9.4" height="6.96" fill="#b2b2b2"/><rect x="364.0" y="85.1" width="20.8" height="6.96" fill="#dbdbdb"/><rect x="384.4" y="85.1" width="17.1" height="6.96" fill="#a1a1a1"/><rect x="401.1" y="85.1" width="17.1" height="6.96" fill="#c6c6c6"/><rect x="417.8" y="85.1" width="15.0" height="6.96" fill="#ededed"/><rect x="432.4" y="85.1" width="4.7" height="6.96" fill="#a1a1a1"/><rect x="436.7" y="85.1" width="3.3" height="6.96" fill="#878787"/><rect x="439.6" y="85.1" width="3.8" height="6.96" fill="#b2b2b2"/><rect x="443.0" y="85.1" width="2.9" height="6.96" fill="#dbdbdb"/><rect x="445.5" y="85.1" width="11.1" height="6.96" fill="#ededed"/><rect x="456.2" y="85.1" width="18.6" height="6.96" fill="#dbdbdb"/><rect x="474.4" y="85.1" width="5.4" height="6.96" fill="#a1a1a1"/><rect x="479.4" y="85.1" width="5.4" height="6.96" fill="#555555"/><rect x="484.4" y="85.1" width="4.2" height="6.96" fill="#787878"/><rect x="488.2" y="85.1" width="5.4" height="6.96" fill="#666666"/><rect x="493.2" y="85.1" width="14.2" height="6.96" fill="#555555"/><rect x="507.0" y="85.1" width="7.4" height="6.96" fill="#444444"/><rect x="283.1" y="91.4" width="12.3" height="6.96" fill="#555555"/><rect x="295.0" y="91.4" width="9.3" height="6.96" fill="#444444"/><rect x="303.9" y="91.4" width="5.5" height="6.96" fill="#666666"/><rect x="309.0" y="91.4" width="4.8" height="6.96" fill="#b2b2b2"/><rect x="313.4" y="91.4" width="7.0" height="6.96" fill="#dbdbdb"/><rect x="320.0" y="91.4" width="10.4" height="6.96" fill="#ededed"/><rect x="330.0" y="91.4" width="16.5" height="6.96" fill="#dbdbdb"/><rect x="346.1" y="91.4" width="12.3" height="6.96" fill="#b2b2b2"/><rect x="358.0" y="91.4" width="6.4" height="6.96" fill="#a1a1a1"/><rect x="364.0" y="91.4" width="6.4" height="6.96" fill="#dbdbdb"/><rect x="370.0" y="91.4" width="13.3" height="6.96" fill="#ededed"/><rect x="382.9" y="91.4" width="18.6" height="6.96" fill="#a1a1a1"/><rect x="401.1" y="91.4" width="6.9" height="6.96" fill="#b2b2b2"/><rect x="407.6" y="91.4" width="10.6" height="6.96" fill="#dbdbdb"/><rect x="417.8" y="91.4" width="15.0" height="6.96" fill="#ededed"/><rect x="432.4" y="91.4" width="4.7" height="6.96" fill="#a1a1a1"/><rect x="436.7" y="91.4" width="3.3" height="6.96" fill="#878787"/><rect x="439.6" y="91.4" width="3.8" height="6.96" fill="#b2b2b2"/><rect x="443.0" y="91.4" width="2.9" height="6.96" fill="#dbdbdb"/><rect x="445.5" y="91.4" width="13.6" height="6.96" fill="#ededed"/><rect x="458.7" y="91.4" width="16.1" height="6.96" fill="#dbdbdb"/><rect x="474.4" y="91.4" width="5.4" height="6.96" fill="#a1a1a1"/><rect x="479.4" y="91.4" width="5.4" height="6.96" fill="#555555"/><rect x="484.4" y="91.4" width="4.2" height="6.96" fill="#878787"/><rect x="488.2" y="91.4" width="5.4" height="6.96" fill="#666666"/><rect x="493.2" y="91.4" width="14.2" height="6.96" fill="#555555"/><rect x="507.0" y="91.4" width="7.4" height="6.96" fill="#444444"/><rect x="283.1" y="97.8" width="12.3" height="6.96" fill="#555555"/><rect x="295.0" y="97.8" width="9.3" height="6.96" fill="#444444"/><rect x="303.9" y="97.8" width="5.5" height="6.96" fill="#666666"/><rect x="309.0" y="97.8" width="4.8" height="6.96" fill="#a1a1a1"/><rect x="313.4" y="97.8" width="17.0" height="6.96" fill="#dbdbdb"/><rect x="330.0" y="97.8" width="7.8" height="6.96" fill="#ededed"/><rect x="337.4" y="97.8" width="9.1" height="6.96" fill="#c6c6c6"/><rect x="346.1" y="97.8" width="18.3" height="6.96" fill="#b2b2b2"/><rect x="364.0" y="97.8" width="20.8" height="6.96" fill="#dbdbdb"/><rect x="384.4" y="97.8" width="17.1" height="6.96" fill="#b2b2b2"/><rect x="401.1" y="97.8" width="6.9" height="6.96" fill="#a1a1a1"/><rect x="407.6" y="97.8" width="10.6" height="6.96" fill="#dbdbdb"/><rect x="417.8" y="97.8" width="15.0" height="6.96" fill="#ededed"/><rect x="432.4" y="97.8" width="4.7" height="6.96" fill="#949494"/><rect x="436.7" y="97.8" width="3.3" height="6.96" fill="#878787"/><rect x="439.6" y="97.8" width="3.8" height="6.96" fill="#a1a1a1"/><rect x="443.0" y="97.8" width="2.9" height="6.96" fill="#b2b2b2"/><rect x="445.5" y="97.8" width="29.3" height="6.96" fill="#dbdbdb"/><rect x="474.4" y="97.8" width="5.4" height="6.96" fill="#b2b2b2"/><rect x="479.4" y="97.8" width="5.4" height="6.96" fill="#555555"/><rect x="484.4" y="97.8" width="4.2" height="6.96" fill="#a1a1a1"/><rect x="488.2" y="97.8" width="5.4" height="6.96" fill="#787878"/><rect x="493.2" y="97.8" width="14.2" height="6.96" fill="#555555"/><rect x="507.0" y="97.8" width="7.4" height="6.96" fill="#444444"/><rect x="283.1" y="104.2" width="26.3" height="6.96" fill="#666666"/><rect x="309.0" y="104.2" width="4.8" height="6.96" fill="#949494"/><rect x="313.4" y="104.2" width="17.0" height="6.96" fill="#dbdbdb"/><rect x="330.0" y="104.2" width="7.8" height="6.96" fill="#ededed"/><rect x="337.4" y="104.2" width="9.1" height="6.96" fill="#dbdbdb"/><rect x="346.1" y="104.2" width="18.3" height="6.96" fill="#b2b2b2"/><rect x="364.0" y="104.2" width="20.8" height="6.96" fill="#dbdbdb"/><rect x="384.4" y="104.2" width="17.1" height="6.96" fill="#c6c6c6"/><rect x="401.1" y="104.2" width="14.2" height="6.96" fill="#a1a1a1"/><rect x="414.9" y="104.2" width="17.9" height="6.96" fill="#ededed"/><rect x="432.4" y="104.2" width="4.7" height="6.96" fill="#949494"/><rect x="436.7" y="104.2" width="3.3" height="6.96" fill="#878787"/><rect x="439.6" y="104.2" width="6.3" height="6.96" fill="#a1a1a1"/><rect x="445.5" y="104.2" width="29.3" height="6.96" fill="#dbdbdb"/><rect x="474.4" y="104.2" width="5.4" height="6.96" fill="#c6c6c6"/><rect x="479.4" y="104.2" width="5.4" height="6.96" fill="#555555"/><rect x="484.4" y="104.2" width="4.2" height="6.96" fill="#949494"/><rect x="488.2" y="104.2" width="5.4" height="6.96" fill="#666666"/><rect x="493.2" y="104.2" width="14.2" height="6.96" fill="#555555"/><rect x="507.0" y="104.2" width="7.4" height="6.96" fill="#444444"/><rect x="283.1" y="110.5" width="12.3" height="6.96" fill="#666666"/><rect x="295.0" y="110.5" width="9.3" height="6.96" fill="#555555"/><rect x="303.9" y="110.5" width="5.5" height="6.96" fill="#666666"/><rect x="309.0" y="110.5" width="4.8" height="6.96" fill="#a1a1a1"/><rect x="313.4" y="110.5" width="17.0" height="6.96" fill="#dbdbdb"/><rect x="330.0" y="110.5" width="7.8" height="6.96" fill="#ededed"/><rect x="337.4" y="110.5" width="9.1" height="6.96" fill="#dbdbdb"/><rect x="346.1" y="110.5" width="9.3" height="6.96" fill="#c6c6c6"/><rect x="355.0" y="110.5" width="9.4" height="6.96" fill="#b2b2b2"/><rect x="364.0" y="110.5" width="20.8" height="6.96" fill="#dbdbdb"/><rect x="384.4" y="110.5" width="9.1" height="6.96" fill="#a1a1a1"/><rect x="393.1" y="110.5" width="8.4" height="6.96" fill="#b2b2b2"/><rect x="401.1" y="110.5" width="14.2" height="6.96" fill="#a1a1a1"/><rect x="414.9" y="110.5" width="17.9" height="6.96" fill="#ededed"/><rect x="432.4" y="110.5" width="4.7" height="6.96" fill="#949494"/><rect x="436.7" y="110.5" width="3.3" height="6.96" fill="#787878"/><rect x="439.6" y="110.5" width="3.8" height="6.96" fill="#a1a1a1"/><rect x="443.0" y="110.5" width="2.9" height="6.96" fill="#c6c6c6"/><rect x="445.5" y="110.5" width="13.6" height="6.96" fill="#dbdbdb"/><rect x="458.7" y="110.5" width="16.1" height="6.96" fill="#ededed"/><rect x="474.4" y="110.5" width="5.4" height="6.96" fill="#b2b2b2"/><rect x="479.4" y="110.5" width="5.4" height="6.96" fill="#555555"/><rect x="484.4" y="110.5" width="4.2" height="6.96" fill="#878787"/><rect x="488.2" y="110.5" width="5.4" height="6.96" fill="#666666"/><rect x="493.2" y="110.5" width="14.2" height="6.96" fill="#444444"/><rect x="507.0" y="110.5" width="7.4" height="6.96" fill="#444444"/><rect x="283.1" y="116.9" width="12.3" height="6.96" fill="#666666"/><rect x="295.0" y="116.9" width="9.3" height="6.96" fill="#444444"/><rect x="303.9" y="116.9" width="5.5" height="6.96" fill="#666666"/><rect x="309.0" y="116.9" width="4.8" height="6.96" fill="#a1a1a1"/><rect x="313.4" y="116.9" width="17.0" height="6.96" fill="#dbdbdb"/><rect x="330.0" y="116.9" width="7.8" height="6.96" fill="#ededed"/><rect x="337.4" y="116.9" width="9.1" height="6.96" fill="#dbdbdb"/><rect x="346.1" y="116.9" width="18.3" height="6.96" fill="#a1a1a1"/><rect x="364.0" y="116.9" width="17.9" height="6.96" fill="#dbdbdb"/><rect x="381.5" y="116.9" width="6.2" height="6.96" fill="#a1a1a1"/><rect x="387.3" y="116.9" width="19.3" height="6.96" fill="#787878"/><rect x="406.2" y="116.9" width="10.6" height="6.96" fill="#c6c6c6"/><rect x="416.4" y="116.9" width="16.4" height="6.96" fill="#dbdbdb"/><rect x="432.4" y="116.9" width="4.7" height="6.96" fill="#949494"/><rect x="436.7" y="116.9" width="3.3" height="6.96" fill="#787878"/><rect x="439.6" y="116.9" width="3.8" height="6.96" fill="#a1a1a1"/><rect x="443.0" y="116.9" width="31.8" height="6.96" fill="#b2b2b2"/><rect x="474.4" y="116.9" width="5.4" height="6.96" fill="#949494"/><rect x="479.4" y="116.9" width="5.4" height="6.96" fill="#555555"/><rect x="484.4" y="116.9" width="4.2" height="6.96" fill="#949494"/><rect x="488.2" y="116.9" width="5.4" height="6.96" fill="#666666"/><rect x="493.2" y="116.9" width="14.2" height="6.96" fill="#555555"/><rect x="507.0" y="116.9" width="7.4" height="6.96" fill="#444444"/><rect x="283.1" y="123.2" width="12.3" height="6.96" fill="#666666"/><rect x="295.0" y="123.2" width="9.3" height="6.96" fill="#333333"/><rect x="303.9" y="123.2" width="5.5" height="6.96" fill="#666666"/><rect x="309.0" y="123.2" width="4.8" height="6.96" fill="#949494"/><rect x="313.4" y="123.2" width="7.0" height="6.96" fill="#c6c6c6"/><rect x="320.0" y="123.2" width="26.5" height="6.96" fill="#dbdbdb"/><rect x="346.1" y="123.2" width="18.3" height="6.96" fill="#a1a1a1"/><rect x="364.0" y="123.2" width="17.9" height="6.96" fill="#dbdbdb"/><rect x="381.5" y="123.2" width="6.2" height="6.96" fill="#949494"/><rect x="387.3" y="123.2" width="17.8" height="6.96" fill="#666666"/><rect x="404.7" y="123.2" width="9.2" height="6.96" fill="#878787"/><rect x="413.5" y="123.2" width="9.1" height="6.96" fill="#c6c6c6"/><rect x="422.2" y="123.2" width="10.6" height="6.96" fill="#dbdbdb"/><rect x="432.4" y="123.2" width="4.7" height="6.96" fill="#a1a1a1"/><rect x="436.7" y="123.2" width="3.3" height="6.96" fill="#878787"/><rect x="439.6" y="123.2" width="3.8" height="6.96" fill="#b2b2b2"/><rect x="443.0" y="123.2" width="7.4" height="6.96" fill="#a1a1a1"/><rect x="450.0" y="123.2" width="9.1" height="6.96" fill="#b2b2b2"/><rect x="458.7" y="123.2" width="16.1" height="6.96" fill="#a1a1a1"/><rect x="474.4" y="123.2" width="5.4" height="6.96" fill="#878787"/><rect x="479.4" y="123.2" width="5.4" height="6.96" fill="#555555"/><rect x="484.4" y="123.2" width="4.2" height="6.96" fill="#878787"/><rect x="488.2" y="123.2" width="5.4" height="6.96" fill="#666666"/><rect x="493.2" y="123.2" width="14.2" height="6.96" fill="#444444"/><rect x="507.0" y="123.2" width="7.4" height="6.96" fill="#444444"/><rect x="283.1" y="129.6" width="12.3" height="6.96" fill="#666666"/><rect x="295.0" y="129.6" width="9.3" height="6.96" fill="#333333"/><rect x="303.9" y="129.6" width="5.5" height="6.96" fill="#666666"/><rect x="309.0" y="129.6" width="4.8" height="6.96" fill="#a1a1a1"/><rect x="313.4" y="129.6" width="7.0" height="6.96" fill="#b2b2b2"/><rect x="320.0" y="129.6" width="17.8" height="6.96" fill="#dbdbdb"/><rect x="337.4" y="129.6" width="9.1" height="6.96" fill="#c6c6c6"/><rect x="346.1" y="129.6" width="18.3" height="6.96" fill="#a1a1a1"/><rect x="364.0" y="129.6" width="17.9" height="6.96" fill="#dbdbdb"/><rect x="381.5" y="129.6" width="6.2" height="6.96" fill="#949494"/><rect x="387.3" y="129.6" width="17.8" height="6.96" fill="#666666"/><rect x="404.7" y="129.6" width="9.2" height="6.96" fill="#878787"/><rect x="413.5" y="129.6" width="19.3" height="6.96" fill="#c6c6c6"/><rect x="432.4" y="129.6" width="4.7" height="6.96" fill="#a1a1a1"/><rect x="436.7" y="129.6" width="3.3" height="6.96" fill="#878787"/><rect x="439.6" y="129.6" width="3.8" height="6.96" fill="#c6c6c6"/><rect x="443.0" y="129.6" width="3.4" height="6.96" fill="#878787"/><rect x="446.0" y="129.6" width="13.1" height="6.96" fill="#a1a1a1"/><rect x="458.7" y="129.6" width="16.1" height="6.96" fill="#b2b2b2"/><rect x="474.4" y="129.6" width="5.4" height="6.96" fill="#878787"/><rect x="479.4" y="129.6" width="5.4" height="6.96" fill="#555555"/><rect x="484.4" y="129.6" width="4.2" height="6.96" fill="#787878"/><rect x="488.2" y="129.6" width="5.4" height="6.96" fill="#666666"/><rect x="493.2" y="129.6" width="14.2" height="6.96" fill="#444444"/><rect x="507.0" y="129.6" width="7.4" height="6.96" fill="#333333"/><rect x="283.1" y="135.9" width="7.3" height="6.96" fill="#555555"/><rect x="290.0" y="135.9" width="14.3" height="6.96" fill="#444444"/><rect x="303.9" y="135.9" width="5.5" height="6.96" fill="#666666"/><rect x="309.0" y="135.9" width="5.4" height="6.96" fill="#878787"/><rect x="314.0" y="135.9" width="4.9" height="6.96" fill="#a1a1a1"/><rect x="318.5" y="135.9" width="9.1" height="6.96" fill="#dbdbdb"/><rect x="327.2" y="135.9" width="13.2" height="6.96" fill="#b2b2b2"/><rect x="340.0" y="135.9" width="10.4" height="6.96" fill="#a1a1a1"/><rect x="350.0" y="135.9" width="10.4" height="6.96" fill="#c6c6c6"/><rect x="360.0" y="135.9" width="10.4" height="6.96" fill="#dbdbdb"/><rect x="370.0" y="135.9" width="8.9" height="6.96" fill="#ededed"/><rect x="378.5" y="135.9" width="6.3" height="6.96" fill="#b2b2b2"/><rect x="384.4" y="135.9" width="9.0" height="6.96" fill="#878787"/><rect x="393.0" y="135.9" width="15.0" height="6.96" fill="#787878"/><rect x="407.6" y="135.9" width="10.6" height="6.96" fill="#949494"/><rect x="417.8" y="135.9" width="10.6" height="6.96" fill="#b2b2b2"/><rect x="428.0" y="135.9" width="9.1" height="6.96" fill="#a1a1a1"/><rect x="436.7" y="135.9" width="3.3" height="6.96" fill="#787878"/><rect x="439.6" y="135.9" width="3.8" height="6.96" fill="#949494"/><rect x="443.0" y="135.9" width="31.8" height="6.96" fill="#a1a1a1"/><rect x="474.4" y="135.9" width="5.4" height="6.96" fill="#787878"/><rect x="479.4" y="135.9" width="4.2" height="6.96" fill="#444444"/><rect x="483.2" y="135.9" width="5.4" height="6.96" fill="#666666"/><rect x="488.2" y="135.9" width="19.2" height="6.96" fill="#444444"/><rect x="507.0" y="135.9" width="7.4" height="6.96" fill="#555555"/><rect x="283.1" y="142.3" width="7.3" height="6.96" fill="#555555"/><rect x="290.0" y="142.3" width="14.3" height="6.96" fill="#444444"/><rect x="303.9" y="142.3" width="5.5" height="6.96" fill="#666666"/><rect x="309.0" y="142.3" width="5.4" height="6.96" fill="#787878"/><rect x="314.0" y="142.3" width="4.9" height="6.96" fill="#a1a1a1"/><rect x="318.5" y="142.3" width="9.1" height="6.96" fill="#b2b2b2"/><rect x="327.2" y="142.3" width="8.2" height="6.96" fill="#a1a1a1"/><rect x="335.0" y="142.3" width="5.4" height="6.96" fill="#b2b2b2"/><rect x="340.0" y="142.3" width="20.4" height="6.96" fill="#a1a1a1"/><rect x="360.0" y="142.3" width="4.4" height="6.96" fill="#c6c6c6"/><rect x="364.0" y="142.3" width="14.9" height="6.96" fill="#ededed"/><rect x="378.5" y="142.3" width="6.3" height="6.96" fill="#a1a1a1"/><rect x="384.4" y="142.3" width="9.0" height="6.96" fill="#787878"/><rect x="393.0" y="142.3" width="7.4" height="6.96" fill="#666666"/><rect x="400.0" y="142.3" width="8.0" height="6.96" fill="#787878"/><rect x="407.6" y="142.3" width="10.6" height="6.96" fill="#878787"/><rect x="417.8" y="142.3" width="10.6" height="6.96" fill="#c6c6c6"/><rect x="428.0" y="142.3" width="9.1" height="6.96" fill="#a1a1a1"/><rect x="436.7" y="142.3" width="3.3" height="6.96" fill="#787878"/><rect x="439.6" y="142.3" width="3.8" height="6.96" fill="#a1a1a1"/><rect x="443.0" y="142.3" width="31.8" height="6.96" fill="#949494"/><rect x="474.4" y="142.3" width="5.4" height="6.96" fill="#787878"/><rect x="479.4" y="142.3" width="4.2" height="6.96" fill="#333333"/><rect x="483.2" y="142.3" width="5.4" height="6.96" fill="#666666"/><rect x="488.2" y="142.3" width="19.2" height="6.96" fill="#444444"/><rect x="507.0" y="142.3" width="7.4" height="6.96" fill="#555555"/><rect x="283.1" y="148.7" width="7.3" height="6.96" fill="#555555"/><rect x="290.0" y="148.7" width="14.3" height="6.96" fill="#333333"/><rect x="303.9" y="148.7" width="5.5" height="6.96" fill="#666666"/><rect x="309.0" y="148.7" width="5.4" height="6.96" fill="#787878"/><rect x="314.0" y="148.7" width="4.9" height="6.96" fill="#a1a1a1"/><rect x="318.5" y="148.7" width="9.1" height="6.96" fill="#dbdbdb"/><rect x="327.2" y="148.7" width="8.2" height="6.96" fill="#a1a1a1"/><rect x="335.0" y="148.7" width="5.4" height="6.96" fill="#878787"/><rect x="340.0" y="148.7" width="10.4" height="6.96" fill="#b2b2b2"/><rect x="350.0" y="148.7" width="10.4" height="6.96" fill="#a1a1a1"/><rect x="360.0" y="148.7" width="18.9" height="6.96" fill="#dbdbdb"/><rect x="378.5" y="148.7" width="6.3" height="6.96" fill="#a1a1a1"/><rect x="384.4" y="148.7" width="9.0" height="6.96" fill="#787878"/><rect x="393.0" y="148.7" width="15.0" height="6.96" fill="#666666"/><rect x="407.6" y="148.7" width="10.6" height="6.96" fill="#878787"/><rect x="417.8" y="148.7" width="10.6" height="6.96" fill="#b2b2b2"/><rect x="428.0" y="148.7" width="9.1" height="6.96" fill="#a1a1a1"/><rect x="436.7" y="148.7" width="3.3" height="6.96" fill="#787878"/><rect x="439.6" y="148.7" width="35.2" height="6.96" fill="#a1a1a1"/><rect x="474.4" y="148.7" width="5.4" height="6.96" fill="#787878"/><rect x="479.4" y="148.7" width="4.2" height="6.96" fill="#333333"/><rect x="483.2" y="148.7" width="5.4" height="6.96" fill="#666666"/><rect x="488.2" y="148.7" width="19.2" height="6.96" fill="#333333"/><rect x="507.0" y="148.7" width="7.4" height="6.96" fill="#555555"/><rect x="283.1" y="155.0" width="7.3" height="6.96" fill="#555555"/><rect x="290.0" y="155.0" width="14.3" height="6.96" fill="#333333"/><rect x="303.9" y="155.0" width="5.5" height="6.96" fill="#666666"/><rect x="309.0" y="155.0" width="5.4" height="6.96" fill="#787878"/><rect x="314.0" y="155.0" width="4.9" height="6.96" fill="#a1a1a1"/><rect x="318.5" y="155.0" width="9.1" height="6.96" fill="#878787"/><rect x="327.2" y="155.0" width="13.2" height="6.96" fill="#a1a1a1"/><rect x="340.0" y="155.0" width="10.4" height="6.96" fill="#b2b2b2"/><rect x="350.0" y="155.0" width="14.4" height="6.96" fill="#a1a1a1"/><rect x="364.0" y="155.0" width="14.9" height="6.96" fill="#ededed"/><rect x="378.5" y="155.0" width="6.3" height="6.96" fill="#b2b2b2"/><rect x="384.4" y="155.0" width="9.0" height="6.96" fill="#878787"/><rect x="393.0" y="155.0" width="15.0" height="6.96" fill="#787878"/><rect x="407.6" y="155.0" width="10.6" height="6.96" fill="#878787"/><rect x="417.8" y="155.0" width="10.6" height="6.96" fill="#c6c6c6"/><rect x="428.0" y="155.0" width="9.1" height="6.96" fill="#b2b2b2"/><rect x="436.7" y="155.0" width="3.3" height="6.96" fill="#666666"/><rect x="439.6" y="155.0" width="35.2" height="6.96" fill="#a1a1a1"/><rect x="474.4" y="155.0" width="5.4" height="6.96" fill="#787878"/><rect x="479.4" y="155.0" width="4.2" height="6.96" fill="#444444"/><rect x="483.2" y="155.0" width="5.4" height="6.96" fill="#666666"/><rect x="488.2" y="155.0" width="7.2" height="6.96" fill="#333333"/><rect x="495.0" y="155.0" width="12.4" height="6.96" fill="#222222"/><rect x="507.0" y="155.0" width="7.4" height="6.96" fill="#555555"/><rect x="283.1" y="161.4" width="7.3" height="6.96" fill="#555555"/><rect x="290.0" y="161.4" width="14.3" height="6.96" fill="#444444"/><rect x="303.9" y="161.4" width="5.5" height="6.96" fill="#666666"/><rect x="309.0" y="161.4" width="5.4" height="6.96" fill="#787878"/><rect x="314.0" y="161.4" width="4.9" height="6.96" fill="#a1a1a1"/><rect x="318.5" y="161.4" width="9.1" height="6.96" fill="#dbdbdb"/><rect x="327.2" y="161.4" width="10.2" height="6.96" fill="#a1a1a1"/><rect x="337.0" y="161.4" width="3.4" height="6.96" fill="#878787"/><rect x="340.0" y="161.4" width="24.4" height="6.96" fill="#a1a1a1"/><rect x="364.0" y="161.4" width="14.9" height="6.96" fill="#dbdbdb"/><rect x="378.5" y="161.4" width="6.3" height="6.96" fill="#a1a1a1"/><rect x="384.4" y="161.4" width="23.6" height="6.96" fill="#878787"/><rect x="407.6" y="161.4" width="10.6" height="6.96" fill="#949494"/><rect x="417.8" y="161.4" width="10.6" height="6.96" fill="#b2b2b2"/><rect x="428.0" y="161.4" width="9.1" height="6.96" fill="#a1a1a1"/><rect x="436.7" y="161.4" width="3.3" height="6.96" fill="#666666"/><rect x="439.6" y="161.4" width="35.2" height="6.96" fill="#a1a1a1"/><rect x="474.4" y="161.4" width="5.4" height="6.96" fill="#787878"/><rect x="479.4" y="161.4" width="4.2" height="6.96" fill="#444444"/><rect x="483.2" y="161.4" width="5.4" height="6.96" fill="#666666"/><rect x="488.2" y="161.4" width="19.2" height="6.96" fill="#444444"/><rect x="507.0" y="161.4" width="7.4" height="6.96" fill="#555555"/><rect x="283.1" y="167.7" width="7.3" height="6.96" fill="#555555"/><rect x="290.0" y="167.7" width="14.3" height="6.96" fill="#333333"/><rect x="303.9" y="167.7" width="5.5" height="6.96" fill="#555555"/><rect x="309.0" y="167.7" width="5.4" height="6.96" fill="#787878"/><rect x="314.0" y="167.7" width="13.6" height="6.96" fill="#a1a1a1"/><rect x="327.2" y="167.7" width="13.2" height="6.96" fill="#b2b2b2"/><rect x="340.0" y="167.7" width="17.4" height="6.96" fill="#a1a1a1"/><rect x="357.0" y="167.7" width="7.4" height="6.96" fill="#c6c6c6"/><rect x="364.0" y="167.7" width="14.9" height="6.96" fill="#c6c6c6"/><rect x="378.5" y="167.7" width="6.3" height="6.96" fill="#b2b2b2"/><rect x="384.4" y="167.7" width="6.0" height="6.96" fill="#878787"/><rect x="390.0" y="167.7" width="18.0" height="6.96" fill="#666666"/><rect x="407.6" y="167.7" width="10.6" height="6.96" fill="#949494"/><rect x="417.8" y="167.7" width="10.6" height="6.96" fill="#c6c6c6"/><rect x="428.0" y="167.7" width="9.1" height="6.96" fill="#b2b2b2"/><rect x="436.7" y="167.7" width="3.3" height="6.96" fill="#787878"/><rect x="439.6" y="167.7" width="35.2" height="6.96" fill="#a1a1a1"/><rect x="474.4" y="167.7" width="5.4" height="6.96" fill="#787878"/><rect x="479.4" y="167.7" width="4.2" height="6.96" fill="#333333"/><rect x="483.2" y="167.7" width="5.4" height="6.96" fill="#666666"/><rect x="488.2" y="167.7" width="19.2" height="6.96" fill="#444444"/><rect x="507.0" y="167.7" width="7.4" height="6.96" fill="#555555"/><rect x="283.1" y="174.1" width="7.3" height="6.96" fill="#555555"/><rect x="290.0" y="174.1" width="14.3" height="6.96" fill="#444444"/><rect x="303.9" y="174.1" width="5.5" height="6.96" fill="#666666"/><rect x="309.0" y="174.1" width="5.4" height="6.96" fill="#787878"/><rect x="314.0" y="174.1" width="4.9" height="6.96" fill="#a1a1a1"/><rect x="318.5" y="174.1" width="21.9" height="6.96" fill="#b2b2b2"/><rect x="340.0" y="174.1" width="17.4" height="6.96" fill="#a1a1a1"/><rect x="357.0" y="174.1" width="21.9" height="6.96" fill="#b2b2b2"/><rect x="378.5" y="174.1" width="6.3" height="6.96" fill="#c6c6c6"/><rect x="384.4" y="174.1" width="6.0" height="6.96" fill="#949494"/><rect x="390.0" y="174.1" width="10.4" height="6.96" fill="#666666"/><rect x="400.0" y="174.1" width="8.0" height="6.96" fill="#878787"/><rect x="407.6" y="174.1" width="10.6" height="6.96" fill="#949494"/><rect x="417.8" y="174.1" width="10.6" height="6.96" fill="#b2b2b2"/><rect x="428.0" y="174.1" width="9.1" height="6.96" fill="#b2b2b2"/><rect x="436.7" y="174.1" width="3.3" height="6.96" fill="#787878"/><rect x="439.6" y="174.1" width="35.2" height="6.96" fill="#a1a1a1"/><rect x="474.4" y="174.1" width="5.4" height="6.96" fill="#787878"/><rect x="479.4" y="174.1" width="4.2" height="6.96" fill="#444444"/><rect x="483.2" y="174.1" width="5.4" height="6.96" fill="#666666"/><rect x="488.2" y="174.1" width="7.2" height="6.96" fill="#333333"/><rect x="495.0" y="174.1" width="12.4" height="6.96" fill="#222222"/><rect x="507.0" y="174.1" width="7.4" height="6.96" fill="#555555"/><rect x="283.1" y="180.5" width="7.3" height="6.96" fill="#555555"/><rect x="290.0" y="180.5" width="14.3" height="6.96" fill="#444444"/><rect x="303.9" y="180.5" width="5.5" height="6.96" fill="#666666"/><rect x="309.0" y="180.5" width="5.4" height="6.96" fill="#787878"/><rect x="314.0" y="180.5" width="4.9" height="6.96" fill="#b2b2b2"/><rect x="318.5" y="180.5" width="9.1" height="6.96" fill="#ededed"/><rect x="327.2" y="180.5" width="8.2" height="6.96" fill="#c6c6c6"/><rect x="335.0" y="180.5" width="5.4" height="6.96" fill="#b2b2b2"/><rect x="340.0" y="180.5" width="17.4" height="6.96" fill="#a1a1a1"/><rect x="357.0" y="180.5" width="7.4" height="6.96" fill="#b2b2b2"/><rect x="364.0" y="180.5" width="14.9" height="6.96" fill="#c6c6c6"/><rect x="378.5" y="180.5" width="6.3" height="6.96" fill="#a1a1a1"/><rect x="384.4" y="180.5" width="6.0" height="6.96" fill="#878787"/><rect x="390.0" y="180.5" width="10.4" height="6.96" fill="#666666"/><rect x="400.0" y="180.5" width="8.0" height="6.96" fill="#949494"/><rect x="407.6" y="180.5" width="10.6" height="6.96" fill="#a1a1a1"/><rect x="417.8" y="180.5" width="10.6" height="6.96" fill="#b2b2b2"/><rect x="428.0" y="180.5" width="9.1" height="6.96" fill="#a1a1a1"/><rect x="436.7" y="180.5" width="3.3" height="6.96" fill="#787878"/><rect x="439.6" y="180.5" width="3.8" height="6.96" fill="#a1a1a1"/><rect x="443.0" y="180.5" width="15.4" height="6.96" fill="#b2b2b2"/><rect x="458.0" y="180.5" width="16.8" height="6.96" fill="#c6c6c6"/><rect x="474.4" y="180.5" width="5.4" height="6.96" fill="#787878"/><rect x="479.4" y="180.5" width="4.2" height="6.96" fill="#444444"/><rect x="483.2" y="180.5" width="5.4" height="6.96" fill="#666666"/><rect x="488.2" y="180.5" width="19.2" height="6.96" fill="#444444"/><rect x="507.0" y="180.5" width="7.4" height="6.96" fill="#555555"/><rect x="283.1" y="186.8" width="7.3" height="6.96" fill="#666666"/><rect x="290.0" y="186.8" width="14.3" height="6.96" fill="#555555"/><rect x="303.9" y="186.8" width="5.5" height="6.96" fill="#666666"/><rect x="309.0" y="186.8" width="5.4" height="6.96" fill="#878787"/><rect x="314.0" y="186.8" width="4.9" height="6.96" fill="#a1a1a1"/><rect x="318.5" y="186.8" width="6.9" height="6.96" fill="#c6c6c6"/><rect x="325.0" y="186.8" width="8.4" height="6.96" fill="#dbdbdb"/><rect x="333.0" y="186.8" width="9.1" height="6.96" fill="#a1a1a1"/><rect x="341.7" y="186.8" width="6.2" height="6.96" fill="#dbdbdb"/><rect x="347.5" y="186.8" width="9.2" height="6.96" fill="#949494"/><rect x="356.3" y="186.8" width="8.1" height="6.96" fill="#c6c6c6"/><rect x="364.0" y="186.8" width="6.2" height="6.96" fill="#949494"/><rect x="369.8" y="186.8" width="10.6" height="6.96" fill="#b2b2b2"/><rect x="380.0" y="186.8" width="9.1" height="6.96" fill="#a1a1a1"/><rect x="388.7" y="186.8" width="12.1" height="6.96" fill="#787878"/><rect x="400.4" y="186.8" width="7.6" height="6.96" fill="#a1a1a1"/><rect x="407.6" y="186.8" width="10.6" height="6.96" fill="#949494"/><rect x="417.8" y="186.8" width="10.6" height="6.96" fill="#c6c6c6"/><rect x="428.0" y="186.8" width="6.2" height="6.96" fill="#b2b2b2"/><rect x="433.8" y="186.8" width="9.6" height="6.96" fill="#949494"/><rect x="443.0" y="186.8" width="12.9" height="6.96" fill="#a1a1a1"/><rect x="455.5" y="186.8" width="9.9" height="6.96" fill="#b2b2b2"/><rect x="465.0" y="186.8" width="5.4" height="6.96" fill="#c6c6c6"/><rect x="470.0" y="186.8" width="7.3" height="6.96" fill="#b2b2b2"/><rect x="476.9" y="186.8" width="2.9" height="6.96" fill="#949494"/><rect x="479.4" y="186.8" width="9.2" height="6.96" fill="#666666"/><rect x="488.2" y="186.8" width="14.2" height="6.96" fill="#555555"/><rect x="502.0" y="186.8" width="12.4" height="6.96" fill="#666666"/><rect x="283.1" y="193.2" width="7.3" height="6.96" fill="#555555"/><rect x="290.0" y="193.2" width="14.3" height="6.96" fill="#333333"/><rect x="303.9" y="193.2" width="5.5" height="6.96" fill="#555555"/><rect x="309.0" y="193.2" width="5.4" height="6.96" fill="#878787"/><rect x="314.0" y="193.2" width="4.9" height="6.96" fill="#c6c6c6"/><rect x="318.5" y="193.2" width="6.9" height="6.96" fill="#dbdbdb"/><rect x="325.0" y="193.2" width="8.4" height="6.96" fill="#c6c6c6"/><rect x="333.0" y="193.2" width="9.1" height="6.96" fill="#b2b2b2"/><rect x="341.7" y="193.2" width="6.2" height="6.96" fill="#a1a1a1"/><rect x="347.5" y="193.2" width="9.2" height="6.96" fill="#949494"/><rect x="356.3" y="193.2" width="8.1" height="6.96" fill="#b2b2b2"/><rect x="364.0" y="193.2" width="4.8" height="6.96" fill="#b2b2b2"/><rect x="368.4" y="193.2" width="4.7" height="6.96" fill="#a1a1a1"/><rect x="372.7" y="193.2" width="10.6" height="6.96" fill="#b2b2b2"/><rect x="382.9" y="193.2" width="6.2" height="6.96" fill="#a1a1a1"/><rect x="388.7" y="193.2" width="12.1" height="6.96" fill="#666666"/><rect x="400.4" y="193.2" width="17.8" height="6.96" fill="#a1a1a1"/><rect x="417.8" y="193.2" width="10.6" height="6.96" fill="#c6c6c6"/><rect x="428.0" y="193.2" width="9.1" height="6.96" fill="#c6c6c6"/><rect x="436.7" y="193.2" width="6.7" height="6.96" fill="#949494"/><rect x="443.0" y="193.2" width="12.9" height="6.96" fill="#a1a1a1"/><rect x="455.5" y="193.2" width="14.9" height="6.96" fill="#ededed"/><rect x="470.0" y="193.2" width="7.3" height="6.96" fill="#dbdbdb"/><rect x="476.9" y="193.2" width="2.9" height="6.96" fill="#a1a1a1"/><rect x="479.4" y="193.2" width="9.2" height="6.96" fill="#666666"/><rect x="488.2" y="193.2" width="14.2" height="6.96" fill="#333333"/><rect x="502.0" y="193.2" width="12.4" height="6.96" fill="#666666"/><rect x="283.1" y="199.5" width="7.3" height="6.96" fill="#666666"/><rect x="290.0" y="199.5" width="14.3" height="6.96" fill="#333333"/><rect x="303.9" y="199.5" width="5.5" height="6.96" fill="#666666"/><rect x="309.0" y="199.5" width="5.4" height="6.96" fill="#878787"/><rect x="314.0" y="199.5" width="11.4" height="6.96" fill="#ededed"/><rect x="325.0" y="199.5" width="8.4" height="6.96" fill="#dbdbdb"/><rect x="333.0" y="199.5" width="9.1" height="6.96" fill="#c6c6c6"/><rect x="341.7" y="199.5" width="15.0" height="6.96" fill="#a1a1a1"/><rect x="356.3" y="199.5" width="8.1" height="6.96" fill="#c6c6c6"/><rect x="364.0" y="199.5" width="7.7" height="6.96" fill="#c6c6c6"/><rect x="371.3" y="199.5" width="7.6" height="6.96" fill="#a1a1a1"/><rect x="378.5" y="199.5" width="7.7" height="6.96" fill="#b2b2b2"/><rect x="385.8" y="199.5" width="3.3" height="6.96" fill="#b2b2b2"/><rect x="388.7" y="199.5" width="15.0" height="6.96" fill="#b2b2b2"/><rect x="403.3" y="199.5" width="7.6" height="6.96" fill="#a1a1a1"/><rect x="410.5" y="199.5" width="7.7" height="6.96" fill="#c6c6c6"/><rect x="417.8" y="199.5" width="19.3" height="6.96" fill="#b2b2b2"/><rect x="436.7" y="199.5" width="6.7" height="6.96" fill="#878787"/><rect x="443.0" y="199.5" width="12.9" height="6.96" fill="#b2b2b2"/><rect x="455.5" y="199.5" width="5.5" height="6.96" fill="#dbdbdb"/><rect x="460.6" y="199.5" width="4.8" height="6.96" fill="#a1a1a1"/><rect x="465.0" y="199.5" width="12.3" height="6.96" fill="#ededed"/><rect x="476.9" y="199.5" width="2.9" height="6.96" fill="#b2b2b2"/><rect x="479.4" y="199.5" width="9.2" height="6.96" fill="#666666"/><rect x="488.2" y="199.5" width="14.2" height="6.96" fill="#333333"/><rect x="502.0" y="199.5" width="12.4" height="6.96" fill="#666666"/><rect x="283.1" y="205.9" width="7.3" height="6.96" fill="#666666"/><rect x="290.0" y="205.9" width="14.3" height="6.96" fill="#555555"/><rect x="303.9" y="205.9" width="5.5" height="6.96" fill="#666666"/><rect x="309.0" y="205.9" width="5.4" height="6.96" fill="#949494"/><rect x="314.0" y="205.9" width="28.1" height="6.96" fill="#ededed"/><rect x="341.7" y="205.9" width="6.2" height="6.96" fill="#dbdbdb"/><rect x="347.5" y="205.9" width="9.2" height="6.96" fill="#a1a1a1"/><rect x="356.3" y="205.9" width="8.1" height="6.96" fill="#c6c6c6"/><rect x="364.0" y="205.9" width="4.8" height="6.96" fill="#a1a1a1"/><rect x="368.4" y="205.9" width="7.6" height="6.96" fill="#c6c6c6"/><rect x="375.6" y="205.9" width="7.7" height="6.96" fill="#a1a1a1"/><rect x="382.9" y="205.9" width="22.2" height="6.96" fill="#949494"/><rect x="404.7" y="205.9" width="7.7" height="6.96" fill="#b2b2b2"/><rect x="412.0" y="205.9" width="16.4" height="6.96" fill="#c6c6c6"/><rect x="428.0" y="205.9" width="9.1" height="6.96" fill="#a1a1a1"/><rect x="436.7" y="205.9" width="6.7" height="6.96" fill="#878787"/><rect x="443.0" y="205.9" width="12.9" height="6.96" fill="#a1a1a1"/><rect x="455.5" y="205.9" width="5.5" height="6.96" fill="#dbdbdb"/><rect x="460.6" y="205.9" width="4.8" height="6.96" fill="#949494"/><rect x="465.0" y="205.9" width="12.3" height="6.96" fill="#ededed"/><rect x="476.9" y="205.9" width="2.9" height="6.96" fill="#a1a1a1"/><rect x="479.4" y="205.9" width="9.2" height="6.96" fill="#666666"/><rect x="488.2" y="205.9" width="14.2" height="6.96" fill="#333333"/><rect x="502.0" y="205.9" width="12.4" height="6.96" fill="#666666"/><rect x="283.1" y="212.3" width="21.2" height="6.96" fill="#555555"/><rect x="303.9" y="212.3" width="5.5" height="6.96" fill="#666666"/><rect x="309.0" y="212.3" width="5.4" height="6.96" fill="#949494"/><rect x="314.0" y="212.3" width="4.9" height="6.96" fill="#a1a1a1"/><rect x="318.5" y="212.3" width="6.9" height="6.96" fill="#b2b2b2"/><rect x="325.0" y="212.3" width="22.9" height="6.96" fill="#dbdbdb"/><rect x="347.5" y="212.3" width="16.9" height="6.96" fill="#a1a1a1"/><rect x="364.0" y="212.3" width="10.6" height="6.96" fill="#a1a1a1"/><rect x="374.2" y="212.3" width="9.1" height="6.96" fill="#b2b2b2"/><rect x="382.9" y="212.3" width="20.8" height="6.96" fill="#c6c6c6"/><rect x="403.3" y="212.3" width="9.1" height="6.96" fill="#b2b2b2"/><rect x="412.0" y="212.3" width="16.4" height="6.96" fill="#b2b2b2"/><rect x="428.0" y="212.3" width="13.5" height="6.96" fill="#dbdbdb"/><rect x="441.1" y="212.3" width="14.8" height="6.96" fill="#a1a1a1"/><rect x="455.5" y="212.3" width="9.9" height="6.96" fill="#ededed"/><rect x="465.0" y="212.3" width="5.4" height="6.96" fill="#dbdbdb"/><rect x="470.0" y="212.3" width="7.3" height="6.96" fill="#ededed"/><rect x="476.9" y="212.3" width="2.9" height="6.96" fill="#b2b2b2"/><rect x="479.4" y="212.3" width="9.2" height="6.96" fill="#666666"/><rect x="488.2" y="212.3" width="14.2" height="6.96" fill="#555555"/><rect x="502.0" y="212.3" width="12.4" height="6.96" fill="#666666"/><rect x="283.1" y="218.6" width="7.3" height="6.96" fill="#666666"/><rect x="290.0" y="218.6" width="14.3" height="6.96" fill="#555555"/><rect x="303.9" y="218.6" width="5.5" height="6.96" fill="#666666"/><rect x="309.0" y="218.6" width="16.4" height="6.96" fill="#a1a1a1"/><rect x="325.0" y="218.6" width="8.4" height="6.96" fill="#949494"/><rect x="333.0" y="218.6" width="23.7" height="6.96" fill="#a1a1a1"/><rect x="356.3" y="218.6" width="8.1" height="6.96" fill="#b2b2b2"/><rect x="364.0" y="218.6" width="8.4" height="6.96" fill="#949494"/><rect x="372.0" y="218.6" width="8.4" height="6.96" fill="#878787"/><rect x="380.0" y="218.6" width="10.4" height="6.96" fill="#a1a1a1"/><rect x="390.0" y="218.6" width="10.4" height="6.96" fill="#878787"/><rect x="400.0" y="218.6" width="10.4" height="6.96" fill="#949494"/><rect x="410.0" y="218.6" width="10.4" height="6.96" fill="#878787"/><rect x="420.0" y="218.6" width="8.4" height="6.96" fill="#949494"/><rect x="428.0" y="218.6" width="15.4" height="6.96" fill="#c6c6c6"/><rect x="443.0" y="218.6" width="12.9" height="6.96" fill="#949494"/><rect x="455.5" y="218.6" width="9.9" height="6.96" fill="#c6c6c6"/><rect x="465.0" y="218.6" width="5.4" height="6.96" fill="#b2b2b2"/><rect x="470.0" y="218.6" width="7.3" height="6.96" fill="#dbdbdb"/><rect x="476.9" y="218.6" width="2.9" height="6.96" fill="#949494"/><rect x="479.4" y="218.6" width="9.2" height="6.96" fill="#555555"/><rect x="488.2" y="218.6" width="14.2" height="6.96" fill="#444444"/><rect x="502.0" y="218.6" width="12.4" height="6.96" fill="#666666"/><rect x="283.1" y="225.0" width="7.3" height="6.96" fill="#555555"/><rect x="290.0" y="225.0" width="14.3" height="6.96" fill="#444444"/><rect x="303.9" y="225.0" width="5.5" height="6.96" fill="#666666"/><rect x="309.0" y="225.0" width="5.4" height="6.96" fill="#878787"/><rect x="314.0" y="225.0" width="11.4" height="6.96" fill="#949494"/><rect x="325.0" y="225.0" width="8.4" height="6.96" fill="#878787"/><rect x="333.0" y="225.0" width="23.7" height="6.96" fill="#a1a1a1"/><rect x="356.3" y="225.0" width="8.1" height="6.96" fill="#dbdbdb"/><rect x="364.0" y="225.0" width="8.4" height="6.96" fill="#878787"/><rect x="372.0" y="225.0" width="8.4" height="6.96" fill="#949494"/><rect x="380.0" y="225.0" width="10.4" height="6.96" fill="#787878"/><rect x="390.0" y="225.0" width="10.4" height="6.96" fill="#949494"/><rect x="400.0" y="225.0" width="10.4" height="6.96" fill="#878787"/><rect x="410.0" y="225.0" width="10.4" height="6.96" fill="#a1a1a1"/><rect x="420.0" y="225.0" width="8.4" height="6.96" fill="#878787"/><rect x="428.0" y="225.0" width="15.4" height="6.96" fill="#949494"/><rect x="443.0" y="225.0" width="7.4" height="6.96" fill="#a1a1a1"/><rect x="450.0" y="225.0" width="5.9" height="6.96" fill="#c6c6c6"/><rect x="455.5" y="225.0" width="9.9" height="6.96" fill="#a1a1a1"/><rect x="465.0" y="225.0" width="5.4" height="6.96" fill="#949494"/><rect x="470.0" y="225.0" width="7.3" height="6.96" fill="#a1a1a1"/><rect x="476.9" y="225.0" width="2.9" height="6.96" fill="#878787"/><rect x="479.4" y="225.0" width="9.2" height="6.96" fill="#666666"/><rect x="488.2" y="225.0" width="14.2" height="6.96" fill="#555555"/><rect x="502.0" y="225.0" width="12.4" height="6.96" fill="#666666"/><rect x="283.1" y="231.3" width="26.3" height="6.96" fill="#666666"/><rect x="309.0" y="231.3" width="5.4" height="6.96" fill="#949494"/><rect x="314.0" y="231.3" width="11.4" height="6.96" fill="#878787"/><rect x="325.0" y="231.3" width="17.1" height="6.96" fill="#a1a1a1"/><rect x="341.7" y="231.3" width="6.2" height="6.96" fill="#b2b2b2"/><rect x="347.5" y="231.3" width="9.2" height="6.96" fill="#a1a1a1"/><rect x="356.3" y="231.3" width="8.1" height="6.96" fill="#c6c6c6"/><rect x="364.0" y="231.3" width="8.4" height="6.96" fill="#949494"/><rect x="372.0" y="231.3" width="8.4" height="6.96" fill="#787878"/><rect x="380.0" y="231.3" width="10.4" height="6.96" fill="#949494"/><rect x="390.0" y="231.3" width="10.4" height="6.96" fill="#878787"/><rect x="400.0" y="231.3" width="10.4" height="6.96" fill="#a1a1a1"/><rect x="410.0" y="231.3" width="10.4" height="6.96" fill="#787878"/><rect x="420.0" y="231.3" width="8.4" height="6.96" fill="#949494"/><rect x="428.0" y="231.3" width="15.4" height="6.96" fill="#878787"/><rect x="443.0" y="231.3" width="7.4" height="6.96" fill="#b2b2b2"/><rect x="450.0" y="231.3" width="5.9" height="6.96" fill="#dbdbdb"/><rect x="455.5" y="231.3" width="9.9" height="6.96" fill="#a1a1a1"/><rect x="465.0" y="231.3" width="5.4" height="6.96" fill="#878787"/><rect x="470.0" y="231.3" width="7.3" height="6.96" fill="#949494"/><rect x="476.9" y="231.3" width="2.9" height="6.96" fill="#787878"/><rect x="479.4" y="231.3" width="23.0" height="6.96" fill="#666666"/><rect x="502.0" y="231.3" width="12.4" height="6.96" fill="#666666"/><path d="M356.4,169.9 L361.3,178.1 L366.2,186.3 L371.1,196.1 L377.6,205.9 L384.2,214.1 L390.7,217.4 L398.9,217.4 L405.5,214.1 L412.0,207.6 L418.6,197.7 L421.8,186.3 L421.8,174.8" fill="none" stroke="#ededed" stroke-width="4" stroke-linecap="round" stroke-linejoin="round"/><path d="M371.1,169.9 L374.4,178.1 L377.6,187.9 L382.6,196.1 L389.1,200.2 L397.3,200.2 L402.2,197.7 L407.1,191.2 L412.0,183.0 L415.3,174.8" fill="none" stroke="#dbdbdb" stroke-width="3.5" stroke-linecap="round" stroke-linejoin="round"/></g></g><clipPath id="cpc"><rect x="46.0" y="268.2" width="227.2" height="202.8"/></clipPath><g clip-path="url(#cpc)"><g filter="url(#jf)"><rect x="44.0" y="267.9" width="4.6" height="6.94" fill="#a1a1a1"/><rect x="48.2" y="267.9" width="7.2" height="6.94" fill="#dbdbdb"/><rect x="55.0" y="267.9" width="7.4" height="6.94" fill="#c6c6c6"/><rect x="62.0" y="267.9" width="4.8" height="6.94" fill="#a1a1a1"/><rect x="66.4" y="267.9" width="6.2" height="6.94" fill="#787878"/><rect x="72.2" y="267.9" width="4.7" height="6.94" fill="#b2b2b2"/><rect x="76.5" y="267.9" width="8.4" height="6.94" fill="#dbdbdb"/><rect x="84.5" y="267.9" width="5.5" height="6.94" fill="#b2b2b2"/><rect x="89.6" y="267.9" width="3.3" height="6.94" fill="#949494"/><rect x="92.5" y="267.9" width="7.9" height="6.94" fill="#dbdbdb"/><rect x="100.0" y="267.9" width="14.8" height="6.94" fill="#ededed"/><rect x="114.4" y="267.9" width="6.0" height="6.94" fill="#b2b2b2"/><rect x="120.0" y="267.9" width="5.4" height="6.94" fill="#949494"/><rect x="125.0" y="267.9" width="14.9" height="6.94" fill="#b2b2b2"/><rect x="139.5" y="267.9" width="29.5" height="6.94" fill="#a1a1a1"/><rect x="168.6" y="267.9" width="10.6" height="6.94" fill="#949494"/><rect x="178.8" y="267.9" width="15.0" height="6.94" fill="#a1a1a1"/><rect x="193.4" y="267.9" width="6.2" height="6.94" fill="#787878"/><rect x="199.2" y="267.9" width="3.3" height="6.94" fill="#a1a1a1"/><rect x="202.1" y="267.9" width="22.1" height="6.94" fill="#dbdbdb"/><rect x="223.8" y="267.9" width="4.6" height="6.94" fill="#a1a1a1"/><rect x="228.0" y="267.9" width="5.0" height="6.94" fill="#b2b2b2"/><rect x="232.6" y="267.9" width="9.2" height="6.94" fill="#949494"/><rect x="241.4" y="267.9" width="14.2" height="6.94" fill="#787878"/><rect x="255.2" y="267.9" width="4.2" height="6.94" fill="#a1a1a1"/><rect x="259.0" y="267.9" width="10.4" height="6.94" fill="#555555"/><rect x="269.0" y="267.9" width="6.6" height="6.94" fill="#333333"/><rect x="44.0" y="274.2" width="4.6" height="6.94" fill="#a1a1a1"/><rect x="48.2" y="274.2" width="7.2" height="6.94" fill="#dbdbdb"/><rect x="55.0" y="274.2" width="7.4" height="6.94" fill="#c6c6c6"/><rect x="62.0" y="274.2" width="4.8" height="6.94" fill="#a1a1a1"/><rect x="66.4" y="274.2" width="6.2" height="6.94" fill="#878787"/><rect x="72.2" y="274.2" width="4.7" height="6.94" fill="#a1a1a1"/><rect x="76.5" y="274.2" width="8.4" height="6.94" fill="#dbdbdb"/><rect x="84.5" y="274.2" width="5.5" height="6.94" fill="#b2b2b2"/><rect x="89.6" y="274.2" width="3.3" height="6.94" fill="#a1a1a1"/><rect x="92.5" y="274.2" width="4.9" height="6.94" fill="#dbdbdb"/><rect x="97.0" y="274.2" width="17.8" height="6.94" fill="#ffffff"/><rect x="114.4" y="274.2" width="6.0" height="6.94" fill="#c6c6c6"/><rect x="120.0" y="274.2" width="18.5" height="6.94" fill="#a1a1a1"/><rect x="138.1" y="274.2" width="12.0" height="6.94" fill="#878787"/><rect x="149.7" y="274.2" width="16.4" height="6.94" fill="#b2b2b2"/><rect x="165.7" y="274.2" width="13.5" height="6.94" fill="#a1a1a1"/><rect x="178.8" y="274.2" width="4.8" height="6.94" fill="#c6c6c6"/><rect x="183.2" y="274.2" width="9.1" height="6.94" fill="#a1a1a1"/><rect x="191.9" y="274.2" width="6.2" height="6.94" fill="#666666"/><rect x="197.7" y="274.2" width="4.8" height="6.94" fill="#a1a1a1"/><rect x="202.1" y="274.2" width="3.3" height="6.94" fill="#dbdbdb"/><rect x="205.0" y="274.2" width="19.2" height="6.94" fill="#ededed"/><rect x="223.8" y="274.2" width="4.6" height="6.94" fill="#a1a1a1"/><rect x="228.0" y="274.2" width="5.0" height="6.94" fill="#c6c6c6"/><rect x="232.6" y="274.2" width="9.2" height="6.94" fill="#878787"/><rect x="241.4" y="274.2" width="14.2" height="6.94" fill="#666666"/><rect x="255.2" y="274.2" width="4.2" height="6.94" fill="#a1a1a1"/><rect x="259.0" y="274.2" width="10.4" height="6.94" fill="#555555"/><rect x="269.0" y="274.2" width="6.6" height="6.94" fill="#333333"/><rect x="44.0" y="280.6" width="4.6" height="6.94" fill="#b2b2b2"/><rect x="48.2" y="280.6" width="14.2" height="6.94" fill="#dbdbdb"/><rect x="62.0" y="280.6" width="4.8" height="6.94" fill="#a1a1a1"/><rect x="66.4" y="280.6" width="6.2" height="6.94" fill="#787878"/><rect x="72.2" y="280.6" width="4.7" height="6.94" fill="#b2b2b2"/><rect x="76.5" y="280.6" width="8.4" height="6.94" fill="#dbdbdb"/><rect x="84.5" y="280.6" width="5.5" height="6.94" fill="#b2b2b2"/><rect x="89.6" y="280.6" width="3.3" height="6.94" fill="#a1a1a1"/><rect x="92.5" y="280.6" width="4.9" height="6.94" fill="#ededed"/><rect x="97.0" y="280.6" width="17.8" height="6.94" fill="#ffffff"/><rect x="114.4" y="280.6" width="6.0" height="6.94" fill="#c6c6c6"/><rect x="120.0" y="280.6" width="5.4" height="6.94" fill="#a1a1a1"/><rect x="125.0" y="280.6" width="13.5" height="6.94" fill="#b2b2b2"/><rect x="138.1" y="280.6" width="12.0" height="6.94" fill="#787878"/><rect x="149.7" y="280.6" width="41.2" height="6.94" fill="#a1a1a1"/><rect x="190.5" y="280.6" width="7.6" height="6.94" fill="#666666"/><rect x="197.7" y="280.6" width="4.8" height="6.94" fill="#b2b2b2"/><rect x="202.1" y="280.6" width="3.3" height="6.94" fill="#dbdbdb"/><rect x="205.0" y="280.6" width="19.2" height="6.94" fill="#ededed"/><rect x="223.8" y="280.6" width="4.6" height="6.94" fill="#a1a1a1"/><rect x="228.0" y="280.6" width="5.0" height="6.94" fill="#b2b2b2"/><rect x="232.6" y="280.6" width="9.2" height="6.94" fill="#878787"/><rect x="241.4" y="280.6" width="14.2" height="6.94" fill="#666666"/><rect x="255.2" y="280.6" width="4.2" height="6.94" fill="#949494"/><rect x="259.0" y="280.6" width="10.4" height="6.94" fill="#555555"/><rect x="269.0" y="280.6" width="6.6" height="6.94" fill="#333333"/><rect x="44.0" y="286.9" width="4.6" height="6.94" fill="#c6c6c6"/><rect x="48.2" y="286.9" width="14.2" height="6.94" fill="#dbdbdb"/><rect x="62.0" y="286.9" width="4.8" height="6.94" fill="#a1a1a1"/><rect x="66.4" y="286.9" width="6.2" height="6.94" fill="#787878"/><rect x="72.2" y="286.9" width="4.7" height="6.94" fill="#b2b2b2"/><rect x="76.5" y="286.9" width="8.4" height="6.94" fill="#dbdbdb"/><rect x="84.5" y="286.9" width="5.5" height="6.94" fill="#a1a1a1"/><rect x="89.6" y="286.9" width="3.3" height="6.94" fill="#949494"/><rect x="92.5" y="286.9" width="4.9" height="6.94" fill="#ededed"/><rect x="97.0" y="286.9" width="17.8" height="6.94" fill="#ffffff"/><rect x="114.4" y="286.9" width="6.0" height="6.94" fill="#c6c6c6"/><rect x="120.0" y="286.9" width="5.4" height="6.94" fill="#a1a1a1"/><rect x="125.0" y="286.9" width="12.0" height="6.94" fill="#c6c6c6"/><rect x="136.6" y="286.9" width="13.5" height="6.94" fill="#a1a1a1"/><rect x="149.7" y="286.9" width="15.0" height="6.94" fill="#949494"/><rect x="164.3" y="286.9" width="12.0" height="6.94" fill="#c6c6c6"/><rect x="175.9" y="286.9" width="15.0" height="6.94" fill="#a1a1a1"/><rect x="190.5" y="286.9" width="7.6" height="6.94" fill="#787878"/><rect x="197.7" y="286.9" width="4.8" height="6.94" fill="#b2b2b2"/><rect x="202.1" y="286.9" width="3.3" height="6.94" fill="#dbdbdb"/><rect x="205.0" y="286.9" width="19.2" height="6.94" fill="#ededed"/><rect x="223.8" y="286.9" width="4.6" height="6.94" fill="#a1a1a1"/><rect x="228.0" y="286.9" width="5.0" height="6.94" fill="#949494"/><rect x="232.6" y="286.9" width="9.2" height="6.94" fill="#787878"/><rect x="241.4" y="286.9" width="14.2" height="6.94" fill="#666666"/><rect x="255.2" y="286.9" width="4.2" height="6.94" fill="#878787"/><rect x="259.0" y="286.9" width="10.4" height="6.94" fill="#555555"/><rect x="269.0" y="286.9" width="6.6" height="6.94" fill="#333333"/><rect x="44.0" y="293.2" width="4.6" height="6.94" fill="#b2b2b2"/><rect x="48.2" y="293.2" width="14.2" height="6.94" fill="#dbdbdb"/><rect x="62.0" y="293.2" width="4.8" height="6.94" fill="#a1a1a1"/><rect x="66.4" y="293.2" width="6.2" height="6.94" fill="#949494"/><rect x="72.2" y="293.2" width="4.7" height="6.94" fill="#b2b2b2"/><rect x="76.5" y="293.2" width="8.4" height="6.94" fill="#ededed"/><rect x="84.5" y="293.2" width="8.4" height="6.94" fill="#a1a1a1"/><rect x="92.5" y="293.2" width="4.9" height="6.94" fill="#ededed"/><rect x="97.0" y="293.2" width="17.8" height="6.94" fill="#ffffff"/><rect x="114.4" y="293.2" width="6.0" height="6.94" fill="#dbdbdb"/><rect x="120.0" y="293.2" width="5.4" height="6.94" fill="#b2b2b2"/><rect x="125.0" y="293.2" width="12.0" height="6.94" fill="#dbdbdb"/><rect x="136.6" y="293.2" width="12.1" height="6.94" fill="#a1a1a1"/><rect x="148.3" y="293.2" width="14.9" height="6.94" fill="#666666"/><rect x="162.8" y="293.2" width="12.1" height="6.94" fill="#b2b2b2"/><rect x="174.5" y="293.2" width="16.4" height="6.94" fill="#a1a1a1"/><rect x="190.5" y="293.2" width="7.6" height="6.94" fill="#949494"/><rect x="197.7" y="293.2" width="4.8" height="6.94" fill="#b2b2b2"/><rect x="202.1" y="293.2" width="3.3" height="6.94" fill="#dbdbdb"/><rect x="205.0" y="293.2" width="19.2" height="6.94" fill="#ededed"/><rect x="223.8" y="293.2" width="4.6" height="6.94" fill="#a1a1a1"/><rect x="228.0" y="293.2" width="5.0" height="6.94" fill="#949494"/><rect x="232.6" y="293.2" width="9.2" height="6.94" fill="#787878"/><rect x="241.4" y="293.2" width="14.2" height="6.94" fill="#666666"/><rect x="255.2" y="293.2" width="4.2" height="6.94" fill="#787878"/><rect x="259.0" y="293.2" width="10.4" height="6.94" fill="#555555"/><rect x="269.0" y="293.2" width="6.6" height="6.94" fill="#333333"/><rect x="44.0" y="299.6" width="4.6" height="6.94" fill="#b2b2b2"/><rect x="48.2" y="299.6" width="14.2" height="6.94" fill="#dbdbdb"/><rect x="62.0" y="299.6" width="10.6" height="6.94" fill="#a1a1a1"/><rect x="72.2" y="299.6" width="4.7" height="6.94" fill="#c6c6c6"/><rect x="76.5" y="299.6" width="8.4" height="6.94" fill="#dbdbdb"/><rect x="84.5" y="299.6" width="8.4" height="6.94" fill="#b2b2b2"/><rect x="92.5" y="299.6" width="7.9" height="6.94" fill="#dbdbdb"/><rect x="100.0" y="299.6" width="14.8" height="6.94" fill="#ededed"/><rect x="114.4" y="299.6" width="6.0" height="6.94" fill="#dbdbdb"/><rect x="120.0" y="299.6" width="5.4" height="6.94" fill="#b2b2b2"/><rect x="125.0" y="299.6" width="12.0" height="6.94" fill="#dbdbdb"/><rect x="136.6" y="299.6" width="12.1" height="6.94" fill="#a1a1a1"/><rect x="148.3" y="299.6" width="17.8" height="6.94" fill="#787878"/><rect x="165.7" y="299.6" width="10.6" height="6.94" fill="#c6c6c6"/><rect x="175.9" y="299.6" width="15.0" height="6.94" fill="#a1a1a1"/><rect x="190.5" y="299.6" width="7.6" height="6.94" fill="#949494"/><rect x="197.7" y="299.6" width="4.8" height="6.94" fill="#b2b2b2"/><rect x="202.1" y="299.6" width="3.3" height="6.94" fill="#dbdbdb"/><rect x="205.0" y="299.6" width="19.2" height="6.94" fill="#ededed"/><rect x="223.8" y="299.6" width="4.6" height="6.94" fill="#a1a1a1"/><rect x="228.0" y="299.6" width="5.0" height="6.94" fill="#949494"/><rect x="232.6" y="299.6" width="9.2" height="6.94" fill="#787878"/><rect x="241.4" y="299.6" width="14.2" height="6.94" fill="#666666"/><rect x="255.2" y="299.6" width="4.2" height="6.94" fill="#787878"/><rect x="259.0" y="299.6" width="10.4" height="6.94" fill="#555555"/><rect x="269.0" y="299.6" width="6.6" height="6.94" fill="#333333"/><rect x="44.0" y="305.9" width="4.6" height="6.94" fill="#b2b2b2"/><rect x="48.2" y="305.9" width="14.2" height="6.94" fill="#dbdbdb"/><rect x="62.0" y="305.9" width="4.8" height="6.94" fill="#a1a1a1"/><rect x="66.4" y="305.9" width="6.2" height="6.94" fill="#949494"/><rect x="72.2" y="305.9" width="4.7" height="6.94" fill="#c6c6c6"/><rect x="76.5" y="305.9" width="8.4" height="6.94" fill="#ededed"/><rect x="84.5" y="305.9" width="5.5" height="6.94" fill="#c6c6c6"/><rect x="89.6" y="305.9" width="3.3" height="6.94" fill="#a1a1a1"/><rect x="92.5" y="305.9" width="12.9" height="6.94" fill="#ededed"/><rect x="105.0" y="305.9" width="9.8" height="6.94" fill="#dbdbdb"/><rect x="114.4" y="305.9" width="6.0" height="6.94" fill="#c6c6c6"/><rect x="120.0" y="305.9" width="5.4" height="6.94" fill="#a1a1a1"/><rect x="125.0" y="305.9" width="12.0" height="6.94" fill="#dbdbdb"/><rect x="136.6" y="305.9" width="12.1" height="6.94" fill="#a1a1a1"/><rect x="148.3" y="305.9" width="14.9" height="6.94" fill="#787878"/><rect x="162.8" y="305.9" width="16.4" height="6.94" fill="#c6c6c6"/><rect x="178.8" y="305.9" width="12.1" height="6.94" fill="#a1a1a1"/><rect x="190.5" y="305.9" width="12.0" height="6.94" fill="#b2b2b2"/><rect x="202.1" y="305.9" width="3.3" height="6.94" fill="#dbdbdb"/><rect x="205.0" y="305.9" width="19.2" height="6.94" fill="#ededed"/><rect x="223.8" y="305.9" width="4.6" height="6.94" fill="#b2b2b2"/><rect x="228.0" y="305.9" width="5.0" height="6.94" fill="#949494"/><rect x="232.6" y="305.9" width="9.2" height="6.94" fill="#878787"/><rect x="241.4" y="305.9" width="14.2" height="6.94" fill="#666666"/><rect x="255.2" y="305.9" width="4.2" height="6.94" fill="#787878"/><rect x="259.0" y="305.9" width="10.4" height="6.94" fill="#555555"/><rect x="269.0" y="305.9" width="6.6" height="6.94" fill="#333333"/><rect x="44.0" y="312.3" width="4.6" height="6.94" fill="#b2b2b2"/><rect x="48.2" y="312.3" width="14.2" height="6.94" fill="#dbdbdb"/><rect x="62.0" y="312.3" width="4.8" height="6.94" fill="#b2b2b2"/><rect x="66.4" y="312.3" width="6.2" height="6.94" fill="#a1a1a1"/><rect x="72.2" y="312.3" width="4.7" height="6.94" fill="#c6c6c6"/><rect x="76.5" y="312.3" width="8.4" height="6.94" fill="#ededed"/><rect x="84.5" y="312.3" width="5.5" height="6.94" fill="#c6c6c6"/><rect x="89.6" y="312.3" width="3.3" height="6.94" fill="#b2b2b2"/><rect x="92.5" y="312.3" width="12.9" height="6.94" fill="#ededed"/><rect x="105.0" y="312.3" width="9.8" height="6.94" fill="#dbdbdb"/><rect x="114.4" y="312.3" width="6.0" height="6.94" fill="#c6c6c6"/><rect x="120.0" y="312.3" width="5.4" height="6.94" fill="#a1a1a1"/><rect x="125.0" y="312.3" width="13.5" height="6.94" fill="#dbdbdb"/><rect x="138.1" y="312.3" width="12.0" height="6.94" fill="#a1a1a1"/><rect x="149.7" y="312.3" width="13.5" height="6.94" fill="#949494"/><rect x="162.8" y="312.3" width="16.4" height="6.94" fill="#c6c6c6"/><rect x="178.8" y="312.3" width="12.1" height="6.94" fill="#b2b2b2"/><rect x="190.5" y="312.3" width="7.6" height="6.94" fill="#787878"/><rect x="197.7" y="312.3" width="4.8" height="6.94" fill="#b2b2b2"/><rect x="202.1" y="312.3" width="22.1" height="6.94" fill="#dbdbdb"/><rect x="223.8" y="312.3" width="4.6" height="6.94" fill="#b2b2b2"/><rect x="228.0" y="312.3" width="5.0" height="6.94" fill="#a1a1a1"/><rect x="232.6" y="312.3" width="9.2" height="6.94" fill="#878787"/><rect x="241.4" y="312.3" width="14.2" height="6.94" fill="#666666"/><rect x="255.2" y="312.3" width="4.2" height="6.94" fill="#787878"/><rect x="259.0" y="312.3" width="10.4" height="6.94" fill="#555555"/><rect x="269.0" y="312.3" width="6.6" height="6.94" fill="#333333"/><rect x="44.0" y="318.6" width="5.3" height="6.94" fill="#878787"/><rect x="48.9" y="318.6" width="9.1" height="6.94" fill="#c6c6c6"/><rect x="57.6" y="318.6" width="7.7" height="6.94" fill="#b2b2b2"/><rect x="64.9" y="318.6" width="9.1" height="6.94" fill="#a1a1a1"/><rect x="73.6" y="318.6" width="10.6" height="6.94" fill="#c6c6c6"/><rect x="83.8" y="318.6" width="5.6" height="6.94" fill="#b2b2b2"/><rect x="89.0" y="318.6" width="5.4" height="6.94" fill="#a1a1a1"/><rect x="94.0" y="318.6" width="21.4" height="6.94" fill="#dbdbdb"/><rect x="115.0" y="318.6" width="10.4" height="6.94" fill="#c6c6c6"/><rect x="125.0" y="318.6" width="12.0" height="6.94" fill="#c6c6c6"/><rect x="136.6" y="318.6" width="13.5" height="6.94" fill="#b2b2b2"/><rect x="149.7" y="318.6" width="13.5" height="6.94" fill="#a1a1a1"/><rect x="162.8" y="318.6" width="6.2" height="6.94" fill="#dbdbdb"/><rect x="168.6" y="318.6" width="10.6" height="6.94" fill="#949494"/><rect x="178.8" y="318.6" width="9.1" height="6.94" fill="#c6c6c6"/><rect x="187.5" y="318.6" width="6.3" height="6.94" fill="#a1a1a1"/><rect x="193.4" y="318.6" width="4.7" height="6.94" fill="#666666"/><rect x="197.7" y="318.6" width="7.7" height="6.94" fill="#a1a1a1"/><rect x="205.0" y="318.6" width="19.2" height="6.94" fill="#ededed"/><rect x="223.8" y="318.6" width="7.9" height="6.94" fill="#b2b2b2"/><rect x="231.3" y="318.6" width="5.5" height="6.94" fill="#949494"/><rect x="236.4" y="318.6" width="12.9" height="6.94" fill="#787878"/><rect x="248.9" y="318.6" width="16.7" height="6.94" fill="#666666"/><rect x="265.2" y="318.6" width="4.2" height="6.94" fill="#555555"/><rect x="269.0" y="318.6" width="6.6" height="6.94" fill="#222222"/><rect x="44.0" y="324.9" width="5.3" height="6.94" fill="#949494"/><rect x="48.9" y="324.9" width="9.1" height="6.94" fill="#dbdbdb"/><rect x="57.6" y="324.9" width="7.7" height="6.94" fill="#c6c6c6"/><rect x="64.9" y="324.9" width="9.1" height="6.94" fill="#a1a1a1"/><rect x="73.6" y="324.9" width="10.6" height="6.94" fill="#dbdbdb"/><rect x="83.8" y="324.9" width="10.6" height="6.94" fill="#a1a1a1"/><rect x="94.0" y="324.9" width="31.4" height="6.94" fill="#dbdbdb"/><rect x="125.0" y="324.9" width="14.9" height="6.94" fill="#c6c6c6"/><rect x="139.5" y="324.9" width="10.6" height="6.94" fill="#b2b2b2"/><rect x="149.7" y="324.9" width="16.4" height="6.94" fill="#a1a1a1"/><rect x="165.7" y="324.9" width="6.2" height="6.94" fill="#dbdbdb"/><rect x="171.5" y="324.9" width="10.6" height="6.94" fill="#a1a1a1"/><rect x="181.7" y="324.9" width="6.2" height="6.94" fill="#dbdbdb"/><rect x="187.5" y="324.9" width="6.3" height="6.94" fill="#a1a1a1"/><rect x="193.4" y="324.9" width="4.7" height="6.94" fill="#666666"/><rect x="197.7" y="324.9" width="7.7" height="6.94" fill="#a1a1a1"/><rect x="205.0" y="324.9" width="19.2" height="6.94" fill="#ededed"/><rect x="223.8" y="324.9" width="7.9" height="6.94" fill="#c6c6c6"/><rect x="231.3" y="324.9" width="5.5" height="6.94" fill="#949494"/><rect x="236.4" y="324.9" width="12.9" height="6.94" fill="#878787"/><rect x="248.9" y="324.9" width="16.7" height="6.94" fill="#666666"/><rect x="265.2" y="324.9" width="4.2" height="6.94" fill="#555555"/><rect x="269.0" y="324.9" width="6.6" height="6.94" fill="#222222"/><rect x="44.0" y="331.3" width="5.3" height="6.94" fill="#949494"/><rect x="48.9" y="331.3" width="16.4" height="6.94" fill="#dbdbdb"/><rect x="64.9" y="331.3" width="9.1" height="6.94" fill="#a1a1a1"/><rect x="73.6" y="331.3" width="10.6" height="6.94" fill="#dbdbdb"/><rect x="83.8" y="331.3" width="31.6" height="6.94" fill="#c6c6c6"/><rect x="115.0" y="331.3" width="10.4" height="6.94" fill="#dbdbdb"/><rect x="125.0" y="331.3" width="7.7" height="6.94" fill="#c6c6c6"/><rect x="132.3" y="331.3" width="7.6" height="6.94" fill="#dbdbdb"/><rect x="139.5" y="331.3" width="9.2" height="6.94" fill="#a1a1a1"/><rect x="148.3" y="331.3" width="14.9" height="6.94" fill="#dbdbdb"/><rect x="162.8" y="331.3" width="6.2" height="6.94" fill="#c6c6c6"/><rect x="168.6" y="331.3" width="10.6" height="6.94" fill="#a1a1a1"/><rect x="178.8" y="331.3" width="9.1" height="6.94" fill="#dbdbdb"/><rect x="187.5" y="331.3" width="6.3" height="6.94" fill="#a1a1a1"/><rect x="193.4" y="331.3" width="4.7" height="6.94" fill="#666666"/><rect x="197.7" y="331.3" width="7.7" height="6.94" fill="#949494"/><rect x="205.0" y="331.3" width="10.4" height="6.94" fill="#dbdbdb"/><rect x="215.0" y="331.3" width="9.2" height="6.94" fill="#ededed"/><rect x="223.8" y="331.3" width="7.9" height="6.94" fill="#c6c6c6"/><rect x="231.3" y="331.3" width="5.5" height="6.94" fill="#a1a1a1"/><rect x="236.4" y="331.3" width="12.9" height="6.94" fill="#949494"/><rect x="248.9" y="331.3" width="11.5" height="6.94" fill="#787878"/><rect x="260.0" y="331.3" width="5.6" height="6.94" fill="#666666"/><rect x="265.2" y="331.3" width="4.2" height="6.94" fill="#555555"/><rect x="269.0" y="331.3" width="6.6" height="6.94" fill="#222222"/><rect x="44.0" y="337.6" width="5.3" height="6.94" fill="#878787"/><rect x="48.9" y="337.6" width="16.4" height="6.94" fill="#dbdbdb"/><rect x="64.9" y="337.6" width="9.1" height="6.94" fill="#949494"/><rect x="73.6" y="337.6" width="10.6" height="6.94" fill="#ededed"/><rect x="83.8" y="337.6" width="10.6" height="6.94" fill="#dbdbdb"/><rect x="94.0" y="337.6" width="6.4" height="6.94" fill="#c6c6c6"/><rect x="100.0" y="337.6" width="10.4" height="6.94" fill="#b2b2b2"/><rect x="110.0" y="337.6" width="15.4" height="6.94" fill="#c6c6c6"/><rect x="125.0" y="337.6" width="12.0" height="6.94" fill="#dbdbdb"/><rect x="136.6" y="337.6" width="12.1" height="6.94" fill="#a1a1a1"/><rect x="148.3" y="337.6" width="12.0" height="6.94" fill="#dbdbdb"/><rect x="159.9" y="337.6" width="9.1" height="6.94" fill="#c6c6c6"/><rect x="168.6" y="337.6" width="10.6" height="6.94" fill="#b2b2b2"/><rect x="178.8" y="337.6" width="7.7" height="6.94" fill="#dbdbdb"/><rect x="186.1" y="337.6" width="7.7" height="6.94" fill="#a1a1a1"/><rect x="193.4" y="337.6" width="4.7" height="6.94" fill="#666666"/><rect x="197.7" y="337.6" width="7.7" height="6.94" fill="#949494"/><rect x="205.0" y="337.6" width="26.7" height="6.94" fill="#dbdbdb"/><rect x="231.3" y="337.6" width="5.5" height="6.94" fill="#a1a1a1"/><rect x="236.4" y="337.6" width="9.0" height="6.94" fill="#b2b2b2"/><rect x="245.0" y="337.6" width="7.4" height="6.94" fill="#949494"/><rect x="252.0" y="337.6" width="13.6" height="6.94" fill="#787878"/><rect x="265.2" y="337.6" width="4.2" height="6.94" fill="#555555"/><rect x="269.0" y="337.6" width="6.6" height="6.94" fill="#222222"/><rect x="44.0" y="343.9" width="5.3" height="6.94" fill="#787878"/><rect x="48.9" y="343.9" width="16.4" height="6.94" fill="#dbdbdb"/><rect x="64.9" y="343.9" width="9.1" height="6.94" fill="#a1a1a1"/><rect x="73.6" y="343.9" width="20.8" height="6.94" fill="#dbdbdb"/><rect x="94.0" y="343.9" width="11.4" height="6.94" fill="#c6c6c6"/><rect x="105.0" y="343.9" width="10.4" height="6.94" fill="#b2b2b2"/><rect x="115.0" y="343.9" width="10.4" height="6.94" fill="#c6c6c6"/><rect x="125.0" y="343.9" width="14.9" height="6.94" fill="#dbdbdb"/><rect x="139.5" y="343.9" width="10.6" height="6.94" fill="#a1a1a1"/><rect x="149.7" y="343.9" width="13.5" height="6.94" fill="#949494"/><rect x="162.8" y="343.9" width="16.4" height="6.94" fill="#a1a1a1"/><rect x="178.8" y="343.9" width="7.7" height="6.94" fill="#dbdbdb"/><rect x="186.1" y="343.9" width="7.7" height="6.94" fill="#949494"/><rect x="193.4" y="343.9" width="4.7" height="6.94" fill="#666666"/><rect x="197.7" y="343.9" width="7.7" height="6.94" fill="#949494"/><rect x="205.0" y="343.9" width="26.7" height="6.94" fill="#dbdbdb"/><rect x="231.3" y="343.9" width="5.5" height="6.94" fill="#949494"/><rect x="236.4" y="343.9" width="12.9" height="6.94" fill="#b2b2b2"/><rect x="248.9" y="343.9" width="6.5" height="6.94" fill="#878787"/><rect x="255.0" y="343.9" width="10.6" height="6.94" fill="#666666"/><rect x="265.2" y="343.9" width="4.2" height="6.94" fill="#555555"/><rect x="269.0" y="343.9" width="6.6" height="6.94" fill="#222222"/><rect x="44.0" y="350.3" width="5.3" height="6.94" fill="#878787"/><rect x="48.9" y="350.3" width="16.4" height="6.94" fill="#dbdbdb"/><rect x="64.9" y="350.3" width="9.1" height="6.94" fill="#949494"/><rect x="73.6" y="350.3" width="10.6" height="6.94" fill="#dbdbdb"/><rect x="83.8" y="350.3" width="10.6" height="6.94" fill="#c6c6c6"/><rect x="94.0" y="350.3" width="11.4" height="6.94" fill="#b2b2b2"/><rect x="105.0" y="350.3" width="10.4" height="6.94" fill="#a1a1a1"/><rect x="115.0" y="350.3" width="10.4" height="6.94" fill="#c6c6c6"/><rect x="125.0" y="350.3" width="12.0" height="6.94" fill="#dbdbdb"/><rect x="136.6" y="350.3" width="7.7" height="6.94" fill="#c6c6c6"/><rect x="143.9" y="350.3" width="25.1" height="6.94" fill="#949494"/><rect x="168.6" y="350.3" width="10.6" height="6.94" fill="#a1a1a1"/><rect x="178.8" y="350.3" width="7.7" height="6.94" fill="#c6c6c6"/><rect x="186.1" y="350.3" width="7.7" height="6.94" fill="#878787"/><rect x="193.4" y="350.3" width="4.7" height="6.94" fill="#666666"/><rect x="197.7" y="350.3" width="7.7" height="6.94" fill="#878787"/><rect x="205.0" y="350.3" width="19.2" height="6.94" fill="#dbdbdb"/><rect x="223.8" y="350.3" width="7.9" height="6.94" fill="#c6c6c6"/><rect x="231.3" y="350.3" width="5.5" height="6.94" fill="#949494"/><rect x="236.4" y="350.3" width="9.0" height="6.94" fill="#a1a1a1"/><rect x="245.0" y="350.3" width="5.4" height="6.94" fill="#949494"/><rect x="250.0" y="350.3" width="15.6" height="6.94" fill="#787878"/><rect x="265.2" y="350.3" width="4.2" height="6.94" fill="#555555"/><rect x="269.0" y="350.3" width="6.6" height="6.94" fill="#222222"/><rect x="44.0" y="356.6" width="5.3" height="6.94" fill="#787878"/><rect x="48.9" y="356.6" width="16.4" height="6.94" fill="#dbdbdb"/><rect x="64.9" y="356.6" width="9.1" height="6.94" fill="#a1a1a1"/><rect x="73.6" y="356.6" width="10.6" height="6.94" fill="#dbdbdb"/><rect x="83.8" y="356.6" width="21.6" height="6.94" fill="#b2b2b2"/><rect x="105.0" y="356.6" width="10.4" height="6.94" fill="#a1a1a1"/><rect x="115.0" y="356.6" width="10.4" height="6.94" fill="#c6c6c6"/><rect x="125.0" y="356.6" width="13.5" height="6.94" fill="#dbdbdb"/><rect x="138.1" y="356.6" width="4.8" height="6.94" fill="#949494"/><rect x="142.5" y="356.6" width="19.3" height="6.94" fill="#666666"/><rect x="161.4" y="356.6" width="7.6" height="6.94" fill="#787878"/><rect x="168.6" y="356.6" width="17.9" height="6.94" fill="#787878"/><rect x="186.1" y="356.6" width="7.7" height="6.94" fill="#787878"/><rect x="193.4" y="356.6" width="4.7" height="6.94" fill="#666666"/><rect x="197.7" y="356.6" width="7.7" height="6.94" fill="#878787"/><rect x="205.0" y="356.6" width="19.2" height="6.94" fill="#c6c6c6"/><rect x="223.8" y="356.6" width="7.9" height="6.94" fill="#b2b2b2"/><rect x="231.3" y="356.6" width="5.5" height="6.94" fill="#878787"/><rect x="236.4" y="356.6" width="6.0" height="6.94" fill="#666666"/><rect x="242.0" y="356.6" width="8.4" height="6.94" fill="#878787"/><rect x="250.0" y="356.6" width="15.6" height="6.94" fill="#787878"/><rect x="265.2" y="356.6" width="4.2" height="6.94" fill="#555555"/><rect x="269.0" y="356.6" width="6.6" height="6.94" fill="#222222"/><rect x="44.0" y="363.0" width="5.3" height="6.94" fill="#878787"/><rect x="48.9" y="363.0" width="16.4" height="6.94" fill="#dbdbdb"/><rect x="64.9" y="363.0" width="9.1" height="6.94" fill="#878787"/><rect x="73.6" y="363.0" width="10.6" height="6.94" fill="#dbdbdb"/><rect x="83.8" y="363.0" width="10.6" height="6.94" fill="#c6c6c6"/><rect x="94.0" y="363.0" width="11.4" height="6.94" fill="#a1a1a1"/><rect x="105.0" y="363.0" width="10.4" height="6.94" fill="#b2b2b2"/><rect x="115.0" y="363.0" width="10.4" height="6.94" fill="#a1a1a1"/><rect x="125.0" y="363.0" width="13.5" height="6.94" fill="#dbdbdb"/><rect x="138.1" y="363.0" width="3.3" height="6.94" fill="#949494"/><rect x="141.0" y="363.0" width="20.8" height="6.94" fill="#666666"/><rect x="161.4" y="363.0" width="32.4" height="6.94" fill="#787878"/><rect x="193.4" y="363.0" width="4.7" height="6.94" fill="#666666"/><rect x="197.7" y="363.0" width="7.7" height="6.94" fill="#787878"/><rect x="205.0" y="363.0" width="10.4" height="6.94" fill="#b2b2b2"/><rect x="215.0" y="363.0" width="16.7" height="6.94" fill="#a1a1a1"/><rect x="231.3" y="363.0" width="5.5" height="6.94" fill="#878787"/><rect x="236.4" y="363.0" width="6.0" height="6.94" fill="#666666"/><rect x="242.0" y="363.0" width="8.4" height="6.94" fill="#787878"/><rect x="250.0" y="363.0" width="15.6" height="6.94" fill="#666666"/><rect x="265.2" y="363.0" width="4.2" height="6.94" fill="#555555"/><rect x="269.0" y="363.0" width="6.6" height="6.94" fill="#222222"/><rect x="44.0" y="369.3" width="9.4" height="6.94" fill="#949494"/><rect x="53.0" y="369.3" width="5.0" height="6.94" fill="#a1a1a1"/><rect x="57.6" y="369.3" width="5.8" height="6.94" fill="#dbdbdb"/><rect x="63.0" y="369.3" width="6.7" height="6.94" fill="#b2b2b2"/><rect x="69.3" y="369.3" width="11.1" height="6.94" fill="#a1a1a1"/><rect x="80.0" y="369.3" width="10.4" height="6.94" fill="#949494"/><rect x="90.0" y="369.3" width="24.8" height="6.94" fill="#a1a1a1"/><rect x="114.4" y="369.3" width="4.0" height="6.94" fill="#c6c6c6"/><rect x="118.0" y="369.3" width="19.0" height="6.94" fill="#dbdbdb"/><rect x="136.6" y="369.3" width="4.8" height="6.94" fill="#a1a1a1"/><rect x="141.0" y="369.3" width="9.4" height="6.94" fill="#666666"/><rect x="150.0" y="369.3" width="19.0" height="6.94" fill="#787878"/><rect x="168.6" y="369.3" width="11.8" height="6.94" fill="#666666"/><rect x="180.0" y="369.3" width="13.8" height="6.94" fill="#787878"/><rect x="193.4" y="369.3" width="4.7" height="6.94" fill="#666666"/><rect x="197.7" y="369.3" width="7.7" height="6.94" fill="#949494"/><rect x="205.0" y="369.3" width="10.4" height="6.94" fill="#a1a1a1"/><rect x="215.0" y="369.3" width="7.4" height="6.94" fill="#b2b2b2"/><rect x="222.0" y="369.3" width="9.7" height="6.94" fill="#a1a1a1"/><rect x="231.3" y="369.3" width="4.2" height="6.94" fill="#878787"/><rect x="235.1" y="369.3" width="30.5" height="6.94" fill="#666666"/><rect x="265.2" y="369.3" width="4.2" height="6.94" fill="#555555"/><rect x="269.0" y="369.3" width="6.6" height="6.94" fill="#222222"/><rect x="44.0" y="375.6" width="9.4" height="6.94" fill="#878787"/><rect x="53.0" y="375.6" width="5.0" height="6.94" fill="#a1a1a1"/><rect x="57.6" y="375.6" width="5.8" height="6.94" fill="#dbdbdb"/><rect x="63.0" y="375.6" width="6.7" height="6.94" fill="#ededed"/><rect x="69.3" y="375.6" width="11.1" height="6.94" fill="#b2b2b2"/><rect x="80.0" y="375.6" width="10.4" height="6.94" fill="#a1a1a1"/><rect x="90.0" y="375.6" width="10.4" height="6.94" fill="#878787"/><rect x="100.0" y="375.6" width="14.8" height="6.94" fill="#a1a1a1"/><rect x="114.4" y="375.6" width="11.0" height="6.94" fill="#dbdbdb"/><rect x="125.0" y="375.6" width="12.0" height="6.94" fill="#ededed"/><rect x="136.6" y="375.6" width="4.8" height="6.94" fill="#a1a1a1"/><rect x="141.0" y="375.6" width="9.4" height="6.94" fill="#666666"/><rect x="150.0" y="375.6" width="10.4" height="6.94" fill="#787878"/><rect x="160.0" y="375.6" width="20.4" height="6.94" fill="#666666"/><rect x="180.0" y="375.6" width="13.8" height="6.94" fill="#787878"/><rect x="193.4" y="375.6" width="4.7" height="6.94" fill="#666666"/><rect x="197.7" y="375.6" width="7.7" height="6.94" fill="#949494"/><rect x="205.0" y="375.6" width="10.4" height="6.94" fill="#b2b2b2"/><rect x="215.0" y="375.6" width="16.7" height="6.94" fill="#a1a1a1"/><rect x="231.3" y="375.6" width="4.2" height="6.94" fill="#949494"/><rect x="235.1" y="375.6" width="30.5" height="6.94" fill="#666666"/><rect x="265.2" y="375.6" width="4.2" height="6.94" fill="#555555"/><rect x="269.0" y="375.6" width="6.6" height="6.94" fill="#222222"/><rect x="44.0" y="382.0" width="14.0" height="6.94" fill="#949494"/><rect x="57.6" y="382.0" width="5.8" height="6.94" fill="#c6c6c6"/><rect x="63.0" y="382.0" width="6.7" height="6.94" fill="#dbdbdb"/><rect x="69.3" y="382.0" width="11.1" height="6.94" fill="#a1a1a1"/><rect x="80.0" y="382.0" width="10.4" height="6.94" fill="#949494"/><rect x="90.0" y="382.0" width="10.4" height="6.94" fill="#a1a1a1"/><rect x="100.0" y="382.0" width="14.8" height="6.94" fill="#949494"/><rect x="114.4" y="382.0" width="22.6" height="6.94" fill="#dbdbdb"/><rect x="136.6" y="382.0" width="4.8" height="6.94" fill="#a1a1a1"/><rect x="141.0" y="382.0" width="9.4" height="6.94" fill="#666666"/><rect x="150.0" y="382.0" width="19.0" height="6.94" fill="#787878"/><rect x="168.6" y="382.0" width="11.8" height="6.94" fill="#666666"/><rect x="180.0" y="382.0" width="13.8" height="6.94" fill="#787878"/><rect x="193.4" y="382.0" width="4.7" height="6.94" fill="#666666"/><rect x="197.7" y="382.0" width="7.7" height="6.94" fill="#949494"/><rect x="205.0" y="382.0" width="5.4" height="6.94" fill="#a1a1a1"/><rect x="210.0" y="382.0" width="10.4" height="6.94" fill="#b2b2b2"/><rect x="220.0" y="382.0" width="11.7" height="6.94" fill="#a1a1a1"/><rect x="231.3" y="382.0" width="4.2" height="6.94" fill="#878787"/><rect x="235.1" y="382.0" width="15.3" height="6.94" fill="#666666"/><rect x="250.0" y="382.0" width="15.6" height="6.94" fill="#787878"/><rect x="265.2" y="382.0" width="4.2" height="6.94" fill="#555555"/><rect x="269.0" y="382.0" width="6.6" height="6.94" fill="#222222"/><rect x="44.0" y="388.3" width="14.0" height="6.94" fill="#a1a1a1"/><rect x="57.6" y="388.3" width="12.1" height="6.94" fill="#dbdbdb"/><rect x="69.3" y="388.3" width="11.1" height="6.94" fill="#a1a1a1"/><rect x="80.0" y="388.3" width="10.4" height="6.94" fill="#949494"/><rect x="90.0" y="388.3" width="10.4" height="6.94" fill="#b2b2b2"/><rect x="100.0" y="388.3" width="14.8" height="6.94" fill="#a1a1a1"/><rect x="114.4" y="388.3" width="22.6" height="6.94" fill="#dbdbdb"/><rect x="136.6" y="388.3" width="4.8" height="6.94" fill="#a1a1a1"/><rect x="141.0" y="388.3" width="9.4" height="6.94" fill="#666666"/><rect x="150.0" y="388.3" width="10.4" height="6.94" fill="#787878"/><rect x="160.0" y="388.3" width="20.4" height="6.94" fill="#666666"/><rect x="180.0" y="388.3" width="13.8" height="6.94" fill="#787878"/><rect x="193.4" y="388.3" width="4.7" height="6.94" fill="#555555"/><rect x="197.7" y="388.3" width="7.7" height="6.94" fill="#949494"/><rect x="205.0" y="388.3" width="10.4" height="6.94" fill="#b2b2b2"/><rect x="215.0" y="388.3" width="7.4" height="6.94" fill="#a1a1a1"/><rect x="222.0" y="388.3" width="9.7" height="6.94" fill="#b2b2b2"/><rect x="231.3" y="388.3" width="4.2" height="6.94" fill="#878787"/><rect x="235.1" y="388.3" width="10.3" height="6.94" fill="#666666"/><rect x="245.0" y="388.3" width="20.6" height="6.94" fill="#787878"/><rect x="265.2" y="388.3" width="4.2" height="6.94" fill="#555555"/><rect x="269.0" y="388.3" width="6.6" height="6.94" fill="#222222"/><rect x="44.0" y="394.6" width="14.0" height="6.94" fill="#949494"/><rect x="57.6" y="394.6" width="5.8" height="6.94" fill="#b2b2b2"/><rect x="63.0" y="394.6" width="6.7" height="6.94" fill="#c6c6c6"/><rect x="69.3" y="394.6" width="11.1" height="6.94" fill="#a1a1a1"/><rect x="80.0" y="394.6" width="10.4" height="6.94" fill="#878787"/><rect x="90.0" y="394.6" width="10.4" height="6.94" fill="#b2b2b2"/><rect x="100.0" y="394.6" width="14.8" height="6.94" fill="#a1a1a1"/><rect x="114.4" y="394.6" width="11.0" height="6.94" fill="#ededed"/><rect x="125.0" y="394.6" width="12.0" height="6.94" fill="#dbdbdb"/><rect x="136.6" y="394.6" width="4.8" height="6.94" fill="#a1a1a1"/><rect x="141.0" y="394.6" width="9.4" height="6.94" fill="#666666"/><rect x="150.0" y="394.6" width="19.0" height="6.94" fill="#787878"/><rect x="168.6" y="394.6" width="11.8" height="6.94" fill="#787878"/><rect x="180.0" y="394.6" width="13.8" height="6.94" fill="#787878"/><rect x="193.4" y="394.6" width="4.7" height="6.94" fill="#666666"/><rect x="197.7" y="394.6" width="7.7" height="6.94" fill="#949494"/><rect x="205.0" y="394.6" width="10.4" height="6.94" fill="#a1a1a1"/><rect x="215.0" y="394.6" width="16.7" height="6.94" fill="#b2b2b2"/><rect x="231.3" y="394.6" width="4.2" height="6.94" fill="#949494"/><rect x="235.1" y="394.6" width="15.3" height="6.94" fill="#787878"/><rect x="250.0" y="394.6" width="15.6" height="6.94" fill="#666666"/><rect x="265.2" y="394.6" width="4.2" height="6.94" fill="#555555"/><rect x="269.0" y="394.6" width="6.6" height="6.94" fill="#222222"/><rect x="44.0" y="401.0" width="14.0" height="6.94" fill="#949494"/><rect x="57.6" y="401.0" width="5.8" height="6.94" fill="#dbdbdb"/><rect x="63.0" y="401.0" width="6.7" height="6.94" fill="#c6c6c6"/><rect x="69.3" y="401.0" width="6.1" height="6.94" fill="#949494"/><rect x="75.0" y="401.0" width="10.4" height="6.94" fill="#787878"/><rect x="85.0" y="401.0" width="15.4" height="6.94" fill="#b2b2b2"/><rect x="100.0" y="401.0" width="14.8" height="6.94" fill="#949494"/><rect x="114.4" y="401.0" width="22.6" height="6.94" fill="#dbdbdb"/><rect x="136.6" y="401.0" width="4.8" height="6.94" fill="#a1a1a1"/><rect x="141.0" y="401.0" width="9.4" height="6.94" fill="#787878"/><rect x="150.0" y="401.0" width="10.4" height="6.94" fill="#787878"/><rect x="160.0" y="401.0" width="9.0" height="6.94" fill="#787878"/><rect x="168.6" y="401.0" width="11.8" height="6.94" fill="#787878"/><rect x="180.0" y="401.0" width="13.8" height="6.94" fill="#878787"/><rect x="193.4" y="401.0" width="4.7" height="6.94" fill="#666666"/><rect x="197.7" y="401.0" width="7.7" height="6.94" fill="#949494"/><rect x="205.0" y="401.0" width="10.4" height="6.94" fill="#a1a1a1"/><rect x="215.0" y="401.0" width="16.7" height="6.94" fill="#b2b2b2"/><rect x="231.3" y="401.0" width="4.2" height="6.94" fill="#878787"/><rect x="235.1" y="401.0" width="10.3" height="6.94" fill="#787878"/><rect x="245.0" y="401.0" width="10.4" height="6.94" fill="#878787"/><rect x="255.0" y="401.0" width="10.6" height="6.94" fill="#787878"/><rect x="265.2" y="401.0" width="4.2" height="6.94" fill="#555555"/><rect x="269.0" y="401.0" width="6.6" height="6.94" fill="#222222"/><rect x="44.0" y="407.3" width="14.0" height="6.94" fill="#a1a1a1"/><rect x="57.6" y="407.3" width="12.1" height="6.94" fill="#dbdbdb"/><rect x="69.3" y="407.3" width="11.1" height="6.94" fill="#a1a1a1"/><rect x="80.0" y="407.3" width="10.4" height="6.94" fill="#949494"/><rect x="90.0" y="407.3" width="10.4" height="6.94" fill="#c6c6c6"/><rect x="100.0" y="407.3" width="14.8" height="6.94" fill="#a1a1a1"/><rect x="114.4" y="407.3" width="22.6" height="6.94" fill="#ededed"/><rect x="136.6" y="407.3" width="4.8" height="6.94" fill="#a1a1a1"/><rect x="141.0" y="407.3" width="9.4" height="6.94" fill="#787878"/><rect x="150.0" y="407.3" width="30.4" height="6.94" fill="#787878"/><rect x="180.0" y="407.3" width="13.8" height="6.94" fill="#878787"/><rect x="193.4" y="407.3" width="4.7" height="6.94" fill="#666666"/><rect x="197.7" y="407.3" width="7.7" height="6.94" fill="#949494"/><rect x="205.0" y="407.3" width="10.4" height="6.94" fill="#b2b2b2"/><rect x="215.0" y="407.3" width="16.7" height="6.94" fill="#a1a1a1"/><rect x="231.3" y="407.3" width="4.2" height="6.94" fill="#a1a1a1"/><rect x="235.1" y="407.3" width="10.3" height="6.94" fill="#878787"/><rect x="245.0" y="407.3" width="10.4" height="6.94" fill="#787878"/><rect x="255.0" y="407.3" width="10.6" height="6.94" fill="#878787"/><rect x="265.2" y="407.3" width="4.2" height="6.94" fill="#555555"/><rect x="269.0" y="407.3" width="6.6" height="6.94" fill="#222222"/><rect x="44.0" y="413.7" width="9.4" height="6.94" fill="#878787"/><rect x="53.0" y="413.7" width="5.0" height="6.94" fill="#a1a1a1"/><rect x="57.6" y="413.7" width="5.8" height="6.94" fill="#dbdbdb"/><rect x="63.0" y="413.7" width="6.7" height="6.94" fill="#ededed"/><rect x="69.3" y="413.7" width="11.1" height="6.94" fill="#b2b2b2"/><rect x="80.0" y="413.7" width="10.4" height="6.94" fill="#a1a1a1"/><rect x="90.0" y="413.7" width="10.4" height="6.94" fill="#c6c6c6"/><rect x="100.0" y="413.7" width="14.8" height="6.94" fill="#b2b2b2"/><rect x="114.4" y="413.7" width="11.0" height="6.94" fill="#ededed"/><rect x="125.0" y="413.7" width="12.0" height="6.94" fill="#dbdbdb"/><rect x="136.6" y="413.7" width="4.8" height="6.94" fill="#a1a1a1"/><rect x="141.0" y="413.7" width="9.4" height="6.94" fill="#787878"/><rect x="150.0" y="413.7" width="19.0" height="6.94" fill="#878787"/><rect x="168.6" y="413.7" width="11.8" height="6.94" fill="#787878"/><rect x="180.0" y="413.7" width="13.8" height="6.94" fill="#949494"/><rect x="193.4" y="413.7" width="4.7" height="6.94" fill="#787878"/><rect x="197.7" y="413.7" width="7.7" height="6.94" fill="#949494"/><rect x="205.0" y="413.7" width="5.4" height="6.94" fill="#b2b2b2"/><rect x="210.0" y="413.7" width="10.4" height="6.94" fill="#c6c6c6"/><rect x="220.0" y="413.7" width="11.7" height="6.94" fill="#b2b2b2"/><rect x="231.3" y="413.7" width="4.2" height="6.94" fill="#949494"/><rect x="235.1" y="413.7" width="10.3" height="6.94" fill="#878787"/><rect x="245.0" y="413.7" width="10.4" height="6.94" fill="#949494"/><rect x="255.0" y="413.7" width="10.6" height="6.94" fill="#787878"/><rect x="265.2" y="413.7" width="4.2" height="6.94" fill="#555555"/><rect x="269.0" y="413.7" width="6.6" height="6.94" fill="#222222"/><rect x="44.0" y="420.0" width="14.8" height="6.94" fill="#a1a1a1"/><rect x="58.4" y="420.0" width="7.0" height="6.94" fill="#dbdbdb"/><rect x="65.0" y="420.0" width="7.6" height="6.94" fill="#c6c6c6"/><rect x="72.2" y="420.0" width="6.2" height="6.94" fill="#b2b2b2"/><rect x="78.0" y="420.0" width="6.2" height="6.94" fill="#878787"/><rect x="83.8" y="420.0" width="5.6" height="6.94" fill="#b2b2b2"/><rect x="89.0" y="420.0" width="5.4" height="6.94" fill="#dbdbdb"/><rect x="94.0" y="420.0" width="11.4" height="6.94" fill="#b2b2b2"/><rect x="105.0" y="420.0" width="6.9" height="6.94" fill="#a1a1a1"/><rect x="111.5" y="420.0" width="6.9" height="6.94" fill="#dbdbdb"/><rect x="118.0" y="420.0" width="7.4" height="6.94" fill="#ededed"/><rect x="125.0" y="420.0" width="15.4" height="6.94" fill="#a1a1a1"/><rect x="140.0" y="420.0" width="10.4" height="6.94" fill="#949494"/><rect x="150.0" y="420.0" width="10.4" height="6.94" fill="#878787"/><rect x="160.0" y="420.0" width="10.4" height="6.94" fill="#a1a1a1"/><rect x="170.0" y="420.0" width="12.1" height="6.94" fill="#949494"/><rect x="181.7" y="420.0" width="9.2" height="6.94" fill="#dbdbdb"/><rect x="190.5" y="420.0" width="4.9" height="6.94" fill="#a1a1a1"/><rect x="195.0" y="420.0" width="3.4" height="6.94" fill="#787878"/><rect x="198.0" y="420.0" width="7.4" height="6.94" fill="#a1a1a1"/><rect x="205.0" y="420.0" width="10.4" height="6.94" fill="#b2b2b2"/><rect x="215.0" y="420.0" width="9.2" height="6.94" fill="#a1a1a1"/><rect x="223.8" y="420.0" width="8.6" height="6.94" fill="#b2b2b2"/><rect x="232.0" y="420.0" width="18.4" height="6.94" fill="#949494"/><rect x="250.0" y="420.0" width="11.9" height="6.94" fill="#a1a1a1"/><rect x="261.5" y="420.0" width="7.9" height="6.94" fill="#787878"/><rect x="269.0" y="420.0" width="6.6" height="6.94" fill="#444444"/><rect x="44.0" y="426.3" width="14.8" height="6.94" fill="#b2b2b2"/><rect x="58.4" y="426.3" width="12.0" height="6.94" fill="#ededed"/><rect x="70.0" y="426.3" width="2.6" height="6.94" fill="#dbdbdb"/><rect x="72.2" y="426.3" width="6.2" height="6.94" fill="#b2b2b2"/><rect x="78.0" y="426.3" width="7.7" height="6.94" fill="#949494"/><rect x="85.3" y="426.3" width="9.1" height="6.94" fill="#ededed"/><rect x="94.0" y="426.3" width="11.4" height="6.94" fill="#b2b2b2"/><rect x="105.0" y="426.3" width="6.9" height="6.94" fill="#a1a1a1"/><rect x="111.5" y="426.3" width="3.9" height="6.94" fill="#b2b2b2"/><rect x="115.0" y="426.3" width="10.4" height="6.94" fill="#dbdbdb"/><rect x="125.0" y="426.3" width="10.4" height="6.94" fill="#949494"/><rect x="135.0" y="426.3" width="10.4" height="6.94" fill="#a1a1a1"/><rect x="145.0" y="426.3" width="15.4" height="6.94" fill="#b2b2b2"/><rect x="160.0" y="426.3" width="10.4" height="6.94" fill="#a1a1a1"/><rect x="170.0" y="426.3" width="12.1" height="6.94" fill="#949494"/><rect x="181.7" y="426.3" width="9.2" height="6.94" fill="#dbdbdb"/><rect x="190.5" y="426.3" width="14.9" height="6.94" fill="#a1a1a1"/><rect x="205.0" y="426.3" width="10.4" height="6.94" fill="#c6c6c6"/><rect x="215.0" y="426.3" width="9.2" height="6.94" fill="#b2b2b2"/><rect x="223.8" y="426.3" width="6.6" height="6.94" fill="#dbdbdb"/><rect x="230.0" y="426.3" width="10.4" height="6.94" fill="#b2b2b2"/><rect x="240.0" y="426.3" width="10.4" height="6.94" fill="#a1a1a1"/><rect x="250.0" y="426.3" width="11.9" height="6.94" fill="#878787"/><rect x="261.5" y="426.3" width="7.9" height="6.94" fill="#787878"/><rect x="269.0" y="426.3" width="6.6" height="6.94" fill="#333333"/><rect x="44.0" y="432.7" width="14.8" height="6.94" fill="#a1a1a1"/><rect x="58.4" y="432.7" width="4.0" height="6.94" fill="#ededed"/><rect x="62.0" y="432.7" width="4.4" height="6.94" fill="#a1a1a1"/><rect x="66.0" y="432.7" width="6.6" height="6.94" fill="#dbdbdb"/><rect x="72.2" y="432.7" width="6.2" height="6.94" fill="#a1a1a1"/><rect x="78.0" y="432.7" width="7.7" height="6.94" fill="#949494"/><rect x="85.3" y="432.7" width="9.1" height="6.94" fill="#dbdbdb"/><rect x="94.0" y="432.7" width="11.4" height="6.94" fill="#b2b2b2"/><rect x="105.0" y="432.7" width="6.9" height="6.94" fill="#949494"/><rect x="111.5" y="432.7" width="8.9" height="6.94" fill="#ededed"/><rect x="120.0" y="432.7" width="5.4" height="6.94" fill="#dbdbdb"/><rect x="125.0" y="432.7" width="15.4" height="6.94" fill="#b2b2b2"/><rect x="140.0" y="432.7" width="7.2" height="6.94" fill="#c6c6c6"/><rect x="146.8" y="432.7" width="15.6" height="6.94" fill="#dbdbdb"/><rect x="162.0" y="432.7" width="3.4" height="6.94" fill="#c6c6c6"/><rect x="165.0" y="432.7" width="17.1" height="6.94" fill="#a1a1a1"/><rect x="181.7" y="432.7" width="9.2" height="6.94" fill="#ededed"/><rect x="190.5" y="432.7" width="14.9" height="6.94" fill="#a1a1a1"/><rect x="205.0" y="432.7" width="7.4" height="6.94" fill="#b2b2b2"/><rect x="212.0" y="432.7" width="12.2" height="6.94" fill="#dbdbdb"/><rect x="223.8" y="432.7" width="12.6" height="6.94" fill="#ededed"/><rect x="236.0" y="432.7" width="4.4" height="6.94" fill="#c6c6c6"/><rect x="240.0" y="432.7" width="10.4" height="6.94" fill="#a1a1a1"/><rect x="250.0" y="432.7" width="11.9" height="6.94" fill="#949494"/><rect x="261.5" y="432.7" width="7.9" height="6.94" fill="#787878"/><rect x="269.0" y="432.7" width="6.6" height="6.94" fill="#555555"/><rect x="44.0" y="439.0" width="14.8" height="6.94" fill="#b2b2b2"/><rect x="58.4" y="439.0" width="8.0" height="6.94" fill="#ededed"/><rect x="66.0" y="439.0" width="6.6" height="6.94" fill="#c6c6c6"/><rect x="72.2" y="439.0" width="13.5" height="6.94" fill="#a1a1a1"/><rect x="85.3" y="439.0" width="9.1" height="6.94" fill="#c6c6c6"/><rect x="94.0" y="439.0" width="17.9" height="6.94" fill="#a1a1a1"/><rect x="111.5" y="439.0" width="6.9" height="6.94" fill="#dbdbdb"/><rect x="118.0" y="439.0" width="7.4" height="6.94" fill="#ededed"/><rect x="125.0" y="439.0" width="5.4" height="6.94" fill="#dbdbdb"/><rect x="130.0" y="439.0" width="10.4" height="6.94" fill="#a1a1a1"/><rect x="140.0" y="439.0" width="10.4" height="6.94" fill="#949494"/><rect x="150.0" y="439.0" width="10.4" height="6.94" fill="#a1a1a1"/><rect x="160.0" y="439.0" width="6.4" height="6.94" fill="#b2b2b2"/><rect x="166.0" y="439.0" width="6.4" height="6.94" fill="#dbdbdb"/><rect x="172.0" y="439.0" width="6.4" height="6.94" fill="#ededed"/><rect x="178.0" y="439.0" width="4.1" height="6.94" fill="#c6c6c6"/><rect x="181.7" y="439.0" width="9.2" height="6.94" fill="#ededed"/><rect x="190.5" y="439.0" width="14.9" height="6.94" fill="#949494"/><rect x="205.0" y="439.0" width="19.2" height="6.94" fill="#c6c6c6"/><rect x="223.8" y="439.0" width="6.6" height="6.94" fill="#ededed"/><rect x="230.0" y="439.0" width="20.4" height="6.94" fill="#a1a1a1"/><rect x="250.0" y="439.0" width="11.9" height="6.94" fill="#949494"/><rect x="261.5" y="439.0" width="7.9" height="6.94" fill="#787878"/><rect x="269.0" y="439.0" width="6.6" height="6.94" fill="#555555"/><rect x="44.0" y="445.3" width="14.8" height="6.94" fill="#a1a1a1"/><rect x="58.4" y="445.3" width="14.2" height="6.94" fill="#ededed"/><rect x="72.2" y="445.3" width="6.2" height="6.94" fill="#b2b2b2"/><rect x="78.0" y="445.3" width="7.7" height="6.94" fill="#a1a1a1"/><rect x="85.3" y="445.3" width="9.1" height="6.94" fill="#ededed"/><rect x="94.0" y="445.3" width="11.4" height="6.94" fill="#b2b2b2"/><rect x="105.0" y="445.3" width="6.9" height="6.94" fill="#949494"/><rect x="111.5" y="445.3" width="6.9" height="6.94" fill="#b2b2b2"/><rect x="118.0" y="445.3" width="7.4" height="6.94" fill="#dbdbdb"/><rect x="125.0" y="445.3" width="7.4" height="6.94" fill="#ededed"/><rect x="132.0" y="445.3" width="8.4" height="6.94" fill="#dbdbdb"/><rect x="140.0" y="445.3" width="7.2" height="6.94" fill="#b2b2b2"/><rect x="146.8" y="445.3" width="19.6" height="6.94" fill="#dbdbdb"/><rect x="166.0" y="445.3" width="10.4" height="6.94" fill="#ededed"/><rect x="176.0" y="445.3" width="6.1" height="6.94" fill="#a1a1a1"/><rect x="181.7" y="445.3" width="9.2" height="6.94" fill="#ededed"/><rect x="190.5" y="445.3" width="14.9" height="6.94" fill="#949494"/><rect x="205.0" y="445.3" width="10.4" height="6.94" fill="#b2b2b2"/><rect x="215.0" y="445.3" width="9.2" height="6.94" fill="#c6c6c6"/><rect x="223.8" y="445.3" width="8.6" height="6.94" fill="#ededed"/><rect x="232.0" y="445.3" width="8.4" height="6.94" fill="#dbdbdb"/><rect x="240.0" y="445.3" width="21.9" height="6.94" fill="#a1a1a1"/><rect x="261.5" y="445.3" width="7.9" height="6.94" fill="#878787"/><rect x="269.0" y="445.3" width="6.6" height="6.94" fill="#333333"/><rect x="44.0" y="451.7" width="14.8" height="6.94" fill="#949494"/><rect x="58.4" y="451.7" width="8.0" height="6.94" fill="#b2b2b2"/><rect x="66.0" y="451.7" width="6.6" height="6.94" fill="#dbdbdb"/><rect x="72.2" y="451.7" width="6.2" height="6.94" fill="#a1a1a1"/><rect x="78.0" y="451.7" width="7.7" height="6.94" fill="#949494"/><rect x="85.3" y="451.7" width="7.1" height="6.94" fill="#b2b2b2"/><rect x="92.0" y="451.7" width="8.4" height="6.94" fill="#dbdbdb"/><rect x="100.0" y="451.7" width="18.4" height="6.94" fill="#a1a1a1"/><rect x="118.0" y="451.7" width="7.4" height="6.94" fill="#949494"/><rect x="125.0" y="451.7" width="7.4" height="6.94" fill="#a1a1a1"/><rect x="132.0" y="451.7" width="33.4" height="6.94" fill="#ededed"/><rect x="165.0" y="451.7" width="5.4" height="6.94" fill="#dbdbdb"/><rect x="170.0" y="451.7" width="14.4" height="6.94" fill="#a1a1a1"/><rect x="184.0" y="451.7" width="4.4" height="6.94" fill="#ededed"/><rect x="188.0" y="451.7" width="5.4" height="6.94" fill="#b2b2b2"/><rect x="193.0" y="451.7" width="12.4" height="6.94" fill="#878787"/><rect x="205.0" y="451.7" width="10.4" height="6.94" fill="#dbdbdb"/><rect x="215.0" y="451.7" width="9.2" height="6.94" fill="#c6c6c6"/><rect x="223.8" y="451.7" width="6.6" height="6.94" fill="#ededed"/><rect x="230.0" y="451.7" width="10.4" height="6.94" fill="#ffffff"/><rect x="240.0" y="451.7" width="10.4" height="6.94" fill="#a1a1a1"/><rect x="250.0" y="451.7" width="11.9" height="6.94" fill="#b2b2b2"/><rect x="261.5" y="451.7" width="7.9" height="6.94" fill="#949494"/><rect x="269.0" y="451.7" width="6.6" height="6.94" fill="#555555"/><rect x="44.0" y="458.0" width="14.8" height="6.94" fill="#787878"/><rect x="58.4" y="458.0" width="8.0" height="6.94" fill="#a1a1a1"/><rect x="66.0" y="458.0" width="6.6" height="6.94" fill="#b2b2b2"/><rect x="72.2" y="458.0" width="6.2" height="6.94" fill="#949494"/><rect x="78.0" y="458.0" width="14.4" height="6.94" fill="#a1a1a1"/><rect x="92.0" y="458.0" width="8.4" height="6.94" fill="#c6c6c6"/><rect x="100.0" y="458.0" width="11.9" height="6.94" fill="#a1a1a1"/><rect x="111.5" y="458.0" width="6.9" height="6.94" fill="#c6c6c6"/><rect x="118.0" y="458.0" width="17.4" height="6.94" fill="#a1a1a1"/><rect x="135.0" y="458.0" width="10.4" height="6.94" fill="#b2b2b2"/><rect x="145.0" y="458.0" width="5.4" height="6.94" fill="#949494"/><rect x="150.0" y="458.0" width="10.4" height="6.94" fill="#a1a1a1"/><rect x="160.0" y="458.0" width="10.4" height="6.94" fill="#949494"/><rect x="170.0" y="458.0" width="10.4" height="6.94" fill="#a1a1a1"/><rect x="180.0" y="458.0" width="10.4" height="6.94" fill="#b2b2b2"/><rect x="190.0" y="458.0" width="5.4" height="6.94" fill="#a1a1a1"/><rect x="195.0" y="458.0" width="10.4" height="6.94" fill="#787878"/><rect x="205.0" y="458.0" width="19.2" height="6.94" fill="#dbdbdb"/><rect x="223.8" y="458.0" width="8.6" height="6.94" fill="#a1a1a1"/><rect x="232.0" y="458.0" width="8.4" height="6.94" fill="#949494"/><rect x="240.0" y="458.0" width="10.4" height="6.94" fill="#c6c6c6"/><rect x="250.0" y="458.0" width="11.9" height="6.94" fill="#b2b2b2"/><rect x="261.5" y="458.0" width="7.9" height="6.94" fill="#a1a1a1"/><rect x="269.0" y="458.0" width="6.6" height="6.94" fill="#555555"/><rect x="44.0" y="464.4" width="8.4" height="6.94" fill="#a1a1a1"/><rect x="52.0" y="464.4" width="6.8" height="6.94" fill="#787878"/><rect x="58.4" y="464.4" width="8.0" height="6.94" fill="#b2b2b2"/><rect x="66.0" y="464.4" width="6.6" height="6.94" fill="#c6c6c6"/><rect x="72.2" y="464.4" width="6.2" height="6.94" fill="#a1a1a1"/><rect x="78.0" y="464.4" width="7.7" height="6.94" fill="#949494"/><rect x="85.3" y="464.4" width="7.1" height="6.94" fill="#b2b2b2"/><rect x="92.0" y="464.4" width="8.4" height="6.94" fill="#dbdbdb"/><rect x="100.0" y="464.4" width="11.9" height="6.94" fill="#949494"/><rect x="111.5" y="464.4" width="6.9" height="6.94" fill="#dbdbdb"/><rect x="118.0" y="464.4" width="7.4" height="6.94" fill="#b2b2b2"/><rect x="125.0" y="464.4" width="10.4" height="6.94" fill="#b2b2b2"/><rect x="135.0" y="464.4" width="10.4" height="6.94" fill="#949494"/><rect x="145.0" y="464.4" width="15.4" height="6.94" fill="#a1a1a1"/><rect x="160.0" y="464.4" width="10.4" height="6.94" fill="#878787"/><rect x="170.0" y="464.4" width="10.4" height="6.94" fill="#a1a1a1"/><rect x="180.0" y="464.4" width="10.4" height="6.94" fill="#c6c6c6"/><rect x="190.0" y="464.4" width="5.4" height="6.94" fill="#a1a1a1"/><rect x="195.0" y="464.4" width="10.4" height="6.94" fill="#878787"/><rect x="205.0" y="464.4" width="10.4" height="6.94" fill="#c6c6c6"/><rect x="215.0" y="464.4" width="9.2" height="6.94" fill="#b2b2b2"/><rect x="223.8" y="464.4" width="6.6" height="6.94" fill="#a1a1a1"/><rect x="230.0" y="464.4" width="10.4" height="6.94" fill="#787878"/><rect x="240.0" y="464.4" width="10.4" height="6.94" fill="#c6c6c6"/><rect x="250.0" y="464.4" width="11.9" height="6.94" fill="#b2b2b2"/><rect x="261.5" y="464.4" width="7.9" height="6.94" fill="#a1a1a1"/><rect x="269.0" y="464.4" width="6.6" height="6.94" fill="#555555"/><path d="M59.1,404.4 L60.2,417.5 L59.1,430.5 L59.1,441.5 L63.5,448.0 L70.0,452.4 L74.4,454.5" fill="none" stroke="#ededed" stroke-width="4" stroke-linecap="round" stroke-linejoin="round"/><path d="M62.4,413.0 L67.8,426.2 L70.0,434.9" fill="none" stroke="#ededed" stroke-width="3.5" stroke-linecap="round" stroke-linejoin="round"/><path d="M86.4,426.2 L87.5,437.1 L89.6,448.0 L96.2,453.5 L100.5,454.5" fill="none" stroke="#ededed" stroke-width="4" stroke-linecap="round" stroke-linejoin="round"/><path d="M115.8,413.1 L115.8,428.4 L118.0,439.3 L126.7,446.9 L137.6,451.3 L150.7,452.4 L160.0,451.5 L166.0,447.5 L172.4,444.7 L178.5,448.5 L184.9,453.0" fill="none" stroke="#ededed" stroke-width="4" stroke-linecap="round" stroke-linejoin="round"/><path d="M122.4,430.5 L144.2,432.7 L160.0,433.5" fill="none" stroke="#dbdbdb" stroke-width="3" stroke-linecap="round" stroke-linejoin="round"/><path d="M226.4,428.1 L232.0,440.0 L238.8,453.0" fill="none" stroke="#ededed" stroke-width="4" stroke-linecap="round" stroke-linejoin="round"/></g></g><clipPath id="cpd"><rect x="285.1" y="268.2" width="226.9" height="202.8"/></clipPath><g clip-path="url(#cpd)"><g filter="url(#jf)"><rect x="283.1" y="267.9" width="7.3" height="6.94" fill="#555555"/><rect x="290.0" y="267.9" width="6.3" height="6.94" fill="#666666"/><rect x="295.9" y="267.9" width="5.5" height="6.94" fill="#b2b2b2"/><rect x="301.0" y="267.9" width="10.6" height="6.94" fill="#dbdbdb"/><rect x="311.2" y="267.9" width="7.7" height="6.94" fill="#c6c6c6"/><rect x="318.5" y="267.9" width="4.7" height="6.94" fill="#a1a1a1"/><rect x="322.8" y="267.9" width="6.2" height="6.94" fill="#b2b2b2"/><rect x="328.6" y="267.9" width="10.6" height="6.94" fill="#dbdbdb"/><rect x="338.8" y="267.9" width="6.2" height="6.94" fill="#a1a1a1"/><rect x="344.6" y="267.9" width="4.8" height="6.94" fill="#b2b2b2"/><rect x="349.0" y="267.9" width="19.8" height="6.94" fill="#dbdbdb"/><rect x="368.4" y="267.9" width="9.1" height="6.94" fill="#a1a1a1"/><rect x="377.1" y="267.9" width="8.3" height="6.94" fill="#787878"/><rect x="385.0" y="267.9" width="8.5" height="6.94" fill="#949494"/><rect x="393.1" y="267.9" width="7.3" height="6.94" fill="#a1a1a1"/><rect x="400.0" y="267.9" width="12.4" height="6.94" fill="#878787"/><rect x="412.0" y="267.9" width="8.4" height="6.94" fill="#949494"/><rect x="420.0" y="267.9" width="11.3" height="6.94" fill="#a1a1a1"/><rect x="430.9" y="267.9" width="16.3" height="6.94" fill="#c6c6c6"/><rect x="446.8" y="267.9" width="5.4" height="6.94" fill="#a1a1a1"/><rect x="451.8" y="267.9" width="6.7" height="6.94" fill="#b2b2b2"/><rect x="458.1" y="267.9" width="16.7" height="6.94" fill="#dbdbdb"/><rect x="474.4" y="267.9" width="5.4" height="6.94" fill="#c6c6c6"/><rect x="479.4" y="267.9" width="7.9" height="6.94" fill="#b2b2b2"/><rect x="486.9" y="267.9" width="8.5" height="6.94" fill="#a1a1a1"/><rect x="495.0" y="267.9" width="4.9" height="6.94" fill="#949494"/><rect x="499.5" y="267.9" width="5.9" height="6.94" fill="#787878"/><rect x="505.0" y="267.9" width="9.4" height="6.94" fill="#666666"/><rect x="283.1" y="274.2" width="7.3" height="6.94" fill="#555555"/><rect x="290.0" y="274.2" width="6.3" height="6.94" fill="#666666"/><rect x="295.9" y="274.2" width="5.5" height="6.94" fill="#b2b2b2"/><rect x="301.0" y="274.2" width="10.6" height="6.94" fill="#dbdbdb"/><rect x="311.2" y="274.2" width="7.7" height="6.94" fill="#b2b2b2"/><rect x="318.5" y="274.2" width="4.7" height="6.94" fill="#878787"/><rect x="322.8" y="274.2" width="6.2" height="6.94" fill="#a1a1a1"/><rect x="328.6" y="274.2" width="10.6" height="6.94" fill="#dbdbdb"/><rect x="338.8" y="274.2" width="6.2" height="6.94" fill="#a1a1a1"/><rect x="344.6" y="274.2" width="4.8" height="6.94" fill="#c6c6c6"/><rect x="349.0" y="274.2" width="19.8" height="6.94" fill="#dbdbdb"/><rect x="368.4" y="274.2" width="9.1" height="6.94" fill="#b2b2b2"/><rect x="377.1" y="274.2" width="8.3" height="6.94" fill="#878787"/><rect x="385.0" y="274.2" width="8.5" height="6.94" fill="#949494"/><rect x="393.1" y="274.2" width="7.3" height="6.94" fill="#a1a1a1"/><rect x="400.0" y="274.2" width="12.4" height="6.94" fill="#949494"/><rect x="412.0" y="274.2" width="19.3" height="6.94" fill="#a1a1a1"/><rect x="430.9" y="274.2" width="12.5" height="6.94" fill="#c6c6c6"/><rect x="443.0" y="274.2" width="4.2" height="6.94" fill="#dbdbdb"/><rect x="446.8" y="274.2" width="5.4" height="6.94" fill="#a1a1a1"/><rect x="451.8" y="274.2" width="6.7" height="6.94" fill="#b2b2b2"/><rect x="458.1" y="274.2" width="16.7" height="6.94" fill="#dbdbdb"/><rect x="474.4" y="274.2" width="5.4" height="6.94" fill="#c6c6c6"/><rect x="479.4" y="274.2" width="7.9" height="6.94" fill="#b2b2b2"/><rect x="486.9" y="274.2" width="8.5" height="6.94" fill="#a1a1a1"/><rect x="495.0" y="274.2" width="4.9" height="6.94" fill="#878787"/><rect x="499.5" y="274.2" width="5.9" height="6.94" fill="#666666"/><rect x="505.0" y="274.2" width="9.4" height="6.94" fill="#555555"/><rect x="283.1" y="280.6" width="7.3" height="6.94" fill="#444444"/><rect x="290.0" y="280.6" width="6.3" height="6.94" fill="#666666"/><rect x="295.9" y="280.6" width="5.5" height="6.94" fill="#b2b2b2"/><rect x="301.0" y="280.6" width="10.6" height="6.94" fill="#dbdbdb"/><rect x="311.2" y="280.6" width="7.7" height="6.94" fill="#c6c6c6"/><rect x="318.5" y="280.6" width="4.7" height="6.94" fill="#a1a1a1"/><rect x="322.8" y="280.6" width="6.2" height="6.94" fill="#b2b2b2"/><rect x="328.6" y="280.6" width="10.6" height="6.94" fill="#dbdbdb"/><rect x="338.8" y="280.6" width="6.2" height="6.94" fill="#a1a1a1"/><rect x="344.6" y="280.6" width="4.8" height="6.94" fill="#c6c6c6"/><rect x="349.0" y="280.6" width="15.4" height="6.94" fill="#dbdbdb"/><rect x="364.0" y="280.6" width="4.8" height="6.94" fill="#ededed"/><rect x="368.4" y="280.6" width="9.1" height="6.94" fill="#b2b2b2"/><rect x="377.1" y="280.6" width="8.3" height="6.94" fill="#949494"/><rect x="385.0" y="280.6" width="8.5" height="6.94" fill="#787878"/><rect x="393.1" y="280.6" width="7.3" height="6.94" fill="#949494"/><rect x="400.0" y="280.6" width="12.4" height="6.94" fill="#a1a1a1"/><rect x="412.0" y="280.6" width="19.3" height="6.94" fill="#b2b2b2"/><rect x="430.9" y="280.6" width="12.5" height="6.94" fill="#c6c6c6"/><rect x="443.0" y="280.6" width="4.2" height="6.94" fill="#b2b2b2"/><rect x="446.8" y="280.6" width="5.4" height="6.94" fill="#878787"/><rect x="451.8" y="280.6" width="6.7" height="6.94" fill="#b2b2b2"/><rect x="458.1" y="280.6" width="16.7" height="6.94" fill="#dbdbdb"/><rect x="474.4" y="280.6" width="5.4" height="6.94" fill="#b2b2b2"/><rect x="479.4" y="280.6" width="7.9" height="6.94" fill="#a1a1a1"/><rect x="486.9" y="280.6" width="8.5" height="6.94" fill="#949494"/><rect x="495.0" y="280.6" width="4.9" height="6.94" fill="#787878"/><rect x="499.5" y="280.6" width="5.9" height="6.94" fill="#666666"/><rect x="505.0" y="280.6" width="9.4" height="6.94" fill="#555555"/><rect x="283.1" y="286.9" width="7.3" height="6.94" fill="#555555"/><rect x="290.0" y="286.9" width="6.3" height="6.94" fill="#666666"/><rect x="295.9" y="286.9" width="5.5" height="6.94" fill="#b2b2b2"/><rect x="301.0" y="286.9" width="10.6" height="6.94" fill="#ededed"/><rect x="311.2" y="286.9" width="5.2" height="6.94" fill="#b2b2b2"/><rect x="316.0" y="286.9" width="7.2" height="6.94" fill="#878787"/><rect x="322.8" y="286.9" width="6.2" height="6.94" fill="#b2b2b2"/><rect x="328.6" y="286.9" width="10.6" height="6.94" fill="#dbdbdb"/><rect x="338.8" y="286.9" width="6.2" height="6.94" fill="#a1a1a1"/><rect x="344.6" y="286.9" width="4.8" height="6.94" fill="#c6c6c6"/><rect x="349.0" y="286.9" width="19.8" height="6.94" fill="#ededed"/><rect x="368.4" y="286.9" width="9.1" height="6.94" fill="#c6c6c6"/><rect x="377.1" y="286.9" width="8.3" height="6.94" fill="#a1a1a1"/><rect x="385.0" y="286.9" width="8.5" height="6.94" fill="#878787"/><rect x="393.1" y="286.9" width="7.3" height="6.94" fill="#787878"/><rect x="400.0" y="286.9" width="12.4" height="6.94" fill="#949494"/><rect x="412.0" y="286.9" width="19.3" height="6.94" fill="#c6c6c6"/><rect x="430.9" y="286.9" width="12.5" height="6.94" fill="#b2b2b2"/><rect x="443.0" y="286.9" width="4.2" height="6.94" fill="#a1a1a1"/><rect x="446.8" y="286.9" width="5.4" height="6.94" fill="#787878"/><rect x="451.8" y="286.9" width="6.7" height="6.94" fill="#b2b2b2"/><rect x="458.1" y="286.9" width="16.7" height="6.94" fill="#dbdbdb"/><rect x="474.4" y="286.9" width="5.4" height="6.94" fill="#b2b2b2"/><rect x="479.4" y="286.9" width="7.9" height="6.94" fill="#949494"/><rect x="486.9" y="286.9" width="8.5" height="6.94" fill="#878787"/><rect x="495.0" y="286.9" width="10.4" height="6.94" fill="#666666"/><rect x="505.0" y="286.9" width="9.4" height="6.94" fill="#555555"/><rect x="283.1" y="293.2" width="7.3" height="6.94" fill="#555555"/><rect x="290.0" y="293.2" width="6.3" height="6.94" fill="#666666"/><rect x="295.9" y="293.2" width="5.5" height="6.94" fill="#a1a1a1"/><rect x="301.0" y="293.2" width="10.6" height="6.94" fill="#dbdbdb"/><rect x="311.2" y="293.2" width="17.8" height="6.94" fill="#c6c6c6"/><rect x="328.6" y="293.2" width="10.6" height="6.94" fill="#dbdbdb"/><rect x="338.8" y="293.2" width="6.2" height="6.94" fill="#a1a1a1"/><rect x="344.6" y="293.2" width="4.8" height="6.94" fill="#dbdbdb"/><rect x="349.0" y="293.2" width="19.8" height="6.94" fill="#ededed"/><rect x="368.4" y="293.2" width="9.1" height="6.94" fill="#c6c6c6"/><rect x="377.1" y="293.2" width="8.3" height="6.94" fill="#a1a1a1"/><rect x="385.0" y="293.2" width="8.5" height="6.94" fill="#949494"/><rect x="393.1" y="293.2" width="7.3" height="6.94" fill="#787878"/><rect x="400.0" y="293.2" width="5.4" height="6.94" fill="#878787"/><rect x="405.0" y="293.2" width="7.4" height="6.94" fill="#949494"/><rect x="412.0" y="293.2" width="19.3" height="6.94" fill="#b2b2b2"/><rect x="430.9" y="293.2" width="12.5" height="6.94" fill="#c6c6c6"/><rect x="443.0" y="293.2" width="4.2" height="6.94" fill="#a1a1a1"/><rect x="446.8" y="293.2" width="5.4" height="6.94" fill="#878787"/><rect x="451.8" y="293.2" width="6.7" height="6.94" fill="#b2b2b2"/><rect x="458.1" y="293.2" width="16.7" height="6.94" fill="#dbdbdb"/><rect x="474.4" y="293.2" width="5.4" height="6.94" fill="#b2b2b2"/><rect x="479.4" y="293.2" width="7.9" height="6.94" fill="#878787"/><rect x="486.9" y="293.2" width="18.5" height="6.94" fill="#666666"/><rect x="505.0" y="293.2" width="9.4" height="6.94" fill="#555555"/><rect x="283.1" y="299.6" width="7.3" height="6.94" fill="#555555"/><rect x="290.0" y="299.6" width="6.3" height="6.94" fill="#666666"/><rect x="295.9" y="299.6" width="5.5" height="6.94" fill="#a1a1a1"/><rect x="301.0" y="299.6" width="10.6" height="6.94" fill="#dbdbdb"/><rect x="311.2" y="299.6" width="17.8" height="6.94" fill="#c6c6c6"/><rect x="328.6" y="299.6" width="6.8" height="6.94" fill="#dbdbdb"/><rect x="335.0" y="299.6" width="4.2" height="6.94" fill="#ededed"/><rect x="338.8" y="299.6" width="6.2" height="6.94" fill="#b2b2b2"/><rect x="344.6" y="299.6" width="19.8" height="6.94" fill="#dbdbdb"/><rect x="364.0" y="299.6" width="4.8" height="6.94" fill="#ededed"/><rect x="368.4" y="299.6" width="9.1" height="6.94" fill="#c6c6c6"/><rect x="377.1" y="299.6" width="8.3" height="6.94" fill="#a1a1a1"/><rect x="385.0" y="299.6" width="8.5" height="6.94" fill="#949494"/><rect x="393.1" y="299.6" width="7.3" height="6.94" fill="#878787"/><rect x="400.0" y="299.6" width="12.4" height="6.94" fill="#787878"/><rect x="412.0" y="299.6" width="19.3" height="6.94" fill="#b2b2b2"/><rect x="430.9" y="299.6" width="12.5" height="6.94" fill="#dbdbdb"/><rect x="443.0" y="299.6" width="4.2" height="6.94" fill="#b2b2b2"/><rect x="446.8" y="299.6" width="5.4" height="6.94" fill="#a1a1a1"/><rect x="451.8" y="299.6" width="6.7" height="6.94" fill="#c6c6c6"/><rect x="458.1" y="299.6" width="16.7" height="6.94" fill="#dbdbdb"/><rect x="474.4" y="299.6" width="5.4" height="6.94" fill="#b2b2b2"/><rect x="479.4" y="299.6" width="7.9" height="6.94" fill="#949494"/><rect x="486.9" y="299.6" width="13.0" height="6.94" fill="#787878"/><rect x="499.5" y="299.6" width="5.9" height="6.94" fill="#666666"/><rect x="505.0" y="299.6" width="9.4" height="6.94" fill="#555555"/><rect x="283.1" y="305.9" width="7.3" height="6.94" fill="#555555"/><rect x="290.0" y="305.9" width="6.3" height="6.94" fill="#666666"/><rect x="295.9" y="305.9" width="5.5" height="6.94" fill="#a1a1a1"/><rect x="301.0" y="305.9" width="17.9" height="6.94" fill="#dbdbdb"/><rect x="318.5" y="305.9" width="10.5" height="6.94" fill="#c6c6c6"/><rect x="328.6" y="305.9" width="10.6" height="6.94" fill="#dbdbdb"/><rect x="338.8" y="305.9" width="6.2" height="6.94" fill="#c6c6c6"/><rect x="344.6" y="305.9" width="24.2" height="6.94" fill="#dbdbdb"/><rect x="368.4" y="305.9" width="9.1" height="6.94" fill="#c6c6c6"/><rect x="377.1" y="305.9" width="8.3" height="6.94" fill="#b2b2b2"/><rect x="385.0" y="305.9" width="8.5" height="6.94" fill="#a1a1a1"/><rect x="393.1" y="305.9" width="7.3" height="6.94" fill="#878787"/><rect x="400.0" y="305.9" width="6.4" height="6.94" fill="#787878"/><rect x="406.0" y="305.9" width="6.4" height="6.94" fill="#878787"/><rect x="412.0" y="305.9" width="19.3" height="6.94" fill="#b2b2b2"/><rect x="430.9" y="305.9" width="12.5" height="6.94" fill="#dbdbdb"/><rect x="443.0" y="305.9" width="4.2" height="6.94" fill="#b2b2b2"/><rect x="446.8" y="305.9" width="5.4" height="6.94" fill="#a1a1a1"/><rect x="451.8" y="305.9" width="6.7" height="6.94" fill="#b2b2b2"/><rect x="458.1" y="305.9" width="8.3" height="6.94" fill="#dbdbdb"/><rect x="466.0" y="305.9" width="8.8" height="6.94" fill="#ededed"/><rect x="474.4" y="305.9" width="5.4" height="6.94" fill="#c6c6c6"/><rect x="479.4" y="305.9" width="7.9" height="6.94" fill="#a1a1a1"/><rect x="486.9" y="305.9" width="6.5" height="6.94" fill="#878787"/><rect x="493.0" y="305.9" width="6.9" height="6.94" fill="#949494"/><rect x="499.5" y="305.9" width="5.9" height="6.94" fill="#787878"/><rect x="505.0" y="305.9" width="9.4" height="6.94" fill="#666666"/><rect x="283.1" y="312.3" width="7.3" height="6.94" fill="#444444"/><rect x="290.0" y="312.3" width="6.3" height="6.94" fill="#666666"/><rect x="295.9" y="312.3" width="5.5" height="6.94" fill="#a1a1a1"/><rect x="301.0" y="312.3" width="17.9" height="6.94" fill="#dbdbdb"/><rect x="318.5" y="312.3" width="10.5" height="6.94" fill="#c6c6c6"/><rect x="328.6" y="312.3" width="20.8" height="6.94" fill="#dbdbdb"/><rect x="349.0" y="312.3" width="15.4" height="6.94" fill="#ededed"/><rect x="364.0" y="312.3" width="4.8" height="6.94" fill="#c6c6c6"/><rect x="368.4" y="312.3" width="9.1" height="6.94" fill="#dbdbdb"/><rect x="377.1" y="312.3" width="8.3" height="6.94" fill="#b2b2b2"/><rect x="385.0" y="312.3" width="8.5" height="6.94" fill="#a1a1a1"/><rect x="393.1" y="312.3" width="7.3" height="6.94" fill="#878787"/><rect x="400.0" y="312.3" width="12.4" height="6.94" fill="#949494"/><rect x="412.0" y="312.3" width="19.3" height="6.94" fill="#a1a1a1"/><rect x="430.9" y="312.3" width="12.5" height="6.94" fill="#c6c6c6"/><rect x="443.0" y="312.3" width="4.2" height="6.94" fill="#b2b2b2"/><rect x="446.8" y="312.3" width="5.4" height="6.94" fill="#949494"/><rect x="451.8" y="312.3" width="6.7" height="6.94" fill="#b2b2b2"/><rect x="458.1" y="312.3" width="8.3" height="6.94" fill="#ededed"/><rect x="466.0" y="312.3" width="8.8" height="6.94" fill="#dbdbdb"/><rect x="474.4" y="312.3" width="5.4" height="6.94" fill="#b2b2b2"/><rect x="479.4" y="312.3" width="7.9" height="6.94" fill="#949494"/><rect x="486.9" y="312.3" width="6.5" height="6.94" fill="#878787"/><rect x="493.0" y="312.3" width="6.9" height="6.94" fill="#949494"/><rect x="499.5" y="312.3" width="5.9" height="6.94" fill="#787878"/><rect x="505.0" y="312.3" width="9.4" height="6.94" fill="#666666"/><rect x="283.1" y="318.6" width="8.8" height="6.94" fill="#555555"/><rect x="291.5" y="318.6" width="4.8" height="6.94" fill="#444444"/><rect x="295.9" y="318.6" width="5.5" height="6.94" fill="#a1a1a1"/><rect x="301.0" y="318.6" width="17.9" height="6.94" fill="#dbdbdb"/><rect x="318.5" y="318.6" width="4.7" height="6.94" fill="#b2b2b2"/><rect x="322.8" y="318.6" width="16.4" height="6.94" fill="#dbdbdb"/><rect x="338.8" y="318.6" width="6.2" height="6.94" fill="#b2b2b2"/><rect x="344.6" y="318.6" width="13.8" height="6.94" fill="#dbdbdb"/><rect x="358.0" y="318.6" width="6.4" height="6.94" fill="#ededed"/><rect x="364.0" y="318.6" width="8.4" height="6.94" fill="#dbdbdb"/><rect x="372.0" y="318.6" width="6.4" height="6.94" fill="#ededed"/><rect x="378.0" y="318.6" width="12.4" height="6.94" fill="#c6c6c6"/><rect x="390.0" y="318.6" width="10.4" height="6.94" fill="#b2b2b2"/><rect x="400.0" y="318.6" width="10.4" height="6.94" fill="#a1a1a1"/><rect x="410.0" y="318.6" width="9.7" height="6.94" fill="#949494"/><rect x="419.3" y="318.6" width="12.0" height="6.94" fill="#b2b2b2"/><rect x="430.9" y="318.6" width="12.5" height="6.94" fill="#dbdbdb"/><rect x="443.0" y="318.6" width="4.2" height="6.94" fill="#c6c6c6"/><rect x="446.8" y="318.6" width="5.4" height="6.94" fill="#a1a1a1"/><rect x="451.8" y="318.6" width="6.7" height="6.94" fill="#949494"/><rect x="458.1" y="318.6" width="20.4" height="6.94" fill="#dbdbdb"/><rect x="478.1" y="318.6" width="8.3" height="6.94" fill="#a1a1a1"/><rect x="486.0" y="318.6" width="7.6" height="6.94" fill="#949494"/><rect x="493.2" y="318.6" width="7.9" height="6.94" fill="#878787"/><rect x="500.7" y="318.6" width="13.7" height="6.94" fill="#666666"/><rect x="283.1" y="324.9" width="8.8" height="6.94" fill="#555555"/><rect x="291.5" y="324.9" width="4.8" height="6.94" fill="#444444"/><rect x="295.9" y="324.9" width="5.5" height="6.94" fill="#949494"/><rect x="301.0" y="324.9" width="7.4" height="6.94" fill="#dbdbdb"/><rect x="308.0" y="324.9" width="4.4" height="6.94" fill="#ededed"/><rect x="312.0" y="324.9" width="6.9" height="6.94" fill="#dbdbdb"/><rect x="318.5" y="324.9" width="4.7" height="6.94" fill="#b2b2b2"/><rect x="322.8" y="324.9" width="26.6" height="6.94" fill="#dbdbdb"/><rect x="349.0" y="324.9" width="9.4" height="6.94" fill="#c6c6c6"/><rect x="358.0" y="324.9" width="14.4" height="6.94" fill="#dbdbdb"/><rect x="372.0" y="324.9" width="8.4" height="6.94" fill="#ededed"/><rect x="380.0" y="324.9" width="13.5" height="6.94" fill="#c6c6c6"/><rect x="393.1" y="324.9" width="7.3" height="6.94" fill="#949494"/><rect x="400.0" y="324.9" width="10.4" height="6.94" fill="#a1a1a1"/><rect x="410.0" y="324.9" width="9.7" height="6.94" fill="#c6c6c6"/><rect x="419.3" y="324.9" width="24.1" height="6.94" fill="#dbdbdb"/><rect x="443.0" y="324.9" width="4.2" height="6.94" fill="#c6c6c6"/><rect x="446.8" y="324.9" width="5.4" height="6.94" fill="#b2b2b2"/><rect x="451.8" y="324.9" width="6.7" height="6.94" fill="#a1a1a1"/><rect x="458.1" y="324.9" width="5.3" height="6.94" fill="#dbdbdb"/><rect x="463.0" y="324.9" width="15.5" height="6.94" fill="#ededed"/><rect x="478.1" y="324.9" width="15.5" height="6.94" fill="#a1a1a1"/><rect x="493.2" y="324.9" width="7.9" height="6.94" fill="#878787"/><rect x="500.7" y="324.9" width="13.7" height="6.94" fill="#666666"/><rect x="283.1" y="331.3" width="8.8" height="6.94" fill="#555555"/><rect x="291.5" y="331.3" width="4.8" height="6.94" fill="#444444"/><rect x="295.9" y="331.3" width="5.5" height="6.94" fill="#949494"/><rect x="301.0" y="331.3" width="7.4" height="6.94" fill="#c6c6c6"/><rect x="308.0" y="331.3" width="10.9" height="6.94" fill="#dbdbdb"/><rect x="318.5" y="331.3" width="4.7" height="6.94" fill="#c6c6c6"/><rect x="322.8" y="331.3" width="16.4" height="6.94" fill="#dbdbdb"/><rect x="338.8" y="331.3" width="19.6" height="6.94" fill="#b2b2b2"/><rect x="358.0" y="331.3" width="22.4" height="6.94" fill="#dbdbdb"/><rect x="380.0" y="331.3" width="13.5" height="6.94" fill="#c6c6c6"/><rect x="393.1" y="331.3" width="7.3" height="6.94" fill="#a1a1a1"/><rect x="400.0" y="331.3" width="5.4" height="6.94" fill="#949494"/><rect x="405.0" y="331.3" width="7.4" height="6.94" fill="#b2b2b2"/><rect x="412.0" y="331.3" width="7.7" height="6.94" fill="#dbdbdb"/><rect x="419.3" y="331.3" width="12.0" height="6.94" fill="#a1a1a1"/><rect x="430.9" y="331.3" width="12.5" height="6.94" fill="#dbdbdb"/><rect x="443.0" y="331.3" width="4.2" height="6.94" fill="#c6c6c6"/><rect x="446.8" y="331.3" width="5.4" height="6.94" fill="#a1a1a1"/><rect x="451.8" y="331.3" width="6.7" height="6.94" fill="#949494"/><rect x="458.1" y="331.3" width="20.4" height="6.94" fill="#dbdbdb"/><rect x="478.1" y="331.3" width="8.3" height="6.94" fill="#c6c6c6"/><rect x="486.0" y="331.3" width="7.6" height="6.94" fill="#b2b2b2"/><rect x="493.2" y="331.3" width="7.9" height="6.94" fill="#a1a1a1"/><rect x="500.7" y="331.3" width="13.7" height="6.94" fill="#787878"/><rect x="283.1" y="337.6" width="8.8" height="6.94" fill="#555555"/><rect x="291.5" y="337.6" width="4.8" height="6.94" fill="#444444"/><rect x="295.9" y="337.6" width="5.5" height="6.94" fill="#878787"/><rect x="301.0" y="337.6" width="17.9" height="6.94" fill="#dbdbdb"/><rect x="318.5" y="337.6" width="4.7" height="6.94" fill="#a1a1a1"/><rect x="322.8" y="337.6" width="16.4" height="6.94" fill="#dbdbdb"/><rect x="338.8" y="337.6" width="10.6" height="6.94" fill="#c6c6c6"/><rect x="349.0" y="337.6" width="9.4" height="6.94" fill="#a1a1a1"/><rect x="358.0" y="337.6" width="14.4" height="6.94" fill="#c6c6c6"/><rect x="372.0" y="337.6" width="8.4" height="6.94" fill="#dbdbdb"/><rect x="380.0" y="337.6" width="13.5" height="6.94" fill="#b2b2b2"/><rect x="393.1" y="337.6" width="7.3" height="6.94" fill="#a1a1a1"/><rect x="400.0" y="337.6" width="12.4" height="6.94" fill="#c6c6c6"/><rect x="412.0" y="337.6" width="7.7" height="6.94" fill="#b2b2b2"/><rect x="419.3" y="337.6" width="12.0" height="6.94" fill="#a1a1a1"/><rect x="430.9" y="337.6" width="12.5" height="6.94" fill="#dbdbdb"/><rect x="443.0" y="337.6" width="4.2" height="6.94" fill="#c6c6c6"/><rect x="446.8" y="337.6" width="5.4" height="6.94" fill="#a1a1a1"/><rect x="451.8" y="337.6" width="6.7" height="6.94" fill="#949494"/><rect x="458.1" y="337.6" width="35.5" height="6.94" fill="#dbdbdb"/><rect x="493.2" y="337.6" width="7.9" height="6.94" fill="#b2b2b2"/><rect x="500.7" y="337.6" width="13.7" height="6.94" fill="#878787"/><rect x="283.1" y="343.9" width="13.2" height="6.94" fill="#444444"/><rect x="295.9" y="343.9" width="5.5" height="6.94" fill="#878787"/><rect x="301.0" y="343.9" width="17.9" height="6.94" fill="#dbdbdb"/><rect x="318.5" y="343.9" width="4.7" height="6.94" fill="#a1a1a1"/><rect x="322.8" y="343.9" width="26.6" height="6.94" fill="#dbdbdb"/><rect x="349.0" y="343.9" width="9.4" height="6.94" fill="#a1a1a1"/><rect x="358.0" y="343.9" width="6.4" height="6.94" fill="#b2b2b2"/><rect x="364.0" y="343.9" width="16.4" height="6.94" fill="#dbdbdb"/><rect x="380.0" y="343.9" width="9.1" height="6.94" fill="#c6c6c6"/><rect x="388.7" y="343.9" width="4.8" height="6.94" fill="#a1a1a1"/><rect x="393.1" y="343.9" width="26.6" height="6.94" fill="#949494"/><rect x="419.3" y="343.9" width="12.0" height="6.94" fill="#949494"/><rect x="430.9" y="343.9" width="9.5" height="6.94" fill="#dbdbdb"/><rect x="440.0" y="343.9" width="3.4" height="6.94" fill="#ededed"/><rect x="443.0" y="343.9" width="4.2" height="6.94" fill="#dbdbdb"/><rect x="446.8" y="343.9" width="5.4" height="6.94" fill="#b2b2b2"/><rect x="451.8" y="343.9" width="6.7" height="6.94" fill="#878787"/><rect x="458.1" y="343.9" width="5.3" height="6.94" fill="#dbdbdb"/><rect x="463.0" y="343.9" width="15.5" height="6.94" fill="#ededed"/><rect x="478.1" y="343.9" width="15.5" height="6.94" fill="#dbdbdb"/><rect x="493.2" y="343.9" width="7.9" height="6.94" fill="#949494"/><rect x="500.7" y="343.9" width="13.7" height="6.94" fill="#787878"/><rect x="283.1" y="350.3" width="8.8" height="6.94" fill="#444444"/><rect x="291.5" y="350.3" width="4.8" height="6.94" fill="#333333"/><rect x="295.9" y="350.3" width="5.5" height="6.94" fill="#949494"/><rect x="301.0" y="350.3" width="9.4" height="6.94" fill="#b2b2b2"/><rect x="310.0" y="350.3" width="8.9" height="6.94" fill="#a1a1a1"/><rect x="318.5" y="350.3" width="4.7" height="6.94" fill="#878787"/><rect x="322.8" y="350.3" width="26.6" height="6.94" fill="#dbdbdb"/><rect x="349.0" y="350.3" width="9.4" height="6.94" fill="#b2b2b2"/><rect x="358.0" y="350.3" width="6.4" height="6.94" fill="#a1a1a1"/><rect x="364.0" y="350.3" width="25.1" height="6.94" fill="#dbdbdb"/><rect x="388.7" y="350.3" width="4.8" height="6.94" fill="#a1a1a1"/><rect x="393.1" y="350.3" width="7.3" height="6.94" fill="#787878"/><rect x="400.0" y="350.3" width="19.7" height="6.94" fill="#878787"/><rect x="419.3" y="350.3" width="12.0" height="6.94" fill="#949494"/><rect x="430.9" y="350.3" width="12.5" height="6.94" fill="#dbdbdb"/><rect x="443.0" y="350.3" width="4.2" height="6.94" fill="#c6c6c6"/><rect x="446.8" y="350.3" width="11.7" height="6.94" fill="#a1a1a1"/><rect x="458.1" y="350.3" width="5.3" height="6.94" fill="#b2b2b2"/><rect x="463.0" y="350.3" width="15.5" height="6.94" fill="#c6c6c6"/><rect x="478.1" y="350.3" width="15.5" height="6.94" fill="#b2b2b2"/><rect x="493.2" y="350.3" width="7.9" height="6.94" fill="#878787"/><rect x="500.7" y="350.3" width="13.7" height="6.94" fill="#666666"/><rect x="283.1" y="356.6" width="13.2" height="6.94" fill="#444444"/><rect x="295.9" y="356.6" width="14.5" height="6.94" fill="#a1a1a1"/><rect x="310.0" y="356.6" width="8.9" height="6.94" fill="#b2b2b2"/><rect x="318.5" y="356.6" width="4.7" height="6.94" fill="#949494"/><rect x="322.8" y="356.6" width="26.6" height="6.94" fill="#dbdbdb"/><rect x="349.0" y="356.6" width="9.4" height="6.94" fill="#a1a1a1"/><rect x="358.0" y="356.6" width="6.4" height="6.94" fill="#878787"/><rect x="364.0" y="356.6" width="16.4" height="6.94" fill="#dbdbdb"/><rect x="380.0" y="356.6" width="9.1" height="6.94" fill="#c6c6c6"/><rect x="388.7" y="356.6" width="4.8" height="6.94" fill="#a1a1a1"/><rect x="393.1" y="356.6" width="7.3" height="6.94" fill="#666666"/><rect x="400.0" y="356.6" width="19.7" height="6.94" fill="#787878"/><rect x="419.3" y="356.6" width="12.0" height="6.94" fill="#949494"/><rect x="430.9" y="356.6" width="12.5" height="6.94" fill="#dbdbdb"/><rect x="443.0" y="356.6" width="4.2" height="6.94" fill="#b2b2b2"/><rect x="446.8" y="356.6" width="5.4" height="6.94" fill="#878787"/><rect x="451.8" y="356.6" width="6.7" height="6.94" fill="#787878"/><rect x="458.1" y="356.6" width="5.3" height="6.94" fill="#a1a1a1"/><rect x="463.0" y="356.6" width="7.4" height="6.94" fill="#b2b2b2"/><rect x="470.0" y="356.6" width="8.5" height="6.94" fill="#949494"/><rect x="478.1" y="356.6" width="15.5" height="6.94" fill="#878787"/><rect x="493.2" y="356.6" width="7.9" height="6.94" fill="#787878"/><rect x="500.7" y="356.6" width="13.7" height="6.94" fill="#555555"/><rect x="283.1" y="363.0" width="13.2" height="6.94" fill="#444444"/><rect x="295.9" y="363.0" width="5.5" height="6.94" fill="#878787"/><rect x="301.0" y="363.0" width="9.4" height="6.94" fill="#b2b2b2"/><rect x="310.0" y="363.0" width="8.9" height="6.94" fill="#a1a1a1"/><rect x="318.5" y="363.0" width="4.7" height="6.94" fill="#949494"/><rect x="322.8" y="363.0" width="16.4" height="6.94" fill="#dbdbdb"/><rect x="338.8" y="363.0" width="10.6" height="6.94" fill="#c6c6c6"/><rect x="349.0" y="363.0" width="9.4" height="6.94" fill="#a1a1a1"/><rect x="358.0" y="363.0" width="6.4" height="6.94" fill="#949494"/><rect x="364.0" y="363.0" width="8.4" height="6.94" fill="#dbdbdb"/><rect x="372.0" y="363.0" width="8.4" height="6.94" fill="#ededed"/><rect x="380.0" y="363.0" width="9.1" height="6.94" fill="#c6c6c6"/><rect x="388.7" y="363.0" width="4.8" height="6.94" fill="#a1a1a1"/><rect x="393.1" y="363.0" width="12.3" height="6.94" fill="#666666"/><rect x="405.0" y="363.0" width="14.7" height="6.94" fill="#787878"/><rect x="419.3" y="363.0" width="12.0" height="6.94" fill="#949494"/><rect x="430.9" y="363.0" width="5.5" height="6.94" fill="#a1a1a1"/><rect x="436.0" y="363.0" width="7.4" height="6.94" fill="#dbdbdb"/><rect x="443.0" y="363.0" width="4.2" height="6.94" fill="#a1a1a1"/><rect x="446.8" y="363.0" width="5.4" height="6.94" fill="#787878"/><rect x="451.8" y="363.0" width="6.7" height="6.94" fill="#666666"/><rect x="458.1" y="363.0" width="5.3" height="6.94" fill="#949494"/><rect x="463.0" y="363.0" width="7.4" height="6.94" fill="#a1a1a1"/><rect x="470.0" y="363.0" width="23.6" height="6.94" fill="#878787"/><rect x="493.2" y="363.0" width="7.9" height="6.94" fill="#787878"/><rect x="500.7" y="363.0" width="13.7" height="6.94" fill="#555555"/><rect x="283.1" y="369.3" width="6.7" height="6.94" fill="#555555"/><rect x="289.4" y="369.3" width="6.9" height="6.94" fill="#444444"/><rect x="295.9" y="369.3" width="11.3" height="6.94" fill="#949494"/><rect x="306.8" y="369.3" width="6.6" height="6.94" fill="#c6c6c6"/><rect x="313.0" y="369.3" width="5.4" height="6.94" fill="#b2b2b2"/><rect x="318.0" y="369.3" width="4.4" height="6.94" fill="#b2b2b2"/><rect x="322.0" y="369.3" width="7.0" height="6.94" fill="#b2b2b2"/><rect x="328.6" y="369.3" width="6.8" height="6.94" fill="#c6c6c6"/><rect x="335.0" y="369.3" width="10.4" height="6.94" fill="#b2b2b2"/><rect x="345.0" y="369.3" width="7.4" height="6.94" fill="#a1a1a1"/><rect x="352.0" y="369.3" width="6.4" height="6.94" fill="#878787"/><rect x="358.0" y="369.3" width="6.4" height="6.94" fill="#949494"/><rect x="364.0" y="369.3" width="3.3" height="6.94" fill="#a1a1a1"/><rect x="366.9" y="369.3" width="8.5" height="6.94" fill="#dbdbdb"/><rect x="375.0" y="369.3" width="5.4" height="6.94" fill="#ededed"/><rect x="380.0" y="369.3" width="7.7" height="6.94" fill="#dbdbdb"/><rect x="387.3" y="369.3" width="6.2" height="6.94" fill="#a1a1a1"/><rect x="393.1" y="369.3" width="36.8" height="6.94" fill="#787878"/><rect x="429.5" y="369.3" width="7.6" height="6.94" fill="#a1a1a1"/><rect x="436.7" y="369.3" width="10.5" height="6.94" fill="#b2b2b2"/><rect x="446.8" y="369.3" width="23.6" height="6.94" fill="#878787"/><rect x="470.0" y="369.3" width="10.4" height="6.94" fill="#949494"/><rect x="480.0" y="369.3" width="16.1" height="6.94" fill="#878787"/><rect x="495.7" y="369.3" width="5.4" height="6.94" fill="#666666"/><rect x="500.7" y="369.3" width="5.4" height="6.94" fill="#444444"/><rect x="505.7" y="369.3" width="8.7" height="6.94" fill="#666666"/><rect x="283.1" y="375.6" width="6.7" height="6.94" fill="#555555"/><rect x="289.4" y="375.6" width="6.9" height="6.94" fill="#444444"/><rect x="295.9" y="375.6" width="11.3" height="6.94" fill="#949494"/><rect x="306.8" y="375.6" width="6.6" height="6.94" fill="#b2b2b2"/><rect x="313.0" y="375.6" width="5.4" height="6.94" fill="#c6c6c6"/><rect x="318.0" y="375.6" width="11.0" height="6.94" fill="#b2b2b2"/><rect x="328.6" y="375.6" width="9.8" height="6.94" fill="#a1a1a1"/><rect x="338.0" y="375.6" width="7.4" height="6.94" fill="#949494"/><rect x="345.0" y="375.6" width="7.4" height="6.94" fill="#c6c6c6"/><rect x="352.0" y="375.6" width="12.4" height="6.94" fill="#949494"/><rect x="364.0" y="375.6" width="3.3" height="6.94" fill="#a1a1a1"/><rect x="366.9" y="375.6" width="5.5" height="6.94" fill="#dbdbdb"/><rect x="372.0" y="375.6" width="8.4" height="6.94" fill="#ededed"/><rect x="380.0" y="375.6" width="7.7" height="6.94" fill="#dbdbdb"/><rect x="387.3" y="375.6" width="6.2" height="6.94" fill="#a1a1a1"/><rect x="393.1" y="375.6" width="7.3" height="6.94" fill="#666666"/><rect x="400.0" y="375.6" width="10.4" height="6.94" fill="#787878"/><rect x="410.0" y="375.6" width="19.9" height="6.94" fill="#666666"/><rect x="429.5" y="375.6" width="7.6" height="6.94" fill="#949494"/><rect x="436.7" y="375.6" width="10.5" height="6.94" fill="#b2b2b2"/><rect x="446.8" y="375.6" width="8.6" height="6.94" fill="#878787"/><rect x="455.0" y="375.6" width="15.4" height="6.94" fill="#949494"/><rect x="470.0" y="375.6" width="26.1" height="6.94" fill="#878787"/><rect x="495.7" y="375.6" width="5.4" height="6.94" fill="#666666"/><rect x="500.7" y="375.6" width="5.4" height="6.94" fill="#444444"/><rect x="505.7" y="375.6" width="8.7" height="6.94" fill="#666666"/><rect x="283.1" y="382.0" width="6.7" height="6.94" fill="#555555"/><rect x="289.4" y="382.0" width="6.9" height="6.94" fill="#333333"/><rect x="295.9" y="382.0" width="11.3" height="6.94" fill="#a1a1a1"/><rect x="306.8" y="382.0" width="6.6" height="6.94" fill="#c6c6c6"/><rect x="313.0" y="382.0" width="7.4" height="6.94" fill="#b2b2b2"/><rect x="320.0" y="382.0" width="9.0" height="6.94" fill="#c6c6c6"/><rect x="328.6" y="382.0" width="23.8" height="6.94" fill="#a1a1a1"/><rect x="352.0" y="382.0" width="6.4" height="6.94" fill="#878787"/><rect x="358.0" y="382.0" width="6.4" height="6.94" fill="#949494"/><rect x="364.0" y="382.0" width="3.3" height="6.94" fill="#a1a1a1"/><rect x="366.9" y="382.0" width="8.5" height="6.94" fill="#dbdbdb"/><rect x="375.0" y="382.0" width="5.4" height="6.94" fill="#c6c6c6"/><rect x="380.0" y="382.0" width="7.7" height="6.94" fill="#dbdbdb"/><rect x="387.3" y="382.0" width="6.2" height="6.94" fill="#949494"/><rect x="393.1" y="382.0" width="17.3" height="6.94" fill="#787878"/><rect x="410.0" y="382.0" width="19.9" height="6.94" fill="#666666"/><rect x="429.5" y="382.0" width="7.6" height="6.94" fill="#949494"/><rect x="436.7" y="382.0" width="6.7" height="6.94" fill="#b2b2b2"/><rect x="443.0" y="382.0" width="4.2" height="6.94" fill="#a1a1a1"/><rect x="446.8" y="382.0" width="5.6" height="6.94" fill="#878787"/><rect x="452.0" y="382.0" width="18.4" height="6.94" fill="#949494"/><rect x="470.0" y="382.0" width="26.1" height="6.94" fill="#878787"/><rect x="495.7" y="382.0" width="5.4" height="6.94" fill="#666666"/><rect x="500.7" y="382.0" width="5.4" height="6.94" fill="#333333"/><rect x="505.7" y="382.0" width="8.7" height="6.94" fill="#666666"/><rect x="283.1" y="388.3" width="6.7" height="6.94" fill="#444444"/><rect x="289.4" y="388.3" width="6.9" height="6.94" fill="#333333"/><rect x="295.9" y="388.3" width="11.3" height="6.94" fill="#878787"/><rect x="306.8" y="388.3" width="6.6" height="6.94" fill="#c6c6c6"/><rect x="313.0" y="388.3" width="9.4" height="6.94" fill="#b2b2b2"/><rect x="322.0" y="388.3" width="7.0" height="6.94" fill="#c6c6c6"/><rect x="328.6" y="388.3" width="9.8" height="6.94" fill="#949494"/><rect x="338.0" y="388.3" width="7.4" height="6.94" fill="#b2b2b2"/><rect x="345.0" y="388.3" width="7.4" height="6.94" fill="#878787"/><rect x="352.0" y="388.3" width="12.4" height="6.94" fill="#949494"/><rect x="364.0" y="388.3" width="3.3" height="6.94" fill="#b2b2b2"/><rect x="366.9" y="388.3" width="8.5" height="6.94" fill="#ededed"/><rect x="375.0" y="388.3" width="12.7" height="6.94" fill="#dbdbdb"/><rect x="387.3" y="388.3" width="6.2" height="6.94" fill="#949494"/><rect x="393.1" y="388.3" width="7.3" height="6.94" fill="#666666"/><rect x="400.0" y="388.3" width="29.9" height="6.94" fill="#787878"/><rect x="429.5" y="388.3" width="7.6" height="6.94" fill="#a1a1a1"/><rect x="436.7" y="388.3" width="6.7" height="6.94" fill="#c6c6c6"/><rect x="443.0" y="388.3" width="4.2" height="6.94" fill="#b2b2b2"/><rect x="446.8" y="388.3" width="8.6" height="6.94" fill="#878787"/><rect x="455.0" y="388.3" width="10.4" height="6.94" fill="#949494"/><rect x="465.0" y="388.3" width="10.4" height="6.94" fill="#a1a1a1"/><rect x="475.0" y="388.3" width="21.1" height="6.94" fill="#878787"/><rect x="495.7" y="388.3" width="5.4" height="6.94" fill="#666666"/><rect x="500.7" y="388.3" width="5.4" height="6.94" fill="#555555"/><rect x="505.7" y="388.3" width="8.7" height="6.94" fill="#666666"/><rect x="283.1" y="394.6" width="13.2" height="6.94" fill="#444444"/><rect x="295.9" y="394.6" width="11.3" height="6.94" fill="#949494"/><rect x="306.8" y="394.6" width="6.6" height="6.94" fill="#b2b2b2"/><rect x="313.0" y="394.6" width="7.4" height="6.94" fill="#c6c6c6"/><rect x="320.0" y="394.6" width="9.0" height="6.94" fill="#c6c6c6"/><rect x="328.6" y="394.6" width="9.8" height="6.94" fill="#949494"/><rect x="338.0" y="394.6" width="7.4" height="6.94" fill="#a1a1a1"/><rect x="345.0" y="394.6" width="7.4" height="6.94" fill="#949494"/><rect x="352.0" y="394.6" width="12.4" height="6.94" fill="#878787"/><rect x="364.0" y="394.6" width="3.3" height="6.94" fill="#a1a1a1"/><rect x="366.9" y="394.6" width="5.5" height="6.94" fill="#ededed"/><rect x="372.0" y="394.6" width="8.4" height="6.94" fill="#dbdbdb"/><rect x="380.0" y="394.6" width="7.7" height="6.94" fill="#ededed"/><rect x="387.3" y="394.6" width="6.2" height="6.94" fill="#a1a1a1"/><rect x="393.1" y="394.6" width="22.3" height="6.94" fill="#666666"/><rect x="415.0" y="394.6" width="14.9" height="6.94" fill="#787878"/><rect x="429.5" y="394.6" width="7.6" height="6.94" fill="#949494"/><rect x="436.7" y="394.6" width="6.7" height="6.94" fill="#b2b2b2"/><rect x="443.0" y="394.6" width="4.2" height="6.94" fill="#a1a1a1"/><rect x="446.8" y="394.6" width="8.6" height="6.94" fill="#878787"/><rect x="455.0" y="394.6" width="15.4" height="6.94" fill="#949494"/><rect x="470.0" y="394.6" width="26.1" height="6.94" fill="#878787"/><rect x="495.7" y="394.6" width="5.4" height="6.94" fill="#666666"/><rect x="500.7" y="394.6" width="5.4" height="6.94" fill="#555555"/><rect x="505.7" y="394.6" width="8.7" height="6.94" fill="#666666"/><rect x="283.1" y="401.0" width="6.7" height="6.94" fill="#444444"/><rect x="289.4" y="401.0" width="6.9" height="6.94" fill="#333333"/><rect x="295.9" y="401.0" width="11.3" height="6.94" fill="#878787"/><rect x="306.8" y="401.0" width="6.6" height="6.94" fill="#b2b2b2"/><rect x="313.0" y="401.0" width="7.4" height="6.94" fill="#c6c6c6"/><rect x="320.0" y="401.0" width="9.0" height="6.94" fill="#c6c6c6"/><rect x="328.6" y="401.0" width="9.8" height="6.94" fill="#878787"/><rect x="338.0" y="401.0" width="7.4" height="6.94" fill="#a1a1a1"/><rect x="345.0" y="401.0" width="7.4" height="6.94" fill="#878787"/><rect x="352.0" y="401.0" width="12.4" height="6.94" fill="#949494"/><rect x="364.0" y="401.0" width="3.3" height="6.94" fill="#c6c6c6"/><rect x="366.9" y="401.0" width="5.5" height="6.94" fill="#dbdbdb"/><rect x="372.0" y="401.0" width="8.4" height="6.94" fill="#ededed"/><rect x="380.0" y="401.0" width="7.7" height="6.94" fill="#dbdbdb"/><rect x="387.3" y="401.0" width="6.2" height="6.94" fill="#b2b2b2"/><rect x="393.1" y="401.0" width="12.3" height="6.94" fill="#787878"/><rect x="405.0" y="401.0" width="10.4" height="6.94" fill="#666666"/><rect x="415.0" y="401.0" width="14.9" height="6.94" fill="#787878"/><rect x="429.5" y="401.0" width="7.6" height="6.94" fill="#a1a1a1"/><rect x="436.7" y="401.0" width="6.7" height="6.94" fill="#c6c6c6"/><rect x="443.0" y="401.0" width="4.2" height="6.94" fill="#b2b2b2"/><rect x="446.8" y="401.0" width="11.6" height="6.94" fill="#878787"/><rect x="458.0" y="401.0" width="12.4" height="6.94" fill="#a1a1a1"/><rect x="470.0" y="401.0" width="10.4" height="6.94" fill="#949494"/><rect x="480.0" y="401.0" width="16.1" height="6.94" fill="#878787"/><rect x="495.7" y="401.0" width="5.4" height="6.94" fill="#666666"/><rect x="500.7" y="401.0" width="5.4" height="6.94" fill="#444444"/><rect x="505.7" y="401.0" width="8.7" height="6.94" fill="#666666"/><rect x="283.1" y="407.3" width="6.7" height="6.94" fill="#555555"/><rect x="289.4" y="407.3" width="6.9" height="6.94" fill="#444444"/><rect x="295.9" y="407.3" width="11.3" height="6.94" fill="#949494"/><rect x="306.8" y="407.3" width="6.6" height="6.94" fill="#b2b2b2"/><rect x="313.0" y="407.3" width="7.4" height="6.94" fill="#c6c6c6"/><rect x="320.0" y="407.3" width="9.0" height="6.94" fill="#b2b2b2"/><rect x="328.6" y="407.3" width="9.8" height="6.94" fill="#a1a1a1"/><rect x="338.0" y="407.3" width="7.4" height="6.94" fill="#949494"/><rect x="345.0" y="407.3" width="7.4" height="6.94" fill="#c6c6c6"/><rect x="352.0" y="407.3" width="12.4" height="6.94" fill="#a1a1a1"/><rect x="364.0" y="407.3" width="3.3" height="6.94" fill="#dbdbdb"/><rect x="366.9" y="407.3" width="8.5" height="6.94" fill="#ededed"/><rect x="375.0" y="407.3" width="5.4" height="6.94" fill="#dbdbdb"/><rect x="380.0" y="407.3" width="7.7" height="6.94" fill="#c6c6c6"/><rect x="387.3" y="407.3" width="6.2" height="6.94" fill="#a1a1a1"/><rect x="393.1" y="407.3" width="7.3" height="6.94" fill="#878787"/><rect x="400.0" y="407.3" width="29.9" height="6.94" fill="#787878"/><rect x="429.5" y="407.3" width="7.6" height="6.94" fill="#a1a1a1"/><rect x="436.7" y="407.3" width="6.7" height="6.94" fill="#dbdbdb"/><rect x="443.0" y="407.3" width="4.2" height="6.94" fill="#c6c6c6"/><rect x="446.8" y="407.3" width="11.6" height="6.94" fill="#878787"/><rect x="458.0" y="407.3" width="12.4" height="6.94" fill="#949494"/><rect x="470.0" y="407.3" width="10.4" height="6.94" fill="#878787"/><rect x="480.0" y="407.3" width="16.1" height="6.94" fill="#949494"/><rect x="495.7" y="407.3" width="5.4" height="6.94" fill="#666666"/><rect x="500.7" y="407.3" width="5.4" height="6.94" fill="#555555"/><rect x="505.7" y="407.3" width="8.7" height="6.94" fill="#666666"/><rect x="283.1" y="413.7" width="6.7" height="6.94" fill="#555555"/><rect x="289.4" y="413.7" width="6.9" height="6.94" fill="#444444"/><rect x="295.9" y="413.7" width="11.3" height="6.94" fill="#949494"/><rect x="306.8" y="413.7" width="6.6" height="6.94" fill="#c6c6c6"/><rect x="313.0" y="413.7" width="7.4" height="6.94" fill="#b2b2b2"/><rect x="320.0" y="413.7" width="9.0" height="6.94" fill="#c6c6c6"/><rect x="328.6" y="413.7" width="9.8" height="6.94" fill="#949494"/><rect x="338.0" y="413.7" width="7.4" height="6.94" fill="#c6c6c6"/><rect x="345.0" y="413.7" width="7.4" height="6.94" fill="#a1a1a1"/><rect x="352.0" y="413.7" width="12.4" height="6.94" fill="#949494"/><rect x="364.0" y="413.7" width="3.3" height="6.94" fill="#dbdbdb"/><rect x="366.9" y="413.7" width="8.5" height="6.94" fill="#c6c6c6"/><rect x="375.0" y="413.7" width="5.4" height="6.94" fill="#dbdbdb"/><rect x="380.0" y="413.7" width="7.7" height="6.94" fill="#c6c6c6"/><rect x="387.3" y="413.7" width="6.2" height="6.94" fill="#a1a1a1"/><rect x="393.1" y="413.7" width="12.3" height="6.94" fill="#878787"/><rect x="405.0" y="413.7" width="24.9" height="6.94" fill="#787878"/><rect x="429.5" y="413.7" width="7.6" height="6.94" fill="#a1a1a1"/><rect x="436.7" y="413.7" width="10.5" height="6.94" fill="#dbdbdb"/><rect x="446.8" y="413.7" width="11.6" height="6.94" fill="#949494"/><rect x="458.0" y="413.7" width="12.4" height="6.94" fill="#a1a1a1"/><rect x="470.0" y="413.7" width="10.4" height="6.94" fill="#b2b2b2"/><rect x="480.0" y="413.7" width="16.1" height="6.94" fill="#949494"/><rect x="495.7" y="413.7" width="5.4" height="6.94" fill="#787878"/><rect x="500.7" y="413.7" width="13.7" height="6.94" fill="#666666"/><rect x="283.1" y="420.0" width="8.1" height="6.94" fill="#555555"/><rect x="290.8" y="420.0" width="5.5" height="6.94" fill="#222222"/><rect x="295.9" y="420.0" width="11.3" height="6.94" fill="#949494"/><rect x="306.8" y="420.0" width="6.6" height="6.94" fill="#b2b2b2"/><rect x="313.0" y="420.0" width="7.4" height="6.94" fill="#c6c6c6"/><rect x="320.0" y="420.0" width="9.0" height="6.94" fill="#b2b2b2"/><rect x="328.6" y="420.0" width="6.3" height="6.94" fill="#878787"/><rect x="334.5" y="420.0" width="10.9" height="6.94" fill="#a1a1a1"/><rect x="345.0" y="420.0" width="10.2" height="6.94" fill="#a1a1a1"/><rect x="354.8" y="420.0" width="14.0" height="6.94" fill="#a1a1a1"/><rect x="368.4" y="420.0" width="9.1" height="6.94" fill="#dbdbdb"/><rect x="377.1" y="420.0" width="9.1" height="6.94" fill="#b2b2b2"/><rect x="385.8" y="420.0" width="7.7" height="6.94" fill="#dbdbdb"/><rect x="393.1" y="420.0" width="14.9" height="6.94" fill="#787878"/><rect x="407.6" y="420.0" width="10.6" height="6.94" fill="#949494"/><rect x="417.8" y="420.0" width="12.1" height="6.94" fill="#a1a1a1"/><rect x="429.5" y="420.0" width="13.9" height="6.94" fill="#c6c6c6"/><rect x="443.0" y="420.0" width="5.4" height="6.94" fill="#dbdbdb"/><rect x="448.0" y="420.0" width="5.4" height="6.94" fill="#a1a1a1"/><rect x="453.0" y="420.0" width="10.4" height="6.94" fill="#949494"/><rect x="463.0" y="420.0" width="10.5" height="6.94" fill="#b2b2b2"/><rect x="473.1" y="420.0" width="6.7" height="6.94" fill="#a1a1a1"/><rect x="479.4" y="420.0" width="11.7" height="6.94" fill="#b2b2b2"/><rect x="490.7" y="420.0" width="10.4" height="6.94" fill="#a1a1a1"/><rect x="500.7" y="420.0" width="13.7" height="6.94" fill="#666666"/><rect x="283.1" y="426.3" width="8.1" height="6.94" fill="#666666"/><rect x="290.8" y="426.3" width="5.5" height="6.94" fill="#222222"/><rect x="295.9" y="426.3" width="11.3" height="6.94" fill="#949494"/><rect x="306.8" y="426.3" width="13.6" height="6.94" fill="#c6c6c6"/><rect x="320.0" y="426.3" width="9.0" height="6.94" fill="#b2b2b2"/><rect x="328.6" y="426.3" width="6.3" height="6.94" fill="#a1a1a1"/><rect x="334.5" y="426.3" width="5.9" height="6.94" fill="#b2b2b2"/><rect x="340.0" y="426.3" width="10.4" height="6.94" fill="#b2b2b2"/><rect x="350.0" y="426.3" width="5.2" height="6.94" fill="#a1a1a1"/><rect x="354.8" y="426.3" width="9.6" height="6.94" fill="#a1a1a1"/><rect x="364.0" y="426.3" width="4.8" height="6.94" fill="#dbdbdb"/><rect x="368.4" y="426.3" width="9.1" height="6.94" fill="#a1a1a1"/><rect x="377.1" y="426.3" width="7.7" height="6.94" fill="#dbdbdb"/><rect x="384.4" y="426.3" width="9.1" height="6.94" fill="#a1a1a1"/><rect x="393.1" y="426.3" width="10.6" height="6.94" fill="#787878"/><rect x="403.3" y="426.3" width="4.7" height="6.94" fill="#444444"/><rect x="407.6" y="426.3" width="4.8" height="6.94" fill="#787878"/><rect x="412.0" y="426.3" width="10.6" height="6.94" fill="#949494"/><rect x="422.2" y="426.3" width="9.1" height="6.94" fill="#c6c6c6"/><rect x="430.9" y="426.3" width="17.5" height="6.94" fill="#ededed"/><rect x="448.0" y="426.3" width="5.4" height="6.94" fill="#a1a1a1"/><rect x="453.0" y="426.3" width="10.4" height="6.94" fill="#878787"/><rect x="463.0" y="426.3" width="10.5" height="6.94" fill="#a1a1a1"/><rect x="473.1" y="426.3" width="6.7" height="6.94" fill="#b2b2b2"/><rect x="479.4" y="426.3" width="11.7" height="6.94" fill="#c6c6c6"/><rect x="490.7" y="426.3" width="10.4" height="6.94" fill="#b2b2b2"/><rect x="500.7" y="426.3" width="13.7" height="6.94" fill="#666666"/><rect x="283.1" y="432.7" width="8.1" height="6.94" fill="#555555"/><rect x="290.8" y="432.7" width="5.5" height="6.94" fill="#333333"/><rect x="295.9" y="432.7" width="11.3" height="6.94" fill="#a1a1a1"/><rect x="306.8" y="432.7" width="6.6" height="6.94" fill="#c6c6c6"/><rect x="313.0" y="432.7" width="5.4" height="6.94" fill="#c6c6c6"/><rect x="318.0" y="432.7" width="11.0" height="6.94" fill="#b2b2b2"/><rect x="328.6" y="432.7" width="6.3" height="6.94" fill="#878787"/><rect x="334.5" y="432.7" width="5.9" height="6.94" fill="#b2b2b2"/><rect x="340.0" y="432.7" width="10.4" height="6.94" fill="#a1a1a1"/><rect x="350.0" y="432.7" width="5.2" height="6.94" fill="#b2b2b2"/><rect x="354.8" y="432.7" width="9.6" height="6.94" fill="#a1a1a1"/><rect x="364.0" y="432.7" width="9.1" height="6.94" fill="#ededed"/><rect x="372.7" y="432.7" width="6.2" height="6.94" fill="#a1a1a1"/><rect x="378.5" y="432.7" width="7.7" height="6.94" fill="#b2b2b2"/><rect x="385.8" y="432.7" width="26.6" height="6.94" fill="#dbdbdb"/><rect x="412.0" y="432.7" width="10.6" height="6.94" fill="#878787"/><rect x="422.2" y="432.7" width="9.1" height="6.94" fill="#b2b2b2"/><rect x="430.9" y="432.7" width="12.5" height="6.94" fill="#ededed"/><rect x="443.0" y="432.7" width="5.4" height="6.94" fill="#dbdbdb"/><rect x="448.0" y="432.7" width="5.4" height="6.94" fill="#b2b2b2"/><rect x="453.0" y="432.7" width="10.4" height="6.94" fill="#a1a1a1"/><rect x="463.0" y="432.7" width="10.5" height="6.94" fill="#b2b2b2"/><rect x="473.1" y="432.7" width="6.7" height="6.94" fill="#dbdbdb"/><rect x="479.4" y="432.7" width="6.0" height="6.94" fill="#ededed"/><rect x="485.0" y="432.7" width="6.1" height="6.94" fill="#dbdbdb"/><rect x="490.7" y="432.7" width="10.4" height="6.94" fill="#b2b2b2"/><rect x="500.7" y="432.7" width="13.7" height="6.94" fill="#787878"/><rect x="283.1" y="439.0" width="8.1" height="6.94" fill="#666666"/><rect x="290.8" y="439.0" width="5.5" height="6.94" fill="#333333"/><rect x="295.9" y="439.0" width="11.3" height="6.94" fill="#949494"/><rect x="306.8" y="439.0" width="6.6" height="6.94" fill="#c6c6c6"/><rect x="313.0" y="439.0" width="7.4" height="6.94" fill="#b2b2b2"/><rect x="320.0" y="439.0" width="9.0" height="6.94" fill="#c6c6c6"/><rect x="328.6" y="439.0" width="6.3" height="6.94" fill="#949494"/><rect x="334.5" y="439.0" width="5.9" height="6.94" fill="#b2b2b2"/><rect x="340.0" y="439.0" width="10.4" height="6.94" fill="#a1a1a1"/><rect x="350.0" y="439.0" width="5.2" height="6.94" fill="#b2b2b2"/><rect x="354.8" y="439.0" width="9.6" height="6.94" fill="#949494"/><rect x="364.0" y="439.0" width="4.8" height="6.94" fill="#a1a1a1"/><rect x="368.4" y="439.0" width="10.5" height="6.94" fill="#ededed"/><rect x="378.5" y="439.0" width="9.2" height="6.94" fill="#a1a1a1"/><rect x="387.3" y="439.0" width="6.2" height="6.94" fill="#c6c6c6"/><rect x="393.1" y="439.0" width="17.8" height="6.94" fill="#949494"/><rect x="410.5" y="439.0" width="7.7" height="6.94" fill="#878787"/><rect x="417.8" y="439.0" width="13.5" height="6.94" fill="#ededed"/><rect x="430.9" y="439.0" width="17.5" height="6.94" fill="#dbdbdb"/><rect x="448.0" y="439.0" width="5.4" height="6.94" fill="#b2b2b2"/><rect x="453.0" y="439.0" width="10.4" height="6.94" fill="#949494"/><rect x="463.0" y="439.0" width="10.5" height="6.94" fill="#a1a1a1"/><rect x="473.1" y="439.0" width="6.7" height="6.94" fill="#dbdbdb"/><rect x="479.4" y="439.0" width="6.0" height="6.94" fill="#a1a1a1"/><rect x="485.0" y="439.0" width="6.1" height="6.94" fill="#dbdbdb"/><rect x="490.7" y="439.0" width="10.4" height="6.94" fill="#c6c6c6"/><rect x="500.7" y="439.0" width="13.7" height="6.94" fill="#666666"/><rect x="283.1" y="445.3" width="8.1" height="6.94" fill="#666666"/><rect x="290.8" y="445.3" width="5.5" height="6.94" fill="#555555"/><rect x="295.9" y="445.3" width="11.3" height="6.94" fill="#a1a1a1"/><rect x="306.8" y="445.3" width="13.6" height="6.94" fill="#c6c6c6"/><rect x="320.0" y="445.3" width="9.0" height="6.94" fill="#b2b2b2"/><rect x="328.6" y="445.3" width="6.3" height="6.94" fill="#878787"/><rect x="334.5" y="445.3" width="5.9" height="6.94" fill="#b2b2b2"/><rect x="340.0" y="445.3" width="15.2" height="6.94" fill="#b2b2b2"/><rect x="354.8" y="445.3" width="18.3" height="6.94" fill="#a1a1a1"/><rect x="372.7" y="445.3" width="10.6" height="6.94" fill="#dbdbdb"/><rect x="382.9" y="445.3" width="10.6" height="6.94" fill="#ededed"/><rect x="393.1" y="445.3" width="17.8" height="6.94" fill="#a1a1a1"/><rect x="410.5" y="445.3" width="4.8" height="6.94" fill="#ededed"/><rect x="414.9" y="445.3" width="7.7" height="6.94" fill="#dbdbdb"/><rect x="422.2" y="445.3" width="9.1" height="6.94" fill="#c6c6c6"/><rect x="430.9" y="445.3" width="12.5" height="6.94" fill="#dbdbdb"/><rect x="443.0" y="445.3" width="5.4" height="6.94" fill="#c6c6c6"/><rect x="448.0" y="445.3" width="5.4" height="6.94" fill="#a1a1a1"/><rect x="453.0" y="445.3" width="10.4" height="6.94" fill="#949494"/><rect x="463.0" y="445.3" width="10.5" height="6.94" fill="#b2b2b2"/><rect x="473.1" y="445.3" width="6.7" height="6.94" fill="#dbdbdb"/><rect x="479.4" y="445.3" width="6.0" height="6.94" fill="#b2b2b2"/><rect x="485.0" y="445.3" width="6.1" height="6.94" fill="#c6c6c6"/><rect x="490.7" y="445.3" width="10.4" height="6.94" fill="#b2b2b2"/><rect x="500.7" y="445.3" width="13.7" height="6.94" fill="#666666"/><rect x="283.1" y="451.7" width="13.2" height="6.94" fill="#666666"/><rect x="295.9" y="451.7" width="11.3" height="6.94" fill="#949494"/><rect x="306.8" y="451.7" width="6.6" height="6.94" fill="#c6c6c6"/><rect x="313.0" y="451.7" width="16.0" height="6.94" fill="#b2b2b2"/><rect x="328.6" y="451.7" width="6.3" height="6.94" fill="#949494"/><rect x="334.5" y="451.7" width="5.9" height="6.94" fill="#b2b2b2"/><rect x="340.0" y="451.7" width="10.4" height="6.94" fill="#a1a1a1"/><rect x="350.0" y="451.7" width="5.2" height="6.94" fill="#b2b2b2"/><rect x="354.8" y="451.7" width="9.6" height="6.94" fill="#949494"/><rect x="364.0" y="451.7" width="14.9" height="6.94" fill="#878787"/><rect x="378.5" y="451.7" width="12.1" height="6.94" fill="#a1a1a1"/><rect x="390.2" y="451.7" width="20.7" height="6.94" fill="#ededed"/><rect x="410.5" y="451.7" width="9.2" height="6.94" fill="#a1a1a1"/><rect x="419.3" y="451.7" width="12.0" height="6.94" fill="#878787"/><rect x="430.9" y="451.7" width="12.5" height="6.94" fill="#c6c6c6"/><rect x="443.0" y="451.7" width="5.4" height="6.94" fill="#dbdbdb"/><rect x="448.0" y="451.7" width="5.4" height="6.94" fill="#949494"/><rect x="453.0" y="451.7" width="10.4" height="6.94" fill="#878787"/><rect x="463.0" y="451.7" width="10.5" height="6.94" fill="#b2b2b2"/><rect x="473.1" y="451.7" width="6.7" height="6.94" fill="#dbdbdb"/><rect x="479.4" y="451.7" width="6.0" height="6.94" fill="#ededed"/><rect x="485.0" y="451.7" width="6.1" height="6.94" fill="#dbdbdb"/><rect x="490.7" y="451.7" width="10.4" height="6.94" fill="#a1a1a1"/><rect x="500.7" y="451.7" width="13.7" height="6.94" fill="#666666"/><rect x="283.1" y="458.0" width="13.2" height="6.94" fill="#666666"/><rect x="295.9" y="458.0" width="11.3" height="6.94" fill="#878787"/><rect x="306.8" y="458.0" width="6.6" height="6.94" fill="#949494"/><rect x="313.0" y="458.0" width="7.4" height="6.94" fill="#b2b2b2"/><rect x="320.0" y="458.0" width="9.0" height="6.94" fill="#a1a1a1"/><rect x="328.6" y="458.0" width="6.3" height="6.94" fill="#949494"/><rect x="334.5" y="458.0" width="10.9" height="6.94" fill="#a1a1a1"/><rect x="345.0" y="458.0" width="10.2" height="6.94" fill="#878787"/><rect x="354.8" y="458.0" width="9.6" height="6.94" fill="#a1a1a1"/><rect x="364.0" y="458.0" width="8.4" height="6.94" fill="#878787"/><rect x="372.0" y="458.0" width="8.4" height="6.94" fill="#949494"/><rect x="380.0" y="458.0" width="10.4" height="6.94" fill="#787878"/><rect x="390.0" y="458.0" width="10.4" height="6.94" fill="#949494"/><rect x="400.0" y="458.0" width="10.4" height="6.94" fill="#878787"/><rect x="410.0" y="458.0" width="10.4" height="6.94" fill="#787878"/><rect x="420.0" y="458.0" width="10.4" height="6.94" fill="#949494"/><rect x="430.0" y="458.0" width="13.4" height="6.94" fill="#878787"/><rect x="443.0" y="458.0" width="5.4" height="6.94" fill="#b2b2b2"/><rect x="448.0" y="458.0" width="5.4" height="6.94" fill="#878787"/><rect x="453.0" y="458.0" width="10.4" height="6.94" fill="#949494"/><rect x="463.0" y="458.0" width="10.5" height="6.94" fill="#c6c6c6"/><rect x="473.1" y="458.0" width="6.7" height="6.94" fill="#b2b2b2"/><rect x="479.4" y="458.0" width="11.7" height="6.94" fill="#a1a1a1"/><rect x="490.7" y="458.0" width="10.4" height="6.94" fill="#949494"/><rect x="500.7" y="458.0" width="13.7" height="6.94" fill="#666666"/><rect x="283.1" y="464.4" width="13.2" height="6.94" fill="#666666"/><rect x="295.9" y="464.4" width="11.3" height="6.94" fill="#949494"/><rect x="306.8" y="464.4" width="6.6" height="6.94" fill="#a1a1a1"/><rect x="313.0" y="464.4" width="7.4" height="6.94" fill="#b2b2b2"/><rect x="320.0" y="464.4" width="9.0" height="6.94" fill="#dbdbdb"/><rect x="328.6" y="464.4" width="6.3" height="6.94" fill="#a1a1a1"/><rect x="334.5" y="464.4" width="10.9" height="6.94" fill="#b2b2b2"/><rect x="345.0" y="464.4" width="10.2" height="6.94" fill="#a1a1a1"/><rect x="354.8" y="464.4" width="9.6" height="6.94" fill="#c6c6c6"/><rect x="364.0" y="464.4" width="8.4" height="6.94" fill="#949494"/><rect x="372.0" y="464.4" width="8.4" height="6.94" fill="#878787"/><rect x="380.0" y="464.4" width="10.4" height="6.94" fill="#b2b2b2"/><rect x="390.0" y="464.4" width="10.4" height="6.94" fill="#949494"/><rect x="400.0" y="464.4" width="10.4" height="6.94" fill="#878787"/><rect x="410.0" y="464.4" width="10.4" height="6.94" fill="#a1a1a1"/><rect x="420.0" y="464.4" width="10.4" height="6.94" fill="#878787"/><rect x="430.0" y="464.4" width="13.4" height="6.94" fill="#949494"/><rect x="443.0" y="464.4" width="5.4" height="6.94" fill="#949494"/><rect x="448.0" y="464.4" width="5.4" height="6.94" fill="#878787"/><rect x="453.0" y="464.4" width="10.4" height="6.94" fill="#a1a1a1"/><rect x="463.0" y="464.4" width="10.5" height="6.94" fill="#dbdbdb"/><rect x="473.1" y="464.4" width="6.7" height="6.94" fill="#c6c6c6"/><rect x="479.4" y="464.4" width="11.7" height="6.94" fill="#949494"/><rect x="490.7" y="464.4" width="10.4" height="6.94" fill="#878787"/><rect x="500.7" y="464.4" width="13.7" height="6.94" fill="#666666"/><path d="M307.8,374.1 L318.2,378.3 L326.5,382.4" fill="none" stroke="#dbdbdb" stroke-width="4.5" stroke-linecap="round" stroke-linejoin="round"/><path d="M312.0,388.7 L326.5,397.0" fill="none" stroke="#dbdbdb" stroke-width="4.5" stroke-linecap="round" stroke-linejoin="round"/><path d="M307.8,409.4 L318.2,413.6 L326.5,417.7" fill="none" stroke="#ededed" stroke-width="5.5" stroke-linecap="round" stroke-linejoin="round"/><path d="M307.8,424.0 L318.2,428.1 L328.6,432.2" fill="none" stroke="#ededed" stroke-width="5.5" stroke-linecap="round" stroke-linejoin="round"/><path d="M307.8,438.5 L316.2,446.8 L328.6,453.0" fill="none" stroke="#ededed" stroke-width="5.5" stroke-linecap="round" stroke-linejoin="round"/><path d="M334.8,428.1 L347.2,432.2 L355.5,438.5" fill="none" stroke="#ededed" stroke-width="5" stroke-linecap="round" stroke-linejoin="round"/><path d="M336.9,446.8 L347.2,450.9 L355.5,455.1" fill="none" stroke="#ededed" stroke-width="5" stroke-linecap="round" stroke-linejoin="round"/><path d="M369.4,380.0 L369.4,397.5 L367.9,417.8 L369.4,435.3 L378.1,444.0 L389.7,451.3 L404.3,452.7 L415.9,449.8 L421.7,444.0 L430.5,442.5 L442.1,446.9" fill="none" stroke="#ededed" stroke-width="4" stroke-linecap="round" stroke-linejoin="round"/><path d="M372.3,420.7 L381.0,432.4 L392.6,438.2 L407.2,439.6 L413.0,436.7" fill="none" stroke="#dbdbdb" stroke-width="3.5" stroke-linecap="round" stroke-linejoin="round"/></g></g><rect x="517.8" y="34.6" width="13.4" height="203.2" fill="url(#jet)"/><rect x="517.6" y="268.3" width="13.4" height="202.5" fill="url(#jet)"/><text x="534.6" y="51.1" class="cl">10</text><line x1="529.6" x2="531" y1="48.4" y2="48.4" stroke="#333" stroke-width="0.6"/><text x="534.6" y="74.9" class="cl">0</text><line x1="529.6" x2="531" y1="72.2" y2="72.2" stroke="#333" stroke-width="0.6"/><text x="533.6" y="98.7" class="cl">-10</text><line x1="529.6" x2="531" y1="96.0" y2="96.0" stroke="#333" stroke-width="0.6"/><text x="533.6" y="122.5" class="cl">-20</text><line x1="529.6" x2="531" y1="119.8" y2="119.8" stroke="#333" stroke-width="0.6"/><text x="533.6" y="146.3" class="cl">-30</text><line x1="529.6" x2="531" y1="143.6" y2="143.6" stroke="#333" stroke-width="0.6"/><text x="533.6" y="170.1" class="cl">-40</text><line x1="529.6" x2="531" y1="167.4" y2="167.4" stroke="#333" stroke-width="0.6"/><text x="533.6" y="193.9" class="cl">-50</text><line x1="529.6" x2="531" y1="191.2" y2="191.2" stroke="#333" stroke-width="0.6"/><text x="533.6" y="217.7" class="cl">-60</text><line x1="529.6" x2="531" y1="215.0" y2="215.0" stroke="#333" stroke-width="0.6"/><text x="533.6" y="241.5" class="cl">-70</text><line x1="529.6" x2="531" y1="238.8" y2="238.8" stroke="#333" stroke-width="0.6"/><text x="534.6" y="284.5" class="cl">10</text><line x1="529.6" x2="531" y1="281.8" y2="281.8" stroke="#333" stroke-width="0.6"/><text x="534.6" y="308.3" class="cl">0</text><line x1="529.6" x2="531" y1="305.6" y2="305.6" stroke="#333" stroke-width="0.6"/><text x="533.6" y="332.1" class="cl">-10</text><line x1="529.6" x2="531" y1="329.4" y2="329.4" stroke="#333" stroke-width="0.6"/><text x="533.6" y="355.9" class="cl">-20</text><line x1="529.6" x2="531" y1="353.2" y2="353.2" stroke="#333" stroke-width="0.6"/><text x="533.6" y="379.7" class="cl">-30</text><line x1="529.6" x2="531" y1="377.0" y2="377.0" stroke="#333" stroke-width="0.6"/><text x="533.6" y="403.5" class="cl">-40</text><line x1="529.6" x2="531" y1="400.8" y2="400.8" stroke="#333" stroke-width="0.6"/><text x="533.6" y="427.3" class="cl">-50</text><line x1="529.6" x2="531" y1="424.6" y2="424.6" stroke="#333" stroke-width="0.6"/><text x="533.6" y="451.1" class="cl">-60</text><line x1="529.6" x2="531" y1="448.4" y2="448.4" stroke="#333" stroke-width="0.6"/><text x="533.6" y="474.9" class="cl">-70</text><line x1="529.6" x2="531" y1="472.2" y2="472.2" stroke="#333" stroke-width="0.6"/><text x="524.9" y="31.2" class="db">dB</text><text x="43.6" y="52.4" class="yl">6881</text><text x="43.6" y="65.0" class="yl">5777</text><text x="43.6" y="77.7" class="yl">4834</text><text x="43.6" y="90.4" class="yl">4028</text><text x="43.6" y="103.0" class="yl">3340</text><text x="43.6" y="115.7" class="yl">2752</text><text x="43.6" y="128.3" class="yl">2249</text><text x="43.6" y="141.0" class="yl">1820</text><text x="43.6" y="153.6" class="yl">1453</text><text x="43.6" y="166.3" class="yl">1140</text><text x="43.6" y="178.9" class="yl">872</text><text x="43.6" y="191.6" class="yl">643</text><text x="43.6" y="204.2" class="yl">447</text><text x="43.6" y="216.9" class="yl">280</text><text x="43.6" y="229.5" class="yl">138</text><text x="43.6" y="286.3" class="yl">6881</text><text x="43.6" y="298.9" class="yl">5777</text><text x="43.6" y="311.6" class="yl">4834</text><text x="43.6" y="324.2" class="yl">4028</text><text x="43.6" y="336.9" class="yl">3340</text><text x="43.6" y="349.5" class="yl">2752</text><text x="43.6" y="362.2" class="yl">2249</text><text x="43.6" y="374.8" class="yl">1820</text><text x="43.6" y="387.5" class="yl">1453</text><text x="43.6" y="400.1" class="yl">1140</text><text x="43.6" y="412.8" class="yl">872</text><text x="43.6" y="425.4" class="yl">643</text><text x="43.6" y="438.1" class="yl">447</text><text x="43.6" y="450.8" class="yl">280</text><text x="43.6" y="463.4" class="yl">138</text><text x="160.3" y="24.7" class="tt">Angry</text><text x="413.3" y="24.6" class="tt">Happy</text><text x="158.9" y="260.9" class="tt">Sad</text><text x="414.5" y="261.1" class="tt">Neutral</text><text x="152.7" y="489.1" class="tm">Time</text><text x="418.0" y="489.8" class="tm">Time</text><text class="hz" transform="translate(21.6,134.4) rotate(-90) scale(0.88,1)">HZ</text><text class="hz" transform="translate(22.2,374.2) rotate(-90) scale(0.9,1)">HZ</text><rect x="83.4" y="128.8" width="24.0" height="67.0" fill="none" stroke="#000" stroke-width="3"/><rect x="157.9" y="61.0" width="33.1" height="53.6" fill="none" stroke="#000" stroke-width="3"/><line x1="117.7" y1="161.9" x2="151.1" y2="130.7" stroke="#000" stroke-width="3.4"/><polygon points="158.9,123.4 154.5,135.8 146.2,126.9" fill="#000"/><polygon points="109.9,169.2 122.6,165.7 114.3,156.8" fill="#000"/><rect x="399.8" y="59.8" width="57.7" height="57.6" fill="none" stroke="#000" stroke-width="3"/><rect x="340.6" y="168.0" width="86.0" height="53.5" fill="none" stroke="#000" stroke-width="3"/><line x1="397.0" y1="154.3" x2="411.3" y2="130.1" stroke="#000" stroke-width="3.4"/><polygon points="416.8,120.9 416.1,134.1 405.6,127.8" fill="#000"/><polygon points="391.5,163.5 402.7,156.6 392.2,150.3" fill="#000"/><rect x="56.3" y="281.3" width="26.7" height="52.9" fill="none" stroke="#000" stroke-width="3"/><line x1="105.3" y1="328.3" x2="158.8" y2="368.7" stroke="#000" stroke-width="3.4"/><polygon points="167.3,375.2 154.3,373.0 161.7,363.3" fill="#000"/><polygon points="96.8,321.8 102.4,333.7 109.8,324.0" fill="#000"/><ellipse cx="200.2" cy="390.5" rx="29.6" ry="24.9" fill="none" stroke="#16204a" stroke-width="2.6"/><line x1="263.8" y1="364.8" x2="242.9" y2="380.4" stroke="#ee1c24" stroke-width="4.2"/><polygon points="234.9,386.4 239.8,374.6 247.6,385.0" fill="#ee1c24"/><rect x="290.0" y="283.4" width="56.4" height="66.8" fill="none" stroke="#000" stroke-width="3"/><rect x="445.5" y="304.5" width="46.7" height="49.0" fill="none" stroke="#000" stroke-width="3"/><rect x="451.8" y="423.1" width="40.2" height="40.2" fill="none" stroke="#16204a" stroke-width="2.6"/><line x1="367.9" y1="316.9" x2="425.4" y2="327.5" stroke="#000" stroke-width="3.4"/><polygon points="435.9,329.5 423.3,333.4 425.5,321.4" fill="#000"/><polygon points="357.4,314.9 367.8,323.0 370.0,311.0" fill="#000"/><text x="251.2" y="60.6" class="pl">(a)</text><text x="489.3" y="62.2" class="pl">(b)</text><text x="249.8" y="294.5" class="pl">(c)</text><text x="489.7" y="294.2" class="pl">(d)</text></svg></body></html>
